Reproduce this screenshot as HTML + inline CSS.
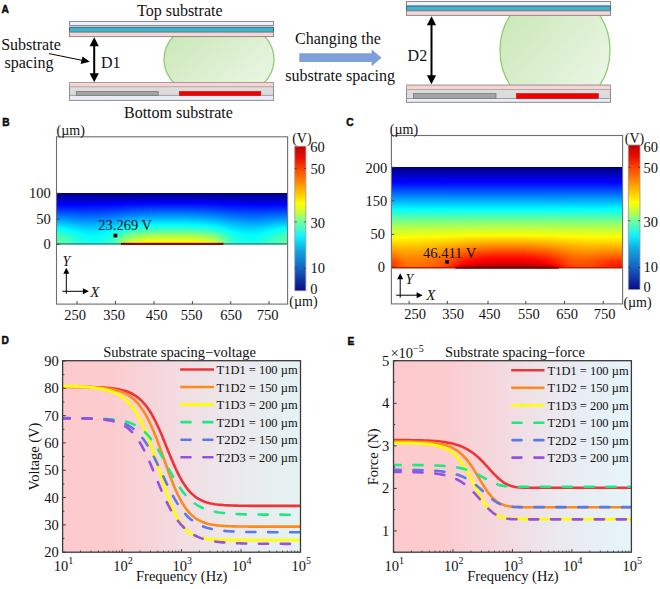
<!DOCTYPE html>
<html><head><meta charset="utf-8"><style>
html,body{margin:0;padding:0;background:#fff;width:660px;height:589px;overflow:hidden}
svg{display:block}
text{fill:#111}
</style></head><body>
<svg width="660" height="589" viewBox="0 0 660 589">
<defs><clipPath id="cpL"><rect x="161" y="36.8" width="116" height="45.5"/></clipPath>
<linearGradient id="dgL" x1="0" y1="0" x2="1" y2="1"><stop offset="0" stop-color="#c6e6b2"/><stop offset="1" stop-color="#f0f8ec"/></linearGradient>
<clipPath id="cpR"><rect x="497" y="16" width="116" height="68.8"/></clipPath>
<linearGradient id="dgR" x1="0" y1="0" x2="1" y2="1"><stop offset="0" stop-color="#c6e6b2"/><stop offset="1" stop-color="#f0f8ec"/></linearGradient>
<linearGradient id="g1" x2="0" y2="1"><stop offset=".010" stop-color="#000086"/><stop offset=".230" stop-color="#0000fc"/><stop offset=".290" stop-color="#001aff"/><stop offset=".550" stop-color="#00a4ff"/><stop offset=".710" stop-color="#00feff"/><stop offset=".850" stop-color="#3effc1"/><stop offset=".950" stop-color="#5cffa3"/><stop offset=".990" stop-color="#62ff9d"/></linearGradient>
<linearGradient id="g2" x2="0" y2="1"><stop offset=".010" stop-color="#000086"/><stop offset=".230" stop-color="#0000fc"/><stop offset=".290" stop-color="#001aff"/><stop offset=".550" stop-color="#00a3ff"/><stop offset=".710" stop-color="#00fcff"/><stop offset=".850" stop-color="#3cffc3"/><stop offset=".950" stop-color="#59ffa6"/><stop offset=".990" stop-color="#5fffa0"/></linearGradient>
<linearGradient id="g3" x2="0" y2="1"><stop offset=".010" stop-color="#000086"/><stop offset=".230" stop-color="#0000fc"/><stop offset=".290" stop-color="#001aff"/><stop offset=".570" stop-color="#00adff"/><stop offset=".710" stop-color="#00faff"/><stop offset=".730" stop-color="#04fffb"/><stop offset=".850" stop-color="#39ffc6"/><stop offset=".950" stop-color="#55ffaa"/><stop offset=".990" stop-color="#5bffa4"/></linearGradient>
<linearGradient id="g4" x2="0" y2="1"><stop offset=".010" stop-color="#000086"/><stop offset=".230" stop-color="#0000fc"/><stop offset=".290" stop-color="#001aff"/><stop offset=".590" stop-color="#00b7ff"/><stop offset=".710" stop-color="#00f7ff"/><stop offset=".730" stop-color="#02fffd"/><stop offset=".850" stop-color="#35ffca"/><stop offset=".950" stop-color="#52ffad"/><stop offset=".990" stop-color="#57ffa8"/></linearGradient>
<linearGradient id="g5" x2="0" y2="1"><stop offset=".010" stop-color="#000086"/><stop offset=".230" stop-color="#0000fc"/><stop offset=".290" stop-color="#001aff"/><stop offset=".590" stop-color="#00b6ff"/><stop offset=".710" stop-color="#00f6ff"/><stop offset=".730" stop-color="#00ffff"/><stop offset=".850" stop-color="#33ffcc"/><stop offset=".950" stop-color="#4fffb0"/><stop offset=".990" stop-color="#54ffab"/></linearGradient>
<linearGradient id="g6" x2="0" y2="1"><stop offset=".010" stop-color="#000086"/><stop offset=".230" stop-color="#0000fb"/><stop offset=".290" stop-color="#0019ff"/><stop offset=".610" stop-color="#00c0ff"/><stop offset=".710" stop-color="#00f4ff"/><stop offset=".730" stop-color="#00fdff"/><stop offset=".850" stop-color="#31ffce"/><stop offset=".950" stop-color="#4cffb3"/><stop offset=".990" stop-color="#51ffae"/></linearGradient>
<linearGradient id="g7" x2="0" y2="1"><stop offset=".010" stop-color="#000085"/><stop offset=".230" stop-color="#0000fb"/><stop offset=".290" stop-color="#0019ff"/><stop offset=".630" stop-color="#00c9ff"/><stop offset=".730" stop-color="#00fbff"/><stop offset=".770" stop-color="#0efff1"/><stop offset=".870" stop-color="#34ffcb"/><stop offset=".950" stop-color="#49ffb6"/><stop offset=".990" stop-color="#4effb1"/></linearGradient>
<linearGradient id="g8" x2="0" y2="1"><stop offset=".010" stop-color="#000085"/><stop offset=".230" stop-color="#0000fb"/><stop offset=".290" stop-color="#0019ff"/><stop offset=".650" stop-color="#00d3ff"/><stop offset=".730" stop-color="#00f9ff"/><stop offset=".750" stop-color="#03fffc"/><stop offset=".850" stop-color="#2bffd4"/><stop offset=".950" stop-color="#46ffb9"/><stop offset=".990" stop-color="#4bffb4"/></linearGradient>
<linearGradient id="g9" x2="0" y2="1"><stop offset=".010" stop-color="#000085"/><stop offset=".230" stop-color="#0000fb"/><stop offset=".270" stop-color="#000fff"/><stop offset=".630" stop-color="#00c6ff"/><stop offset=".730" stop-color="#00f7ff"/><stop offset=".750" stop-color="#01fffe"/><stop offset=".850" stop-color="#28ffd7"/><stop offset=".950" stop-color="#43ffbc"/><stop offset=".990" stop-color="#48ffb7"/></linearGradient>
<linearGradient id="g10" x2="0" y2="1"><stop offset=".010" stop-color="#000085"/><stop offset=".230" stop-color="#0000fb"/><stop offset=".270" stop-color="#000fff"/><stop offset=".650" stop-color="#00cfff"/><stop offset=".750" stop-color="#00fdff"/><stop offset=".870" stop-color="#2bffd4"/><stop offset=".950" stop-color="#3fffc0"/><stop offset=".990" stop-color="#44ffbb"/></linearGradient>
<linearGradient id="g11" x2="0" y2="1"><stop offset=".010" stop-color="#000085"/><stop offset=".230" stop-color="#0000fb"/><stop offset=".270" stop-color="#000fff"/><stop offset=".710" stop-color="#00eaff"/><stop offset=".750" stop-color="#00fbff"/><stop offset=".790" stop-color="#0dfff2"/><stop offset=".890" stop-color="#2effd1"/><stop offset=".970" stop-color="#3effc1"/><stop offset=".990" stop-color="#41ffbe"/></linearGradient>
<linearGradient id="g12" x2="0" y2="1"><stop offset=".010" stop-color="#000085"/><stop offset=".230" stop-color="#0000fb"/><stop offset=".270" stop-color="#000fff"/><stop offset=".710" stop-color="#00e8ff"/><stop offset=".770" stop-color="#02fffd"/><stop offset=".870" stop-color="#25ffda"/><stop offset=".950" stop-color="#38ffc7"/><stop offset=".990" stop-color="#3dffc2"/></linearGradient>
<linearGradient id="g13" x2="0" y2="1"><stop offset=".010" stop-color="#000085"/><stop offset=".230" stop-color="#0000fb"/><stop offset=".270" stop-color="#000fff"/><stop offset=".690" stop-color="#00ddff"/><stop offset=".770" stop-color="#00feff"/><stop offset=".870" stop-color="#22ffdd"/><stop offset=".950" stop-color="#35ffca"/><stop offset=".990" stop-color="#3affc5"/></linearGradient>
<linearGradient id="g14" x2="0" y2="1"><stop offset=".010" stop-color="#000085"/><stop offset=".230" stop-color="#0000fb"/><stop offset=".270" stop-color="#000fff"/><stop offset=".690" stop-color="#00dbff"/><stop offset=".770" stop-color="#00fcff"/><stop offset=".850" stop-color="#19ffe6"/><stop offset=".950" stop-color="#32ffcd"/><stop offset=".990" stop-color="#36ffc9"/></linearGradient>
<linearGradient id="g15" x2="0" y2="1"><stop offset=".010" stop-color="#000085"/><stop offset=".230" stop-color="#0000fb"/><stop offset=".270" stop-color="#000fff"/><stop offset=".690" stop-color="#00d9ff"/><stop offset=".790" stop-color="#02fffd"/><stop offset=".890" stop-color="#21ffde"/><stop offset=".970" stop-color="#31ffce"/><stop offset=".990" stop-color="#33ffcc"/></linearGradient>
<linearGradient id="g16" x2="0" y2="1"><stop offset=".010" stop-color="#000085"/><stop offset=".230" stop-color="#0000fb"/><stop offset=".270" stop-color="#000fff"/><stop offset=".690" stop-color="#00d8ff"/><stop offset=".790" stop-color="#00ffff"/><stop offset=".890" stop-color="#1effe1"/><stop offset=".970" stop-color="#2effd1"/><stop offset=".990" stop-color="#30ffcf"/></linearGradient>
<linearGradient id="g17" x2="0" y2="1"><stop offset=".010" stop-color="#000085"/><stop offset=".230" stop-color="#0000fb"/><stop offset=".270" stop-color="#000fff"/><stop offset=".690" stop-color="#00d6ff"/><stop offset=".790" stop-color="#00fdff"/><stop offset=".950" stop-color="#28ffd7"/><stop offset=".990" stop-color="#2dffd2"/></linearGradient>
<linearGradient id="g18" x2="0" y2="1"><stop offset=".010" stop-color="#000085"/><stop offset=".230" stop-color="#0000fb"/><stop offset=".270" stop-color="#000fff"/><stop offset=".690" stop-color="#00d4ff"/><stop offset=".790" stop-color="#00faff"/><stop offset=".830" stop-color="#09fff6"/><stop offset=".950" stop-color="#25ffda"/><stop offset=".990" stop-color="#2affd5"/></linearGradient>
<linearGradient id="g19" x2="0" y2="1"><stop offset=".010" stop-color="#000085"/><stop offset=".230" stop-color="#0000fb"/><stop offset=".270" stop-color="#000eff"/><stop offset=".690" stop-color="#00d3ff"/><stop offset=".810" stop-color="#01fffe"/><stop offset=".950" stop-color="#23ffdc"/><stop offset=".990" stop-color="#27ffd8"/></linearGradient>
<linearGradient id="g20" x2="0" y2="1"><stop offset=".010" stop-color="#000085"/><stop offset=".230" stop-color="#0000fb"/><stop offset=".270" stop-color="#000eff"/><stop offset=".690" stop-color="#00d0ff"/><stop offset=".810" stop-color="#00fdff"/><stop offset=".950" stop-color="#1fffe0"/><stop offset=".990" stop-color="#23ffdc"/></linearGradient>
<linearGradient id="g21" x2="0" y2="1"><stop offset=".010" stop-color="#000085"/><stop offset=".230" stop-color="#0000fb"/><stop offset=".270" stop-color="#000fff"/><stop offset=".690" stop-color="#00ceff"/><stop offset=".830" stop-color="#01fffe"/><stop offset=".950" stop-color="#1bffe4"/><stop offset=".990" stop-color="#1effe1"/></linearGradient>
<linearGradient id="g22" x2="0" y2="1"><stop offset=".010" stop-color="#000085"/><stop offset=".230" stop-color="#0000fb"/><stop offset=".270" stop-color="#000fff"/><stop offset=".690" stop-color="#00ccff"/><stop offset=".830" stop-color="#00fdff"/><stop offset=".970" stop-color="#19ffe6"/><stop offset=".990" stop-color="#1bffe4"/></linearGradient>
<linearGradient id="g23" x2="0" y2="1"><stop offset=".010" stop-color="#000085"/><stop offset=".230" stop-color="#0000fb"/><stop offset=".270" stop-color="#000fff"/><stop offset=".670" stop-color="#00c3ff"/><stop offset=".830" stop-color="#00faff"/><stop offset=".870" stop-color="#04fffb"/><stop offset=".970" stop-color="#15ffea"/><stop offset=".990" stop-color="#17ffe8"/></linearGradient>
<linearGradient id="g24" x2="0" y2="1"><stop offset=".010" stop-color="#000085"/><stop offset=".230" stop-color="#0000fc"/><stop offset=".390" stop-color="#0047ff"/><stop offset=".690" stop-color="#00caff"/><stop offset=".830" stop-color="#00f9ff"/><stop offset=".890" stop-color="#07fff8"/><stop offset=".990" stop-color="#14ffeb"/></linearGradient>
<linearGradient id="g25" x2="0" y2="1"><stop offset=".010" stop-color="#000085"/><stop offset=".230" stop-color="#0000fe"/><stop offset=".610" stop-color="#00abff"/><stop offset=".750" stop-color="#00e1ff"/><stop offset=".830" stop-color="#00fcff"/><stop offset=".970" stop-color="#15ffea"/><stop offset=".990" stop-color="#16ffe9"/></linearGradient>
<linearGradient id="g26" x2="0" y2="1"><stop offset=".010" stop-color="#000085"/><stop offset=".230" stop-color="#0000fe"/><stop offset=".610" stop-color="#00adff"/><stop offset=".770" stop-color="#00ecff"/><stop offset=".830" stop-color="#01fffe"/><stop offset=".950" stop-color="#17ffe8"/><stop offset=".990" stop-color="#1affe5"/></linearGradient>
<linearGradient id="g27" x2="0" y2="1"><stop offset=".010" stop-color="#000085"/><stop offset=".230" stop-color="#0000ff"/><stop offset=".590" stop-color="#00a6ff"/><stop offset=".710" stop-color="#00d8ff"/><stop offset=".810" stop-color="#00fdff"/><stop offset=".950" stop-color="#1bffe4"/><stop offset=".990" stop-color="#1dffe2"/></linearGradient>
<linearGradient id="g28" x2="0" y2="1"><stop offset=".010" stop-color="#000085"/><stop offset=".230" stop-color="#0000ff"/><stop offset=".590" stop-color="#00a8ff"/><stop offset=".710" stop-color="#00daff"/><stop offset=".810" stop-color="#01fffe"/><stop offset=".930" stop-color="#1cffe3"/><stop offset=".990" stop-color="#21ffde"/></linearGradient>
<linearGradient id="g29" x2="0" y2="1"><stop offset=".010" stop-color="#000085"/><stop offset=".230" stop-color="#0001ff"/><stop offset=".590" stop-color="#00a9ff"/><stop offset=".790" stop-color="#00fbff"/><stop offset=".830" stop-color="#0afff5"/><stop offset=".950" stop-color="#21ffde"/><stop offset=".990" stop-color="#23ffdc"/></linearGradient>
<linearGradient id="g30" x2="0" y2="1"><stop offset=".010" stop-color="#000085"/><stop offset=".210" stop-color="#0000f6"/><stop offset=".230" stop-color="#0001ff"/><stop offset=".590" stop-color="#00aaff"/><stop offset=".790" stop-color="#00fdff"/><stop offset=".910" stop-color="#1effe1"/><stop offset=".990" stop-color="#26ffd9"/></linearGradient>
<linearGradient id="g31" x2="0" y2="1"><stop offset=".010" stop-color="#000085"/><stop offset=".210" stop-color="#0000f6"/><stop offset=".230" stop-color="#0001ff"/><stop offset=".610" stop-color="#00b4ff"/><stop offset=".790" stop-color="#00ffff"/><stop offset=".870" stop-color="#18ffe7"/><stop offset=".970" stop-color="#29ffd6"/><stop offset=".990" stop-color="#2affd5"/></linearGradient>
<linearGradient id="g32" x2="0" y2="1"><stop offset=".010" stop-color="#000085"/><stop offset=".210" stop-color="#0000f7"/><stop offset=".230" stop-color="#0002ff"/><stop offset=".610" stop-color="#00b6ff"/><stop offset=".770" stop-color="#00faff"/><stop offset=".790" stop-color="#03fffc"/><stop offset=".870" stop-color="#1cffe3"/><stop offset=".970" stop-color="#2dffd2"/><stop offset=".990" stop-color="#2dffd2"/></linearGradient>
<linearGradient id="g33" x2="0" y2="1"><stop offset=".010" stop-color="#000085"/><stop offset=".210" stop-color="#0000f7"/><stop offset=".230" stop-color="#0002ff"/><stop offset=".610" stop-color="#00b7ff"/><stop offset=".770" stop-color="#00fcff"/><stop offset=".870" stop-color="#1fffe0"/><stop offset=".970" stop-color="#31ffce"/><stop offset=".990" stop-color="#32ffcd"/></linearGradient>
<linearGradient id="g34" x2="0" y2="1"><stop offset=".010" stop-color="#000085"/><stop offset=".210" stop-color="#0000f7"/><stop offset=".230" stop-color="#0002ff"/><stop offset=".610" stop-color="#00b8ff"/><stop offset=".770" stop-color="#00ffff"/><stop offset=".850" stop-color="#1effe1"/><stop offset=".950" stop-color="#34ffcb"/><stop offset=".990" stop-color="#37ffc8"/></linearGradient>
<linearGradient id="g35" x2="0" y2="1"><stop offset=".010" stop-color="#000085"/><stop offset=".210" stop-color="#0000f8"/><stop offset=".230" stop-color="#0003ff"/><stop offset=".630" stop-color="#00c3ff"/><stop offset=".770" stop-color="#02fffd"/><stop offset=".830" stop-color="#1cffe3"/><stop offset=".950" stop-color="#39ffc6"/><stop offset=".990" stop-color="#3cffc3"/></linearGradient>
<linearGradient id="g36" x2="0" y2="1"><stop offset=".010" stop-color="#000085"/><stop offset=".210" stop-color="#0000f8"/><stop offset=".230" stop-color="#0003ff"/><stop offset=".670" stop-color="#00d8ff"/><stop offset=".750" stop-color="#00fbff"/><stop offset=".790" stop-color="#0ffff0"/><stop offset=".850" stop-color="#26ffd9"/><stop offset=".950" stop-color="#3effc1"/><stop offset=".990" stop-color="#42ffbd"/></linearGradient>
<linearGradient id="g37" x2="0" y2="1"><stop offset=".010" stop-color="#000085"/><stop offset=".210" stop-color="#0000f8"/><stop offset=".230" stop-color="#0003ff"/><stop offset=".670" stop-color="#00daff"/><stop offset=".750" stop-color="#00fdff"/><stop offset=".830" stop-color="#24ffdb"/><stop offset=".950" stop-color="#45ffba"/><stop offset=".990" stop-color="#49ffb6"/></linearGradient>
<linearGradient id="g38" x2="0" y2="1"><stop offset=".010" stop-color="#000085"/><stop offset=".210" stop-color="#0000f9"/><stop offset=".230" stop-color="#0004ff"/><stop offset=".690" stop-color="#00e4ff"/><stop offset=".750" stop-color="#01fffe"/><stop offset=".830" stop-color="#28ffd7"/><stop offset=".950" stop-color="#4bffb4"/><stop offset=".990" stop-color="#51ffae"/></linearGradient>
<linearGradient id="g39" x2="0" y2="1"><stop offset=".010" stop-color="#000085"/><stop offset=".210" stop-color="#0000f9"/><stop offset=".230" stop-color="#0004ff"/><stop offset=".690" stop-color="#00e7ff"/><stop offset=".730" stop-color="#00f8ff"/><stop offset=".750" stop-color="#04fffb"/><stop offset=".830" stop-color="#2dffd2"/><stop offset=".950" stop-color="#53ffac"/><stop offset=".990" stop-color="#5affa5"/></linearGradient>
<linearGradient id="g40" x2="0" y2="1"><stop offset=".010" stop-color="#000085"/><stop offset=".210" stop-color="#0000f9"/><stop offset=".230" stop-color="#0004ff"/><stop offset=".710" stop-color="#00f2ff"/><stop offset=".730" stop-color="#00fbff"/><stop offset=".770" stop-color="#13ffec"/><stop offset=".830" stop-color="#31ffce"/><stop offset=".970" stop-color="#5fffa0"/><stop offset=".990" stop-color="#63ff9c"/></linearGradient>
<linearGradient id="g41" x2="0" y2="1"><stop offset=".010" stop-color="#000085"/><stop offset=".210" stop-color="#0000fa"/><stop offset=".230" stop-color="#0005ff"/><stop offset=".730" stop-color="#00feff"/><stop offset=".830" stop-color="#36ffc9"/><stop offset=".970" stop-color="#69ff96"/><stop offset=".990" stop-color="#6eff91"/></linearGradient>
<linearGradient id="g42" x2="0" y2="1"><stop offset=".010" stop-color="#000085"/><stop offset=".210" stop-color="#0000fa"/><stop offset=".230" stop-color="#0005ff"/><stop offset=".710" stop-color="#00f7ff"/><stop offset=".730" stop-color="#01fffe"/><stop offset=".830" stop-color="#3bffc4"/><stop offset=".970" stop-color="#73ff8c"/><stop offset=".990" stop-color="#79ff86"/></linearGradient>
<linearGradient id="g43" x2="0" y2="1"><stop offset=".010" stop-color="#000085"/><stop offset=".210" stop-color="#0000fa"/><stop offset=".250" stop-color="#0010ff"/><stop offset=".710" stop-color="#00f9ff"/><stop offset=".730" stop-color="#04fffb"/><stop offset=".830" stop-color="#40ffbf"/><stop offset=".990" stop-color="#84ff7b"/></linearGradient>
<linearGradient id="g44" x2="0" y2="1"><stop offset=".010" stop-color="#000085"/><stop offset=".210" stop-color="#0000fb"/><stop offset=".250" stop-color="#0010ff"/><stop offset=".710" stop-color="#00fcff"/><stop offset=".730" stop-color="#07fff8"/><stop offset=".830" stop-color="#45ffba"/><stop offset=".990" stop-color="#90ff6f"/></linearGradient>
<linearGradient id="g45" x2="0" y2="1"><stop offset=".010" stop-color="#000085"/><stop offset=".210" stop-color="#0000fb"/><stop offset=".250" stop-color="#0011ff"/><stop offset=".710" stop-color="#00ffff"/><stop offset=".790" stop-color="#32ffcd"/><stop offset=".870" stop-color="#5effa1"/><stop offset=".990" stop-color="#9bff64"/></linearGradient>
<linearGradient id="g46" x2="0" y2="1"><stop offset=".010" stop-color="#000085"/><stop offset=".210" stop-color="#0000fb"/><stop offset=".250" stop-color="#0011ff"/><stop offset=".710" stop-color="#02fffd"/><stop offset=".830" stop-color="#4fffb0"/><stop offset=".990" stop-color="#a6ff59"/></linearGradient>
<linearGradient id="g47" x2="0" y2="1"><stop offset=".010" stop-color="#000085"/><stop offset=".210" stop-color="#0000fc"/><stop offset=".270" stop-color="#001cff"/><stop offset=".690" stop-color="#00f9ff"/><stop offset=".710" stop-color="#05fffa"/><stop offset=".790" stop-color="#3affc5"/><stop offset=".870" stop-color="#6aff95"/><stop offset=".990" stop-color="#b0ff4f"/></linearGradient>
<linearGradient id="g48" x2="0" y2="1"><stop offset=".010" stop-color="#000085"/><stop offset=".210" stop-color="#0000fc"/><stop offset=".290" stop-color="#0027ff"/><stop offset=".690" stop-color="#00fbff"/><stop offset=".730" stop-color="#12ffed"/><stop offset=".830" stop-color="#59ffa6"/><stop offset=".970" stop-color="#adff52"/><stop offset=".990" stop-color="#b9ff46"/></linearGradient>
<linearGradient id="g49" x2="0" y2="1"><stop offset=".010" stop-color="#000085"/><stop offset=".210" stop-color="#0000fc"/><stop offset=".370" stop-color="#0052ff"/><stop offset=".690" stop-color="#00feff"/><stop offset=".730" stop-color="#15ffea"/><stop offset=".830" stop-color="#5dffa2"/><stop offset=".950" stop-color="#a7ff58"/><stop offset=".990" stop-color="#c2ff3d"/></linearGradient>
<linearGradient id="g50" x2="0" y2="1"><stop offset=".010" stop-color="#000086"/><stop offset=".210" stop-color="#0000fc"/><stop offset=".650" stop-color="#00e9ff"/><stop offset=".690" stop-color="#01fffe"/><stop offset=".730" stop-color="#17ffe8"/><stop offset=".830" stop-color="#61ff9e"/><stop offset=".950" stop-color="#aeff51"/><stop offset=".990" stop-color="#c9ff36"/></linearGradient>
<linearGradient id="g51" x2="0" y2="1"><stop offset=".010" stop-color="#000086"/><stop offset=".210" stop-color="#0000fd"/><stop offset=".650" stop-color="#00ebff"/><stop offset=".690" stop-color="#03fffc"/><stop offset=".730" stop-color="#1affe5"/><stop offset=".830" stop-color="#65ff9a"/><stop offset=".950" stop-color="#b4ff4b"/><stop offset=".990" stop-color="#d0ff2f"/></linearGradient>
<linearGradient id="g52" x2="0" y2="1"><stop offset=".010" stop-color="#000086"/><stop offset=".210" stop-color="#0000fd"/><stop offset=".650" stop-color="#00ecff"/><stop offset=".670" stop-color="#00f8ff"/><stop offset=".690" stop-color="#05fffa"/><stop offset=".730" stop-color="#1cffe3"/><stop offset=".830" stop-color="#69ff96"/><stop offset=".950" stop-color="#b9ff46"/><stop offset=".990" stop-color="#d6ff29"/></linearGradient>
<linearGradient id="g53" x2="0" y2="1"><stop offset=".010" stop-color="#000086"/><stop offset=".210" stop-color="#0000fd"/><stop offset=".650" stop-color="#00eeff"/><stop offset=".670" stop-color="#00faff"/><stop offset=".710" stop-color="#12ffed"/><stop offset=".750" stop-color="#2effd1"/><stop offset=".830" stop-color="#6dff92"/><stop offset=".950" stop-color="#beff41"/><stop offset=".990" stop-color="#dbff24"/></linearGradient>
<linearGradient id="g54" x2="0" y2="1"><stop offset=".010" stop-color="#000086"/><stop offset=".210" stop-color="#0000fe"/><stop offset=".650" stop-color="#00f0ff"/><stop offset=".670" stop-color="#00fcff"/><stop offset=".730" stop-color="#20ffdf"/><stop offset=".830" stop-color="#70ff8f"/><stop offset=".950" stop-color="#c2ff3d"/><stop offset=".990" stop-color="#e0ff1f"/></linearGradient>
<linearGradient id="g55" x2="0" y2="1"><stop offset=".010" stop-color="#000086"/><stop offset=".210" stop-color="#0000fe"/><stop offset=".650" stop-color="#00f1ff"/><stop offset=".670" stop-color="#00fdff"/><stop offset=".730" stop-color="#22ffdd"/><stop offset=".830" stop-color="#73ff8c"/><stop offset=".950" stop-color="#c6ff39"/><stop offset=".990" stop-color="#e4ff1b"/></linearGradient>
<linearGradient id="g56" x2="0" y2="1"><stop offset=".010" stop-color="#000086"/><stop offset=".210" stop-color="#0000fe"/><stop offset=".650" stop-color="#00f3ff"/><stop offset=".670" stop-color="#00ffff"/><stop offset=".730" stop-color="#24ffdb"/><stop offset=".830" stop-color="#76ff89"/><stop offset=".950" stop-color="#caff35"/><stop offset=".990" stop-color="#e8ff17"/></linearGradient>
<linearGradient id="g57" x2="0" y2="1"><stop offset=".010" stop-color="#000086"/><stop offset=".210" stop-color="#0000ff"/><stop offset=".670" stop-color="#01fffe"/><stop offset=".730" stop-color="#26ffd9"/><stop offset=".830" stop-color="#79ff86"/><stop offset=".950" stop-color="#cdff32"/><stop offset=".990" stop-color="#ebff14"/></linearGradient>
<linearGradient id="g58" x2="0" y2="1"><stop offset=".010" stop-color="#000086"/><stop offset=".210" stop-color="#0000ff"/><stop offset=".650" stop-color="#00f5ff"/><stop offset=".670" stop-color="#03fffc"/><stop offset=".730" stop-color="#28ffd7"/><stop offset=".830" stop-color="#7bff84"/><stop offset=".950" stop-color="#d0ff2f"/><stop offset=".990" stop-color="#eeff11"/></linearGradient>
<linearGradient id="g59" x2="0" y2="1"><stop offset=".010" stop-color="#000086"/><stop offset=".210" stop-color="#0000ff"/><stop offset=".650" stop-color="#00f7ff"/><stop offset=".670" stop-color="#05fffa"/><stop offset=".730" stop-color="#2affd5"/><stop offset=".830" stop-color="#7fff80"/><stop offset=".950" stop-color="#d4ff2b"/><stop offset=".990" stop-color="#f2ff0d"/></linearGradient>
<linearGradient id="g60" x2="0" y2="1"><stop offset=".010" stop-color="#000086"/><stop offset=".210" stop-color="#0001ff"/><stop offset=".650" stop-color="#00faff"/><stop offset=".670" stop-color="#07fff8"/><stop offset=".730" stop-color="#2dffd2"/><stop offset=".830" stop-color="#83ff7c"/><stop offset=".950" stop-color="#d8ff27"/><stop offset=".990" stop-color="#f6ff09"/></linearGradient>
<linearGradient id="g61" x2="0" y2="1"><stop offset=".010" stop-color="#000086"/><stop offset=".210" stop-color="#0001ff"/><stop offset=".650" stop-color="#00fcff"/><stop offset=".710" stop-color="#22ffdd"/><stop offset=".750" stop-color="#41ffbe"/><stop offset=".830" stop-color="#86ff79"/><stop offset=".990" stop-color="#faff05"/></linearGradient>
<linearGradient id="g62" x2="0" y2="1"><stop offset=".010" stop-color="#000086"/><stop offset=".210" stop-color="#0002ff"/><stop offset=".630" stop-color="#00f1ff"/><stop offset=".650" stop-color="#00fdff"/><stop offset=".730" stop-color="#32ffcd"/><stop offset=".830" stop-color="#89ff76"/><stop offset=".990" stop-color="#fdff02"/></linearGradient>
<linearGradient id="g63" x2="0" y2="1"><stop offset=".010" stop-color="#000086"/><stop offset=".210" stop-color="#0002ff"/><stop offset=".650" stop-color="#01fffe"/><stop offset=".730" stop-color="#34ffcb"/><stop offset=".830" stop-color="#8cff73"/><stop offset=".990" stop-color="#fffe00"/></linearGradient>
<linearGradient id="g64" x2="0" y2="1"><stop offset=".010" stop-color="#000086"/><stop offset=".190" stop-color="#0000f6"/><stop offset=".210" stop-color="#0003ff"/><stop offset=".650" stop-color="#02fffd"/><stop offset=".730" stop-color="#37ffc8"/><stop offset=".830" stop-color="#90ff6f"/><stop offset=".970" stop-color="#f5ff0a"/><stop offset=".990" stop-color="#fffb00"/></linearGradient>
<linearGradient id="g65" x2="0" y2="1"><stop offset=".010" stop-color="#000086"/><stop offset=".190" stop-color="#0000f6"/><stop offset=".210" stop-color="#0003ff"/><stop offset=".630" stop-color="#00f7ff"/><stop offset=".650" stop-color="#04fffb"/><stop offset=".730" stop-color="#39ffc6"/><stop offset=".830" stop-color="#92ff6d"/><stop offset=".970" stop-color="#f7ff08"/><stop offset=".990" stop-color="#fff900"/></linearGradient>
<linearGradient id="g66" x2="0" y2="1"><stop offset=".010" stop-color="#000086"/><stop offset=".190" stop-color="#0000f7"/><stop offset=".210" stop-color="#0004ff"/><stop offset=".630" stop-color="#00f9ff"/><stop offset=".650" stop-color="#06fff9"/><stop offset=".730" stop-color="#3bffc4"/><stop offset=".830" stop-color="#95ff6a"/><stop offset=".970" stop-color="#faff05"/><stop offset=".990" stop-color="#fff600"/></linearGradient>
<linearGradient id="g67" x2="0" y2="1"><stop offset=".010" stop-color="#000086"/><stop offset=".190" stop-color="#0000f7"/><stop offset=".210" stop-color="#0004ff"/><stop offset=".630" stop-color="#00faff"/><stop offset=".670" stop-color="#15ffea"/><stop offset=".730" stop-color="#3dffc2"/><stop offset=".830" stop-color="#98ff67"/><stop offset=".970" stop-color="#fcff03"/><stop offset=".990" stop-color="#fff400"/></linearGradient>
<linearGradient id="g68" x2="0" y2="1"><stop offset=".010" stop-color="#000086"/><stop offset=".190" stop-color="#0000f6"/><stop offset=".210" stop-color="#0003ff"/><stop offset=".630" stop-color="#00f7ff"/><stop offset=".650" stop-color="#05fffa"/><stop offset=".730" stop-color="#39ffc6"/><stop offset=".830" stop-color="#93ff6c"/><stop offset=".970" stop-color="#f8ff07"/><stop offset=".990" stop-color="#fff800"/></linearGradient>
<linearGradient id="g69" x2="0" y2="1"><stop offset=".010" stop-color="#000086"/><stop offset=".190" stop-color="#0000f6"/><stop offset=".210" stop-color="#0003ff"/><stop offset=".630" stop-color="#00f5ff"/><stop offset=".650" stop-color="#03fffc"/><stop offset=".730" stop-color="#37ffc8"/><stop offset=".830" stop-color="#90ff6f"/><stop offset=".970" stop-color="#f5ff0a"/><stop offset=".990" stop-color="#fffa00"/></linearGradient>
<linearGradient id="g70" x2="0" y2="1"><stop offset=".010" stop-color="#000086"/><stop offset=".190" stop-color="#0000f5"/><stop offset=".210" stop-color="#0002ff"/><stop offset=".650" stop-color="#01fffe"/><stop offset=".730" stop-color="#35ffca"/><stop offset=".830" stop-color="#8dff72"/><stop offset=".990" stop-color="#fffd00"/></linearGradient>
<linearGradient id="g71" x2="0" y2="1"><stop offset=".010" stop-color="#000086"/><stop offset=".210" stop-color="#0002ff"/><stop offset=".630" stop-color="#00f2ff"/><stop offset=".650" stop-color="#00feff"/><stop offset=".730" stop-color="#33ffcc"/><stop offset=".830" stop-color="#8bff74"/><stop offset=".990" stop-color="#feff01"/></linearGradient>
<linearGradient id="g72" x2="0" y2="1"><stop offset=".010" stop-color="#000086"/><stop offset=".210" stop-color="#0001ff"/><stop offset=".630" stop-color="#00f0ff"/><stop offset=".650" stop-color="#00fcff"/><stop offset=".730" stop-color="#31ffce"/><stop offset=".830" stop-color="#88ff77"/><stop offset=".990" stop-color="#fbff04"/></linearGradient>
<linearGradient id="g73" x2="0" y2="1"><stop offset=".010" stop-color="#000086"/><stop offset=".210" stop-color="#0001ff"/><stop offset=".650" stop-color="#00fbff"/><stop offset=".690" stop-color="#15ffea"/><stop offset=".730" stop-color="#2effd1"/><stop offset=".830" stop-color="#85ff7a"/><stop offset=".990" stop-color="#f8ff07"/></linearGradient>
<linearGradient id="g74" x2="0" y2="1"><stop offset=".010" stop-color="#000086"/><stop offset=".210" stop-color="#0000ff"/><stop offset=".650" stop-color="#00f8ff"/><stop offset=".670" stop-color="#06fff9"/><stop offset=".730" stop-color="#2cffd3"/><stop offset=".830" stop-color="#81ff7e"/><stop offset=".950" stop-color="#d6ff29"/><stop offset=".990" stop-color="#f4ff0b"/></linearGradient>
<linearGradient id="g75" x2="0" y2="1"><stop offset=".010" stop-color="#000086"/><stop offset=".210" stop-color="#0000ff"/><stop offset=".650" stop-color="#00f7ff"/><stop offset=".670" stop-color="#04fffb"/><stop offset=".730" stop-color="#29ffd6"/><stop offset=".830" stop-color="#7eff81"/><stop offset=".950" stop-color="#d3ff2c"/><stop offset=".990" stop-color="#f1ff0e"/></linearGradient>
<linearGradient id="g76" x2="0" y2="1"><stop offset=".010" stop-color="#000086"/><stop offset=".210" stop-color="#0000ff"/><stop offset=".650" stop-color="#00f5ff"/><stop offset=".670" stop-color="#03fffc"/><stop offset=".730" stop-color="#28ffd7"/><stop offset=".830" stop-color="#7bff84"/><stop offset=".950" stop-color="#d0ff2f"/><stop offset=".990" stop-color="#eeff11"/></linearGradient>
<linearGradient id="g77" x2="0" y2="1"><stop offset=".010" stop-color="#000086"/><stop offset=".210" stop-color="#0000ff"/><stop offset=".670" stop-color="#01fffe"/><stop offset=".730" stop-color="#26ffd9"/><stop offset=".830" stop-color="#79ff86"/><stop offset=".950" stop-color="#cdff32"/><stop offset=".990" stop-color="#ebff14"/></linearGradient>
<linearGradient id="g78" x2="0" y2="1"><stop offset=".010" stop-color="#000086"/><stop offset=".210" stop-color="#0000fe"/><stop offset=".650" stop-color="#00f3ff"/><stop offset=".670" stop-color="#00ffff"/><stop offset=".730" stop-color="#24ffdb"/><stop offset=".830" stop-color="#76ff89"/><stop offset=".950" stop-color="#caff35"/><stop offset=".990" stop-color="#e8ff17"/></linearGradient>
<linearGradient id="g79" x2="0" y2="1"><stop offset=".010" stop-color="#000086"/><stop offset=".210" stop-color="#0000fe"/><stop offset=".650" stop-color="#00f1ff"/><stop offset=".670" stop-color="#00fdff"/><stop offset=".730" stop-color="#22ffdd"/><stop offset=".830" stop-color="#73ff8c"/><stop offset=".950" stop-color="#c6ff39"/><stop offset=".990" stop-color="#e4ff1b"/></linearGradient>
<linearGradient id="g80" x2="0" y2="1"><stop offset=".010" stop-color="#000086"/><stop offset=".210" stop-color="#0000fe"/><stop offset=".650" stop-color="#00f0ff"/><stop offset=".670" stop-color="#00fcff"/><stop offset=".730" stop-color="#20ffdf"/><stop offset=".830" stop-color="#70ff8f"/><stop offset=".950" stop-color="#c2ff3d"/><stop offset=".990" stop-color="#e0ff1f"/></linearGradient>
<linearGradient id="g81" x2="0" y2="1"><stop offset=".010" stop-color="#000086"/><stop offset=".210" stop-color="#0000fd"/><stop offset=".650" stop-color="#00eeff"/><stop offset=".670" stop-color="#00faff"/><stop offset=".690" stop-color="#07fff8"/><stop offset=".730" stop-color="#1effe1"/><stop offset=".830" stop-color="#6dff92"/><stop offset=".950" stop-color="#beff41"/><stop offset=".990" stop-color="#dbff24"/></linearGradient>
<linearGradient id="g82" x2="0" y2="1"><stop offset=".010" stop-color="#000086"/><stop offset=".210" stop-color="#0000fd"/><stop offset=".650" stop-color="#00ecff"/><stop offset=".690" stop-color="#05fffa"/><stop offset=".730" stop-color="#1cffe3"/><stop offset=".830" stop-color="#69ff96"/><stop offset=".950" stop-color="#b9ff46"/><stop offset=".990" stop-color="#d6ff29"/></linearGradient>
<linearGradient id="g83" x2="0" y2="1"><stop offset=".010" stop-color="#000086"/><stop offset=".210" stop-color="#0000fd"/><stop offset=".650" stop-color="#00ebff"/><stop offset=".690" stop-color="#03fffc"/><stop offset=".730" stop-color="#1affe5"/><stop offset=".830" stop-color="#65ff9a"/><stop offset=".950" stop-color="#b3ff4c"/><stop offset=".990" stop-color="#d0ff2f"/></linearGradient>
<linearGradient id="g84" x2="0" y2="1"><stop offset=".010" stop-color="#000086"/><stop offset=".210" stop-color="#0000fc"/><stop offset=".650" stop-color="#00e9ff"/><stop offset=".690" stop-color="#01fffe"/><stop offset=".730" stop-color="#17ffe8"/><stop offset=".830" stop-color="#61ff9e"/><stop offset=".950" stop-color="#adff52"/><stop offset=".990" stop-color="#c9ff36"/></linearGradient>
<linearGradient id="g85" x2="0" y2="1"><stop offset=".010" stop-color="#000085"/><stop offset=".210" stop-color="#0000fc"/><stop offset=".370" stop-color="#0052ff"/><stop offset=".690" stop-color="#00fdff"/><stop offset=".730" stop-color="#15ffea"/><stop offset=".830" stop-color="#5dffa2"/><stop offset=".950" stop-color="#a7ff58"/><stop offset=".990" stop-color="#c1ff3e"/></linearGradient>
<linearGradient id="g86" x2="0" y2="1"><stop offset=".010" stop-color="#000085"/><stop offset=".210" stop-color="#0000fc"/><stop offset=".290" stop-color="#0027ff"/><stop offset=".690" stop-color="#00fbff"/><stop offset=".730" stop-color="#12ffed"/><stop offset=".830" stop-color="#58ffa7"/><stop offset=".970" stop-color="#acff53"/><stop offset=".990" stop-color="#b9ff46"/></linearGradient>
<linearGradient id="g87" x2="0" y2="1"><stop offset=".010" stop-color="#000085"/><stop offset=".210" stop-color="#0000fc"/><stop offset=".270" stop-color="#001cff"/><stop offset=".690" stop-color="#00f9ff"/><stop offset=".710" stop-color="#04fffb"/><stop offset=".790" stop-color="#39ffc6"/><stop offset=".870" stop-color="#69ff96"/><stop offset=".990" stop-color="#b0ff4f"/></linearGradient>
<linearGradient id="g88" x2="0" y2="1"><stop offset=".010" stop-color="#000085"/><stop offset=".210" stop-color="#0000fb"/><stop offset=".250" stop-color="#0011ff"/><stop offset=".710" stop-color="#02fffd"/><stop offset=".830" stop-color="#4fffb0"/><stop offset=".990" stop-color="#a5ff5a"/></linearGradient>
<linearGradient id="g89" x2="0" y2="1"><stop offset=".010" stop-color="#000085"/><stop offset=".210" stop-color="#0000fb"/><stop offset=".250" stop-color="#0011ff"/><stop offset=".710" stop-color="#00feff"/><stop offset=".770" stop-color="#24ffdb"/><stop offset=".830" stop-color="#4affb5"/><stop offset=".990" stop-color="#9aff65"/></linearGradient>
<linearGradient id="g90" x2="0" y2="1"><stop offset=".010" stop-color="#000085"/><stop offset=".210" stop-color="#0000fb"/><stop offset=".250" stop-color="#0010ff"/><stop offset=".710" stop-color="#00fcff"/><stop offset=".730" stop-color="#07fff8"/><stop offset=".830" stop-color="#45ffba"/><stop offset=".990" stop-color="#8fff70"/></linearGradient>
<linearGradient id="g91" x2="0" y2="1"><stop offset=".010" stop-color="#000085"/><stop offset=".210" stop-color="#0000fa"/><stop offset=".250" stop-color="#0010ff"/><stop offset=".710" stop-color="#00f9ff"/><stop offset=".730" stop-color="#04fffb"/><stop offset=".830" stop-color="#40ffbf"/><stop offset=".990" stop-color="#84ff7b"/></linearGradient>
<linearGradient id="g92" x2="0" y2="1"><stop offset=".010" stop-color="#000085"/><stop offset=".210" stop-color="#0000fa"/><stop offset=".230" stop-color="#0005ff"/><stop offset=".710" stop-color="#00f7ff"/><stop offset=".730" stop-color="#01fffe"/><stop offset=".830" stop-color="#3bffc4"/><stop offset=".970" stop-color="#72ff8d"/><stop offset=".990" stop-color="#78ff87"/></linearGradient>
<linearGradient id="g93" x2="0" y2="1"><stop offset=".010" stop-color="#000085"/><stop offset=".210" stop-color="#0000fa"/><stop offset=".230" stop-color="#0005ff"/><stop offset=".730" stop-color="#00feff"/><stop offset=".830" stop-color="#36ffc9"/><stop offset=".970" stop-color="#68ff97"/><stop offset=".990" stop-color="#6dff92"/></linearGradient>
<linearGradient id="g94" x2="0" y2="1"><stop offset=".010" stop-color="#000085"/><stop offset=".210" stop-color="#0000f9"/><stop offset=".230" stop-color="#0004ff"/><stop offset=".710" stop-color="#00f2ff"/><stop offset=".730" stop-color="#00fbff"/><stop offset=".770" stop-color="#12ffed"/><stop offset=".830" stop-color="#31ffce"/><stop offset=".970" stop-color="#5fffa0"/><stop offset=".990" stop-color="#63ff9c"/></linearGradient>
<linearGradient id="g95" x2="0" y2="1"><stop offset=".010" stop-color="#000085"/><stop offset=".210" stop-color="#0000f9"/><stop offset=".230" stop-color="#0004ff"/><stop offset=".690" stop-color="#00e7ff"/><stop offset=".730" stop-color="#00f8ff"/><stop offset=".750" stop-color="#04fffb"/><stop offset=".830" stop-color="#2dffd2"/><stop offset=".950" stop-color="#52ffad"/><stop offset=".990" stop-color="#59ffa6"/></linearGradient>
<linearGradient id="g96" x2="0" y2="1"><stop offset=".010" stop-color="#000085"/><stop offset=".210" stop-color="#0000f9"/><stop offset=".230" stop-color="#0004ff"/><stop offset=".690" stop-color="#00e4ff"/><stop offset=".750" stop-color="#01fffe"/><stop offset=".830" stop-color="#28ffd7"/><stop offset=".950" stop-color="#4bffb4"/><stop offset=".990" stop-color="#51ffae"/></linearGradient>
<linearGradient id="g97" x2="0" y2="1"><stop offset=".010" stop-color="#000085"/><stop offset=".210" stop-color="#0000f8"/><stop offset=".230" stop-color="#0003ff"/><stop offset=".670" stop-color="#00d9ff"/><stop offset=".750" stop-color="#00fdff"/><stop offset=".830" stop-color="#24ffdb"/><stop offset=".950" stop-color="#44ffbb"/><stop offset=".990" stop-color="#49ffb6"/></linearGradient>
<linearGradient id="g98" x2="0" y2="1"><stop offset=".010" stop-color="#000085"/><stop offset=".210" stop-color="#0000f8"/><stop offset=".230" stop-color="#0003ff"/><stop offset=".670" stop-color="#00d8ff"/><stop offset=".750" stop-color="#00faff"/><stop offset=".790" stop-color="#0ffff0"/><stop offset=".850" stop-color="#26ffd9"/><stop offset=".950" stop-color="#3effc1"/><stop offset=".990" stop-color="#42ffbd"/></linearGradient>
<linearGradient id="g99" x2="0" y2="1"><stop offset=".010" stop-color="#000085"/><stop offset=".210" stop-color="#0000f8"/><stop offset=".230" stop-color="#0003ff"/><stop offset=".630" stop-color="#00c3ff"/><stop offset=".770" stop-color="#02fffd"/><stop offset=".830" stop-color="#1cffe3"/><stop offset=".950" stop-color="#39ffc6"/><stop offset=".990" stop-color="#3cffc3"/></linearGradient>
<linearGradient id="g100" x2="0" y2="1"><stop offset=".010" stop-color="#000085"/><stop offset=".210" stop-color="#0000f7"/><stop offset=".230" stop-color="#0002ff"/><stop offset=".610" stop-color="#00b8ff"/><stop offset=".770" stop-color="#00ffff"/><stop offset=".850" stop-color="#1effe1"/><stop offset=".950" stop-color="#34ffcb"/><stop offset=".990" stop-color="#36ffc9"/></linearGradient>
<linearGradient id="g101" x2="0" y2="1"><stop offset=".010" stop-color="#000085"/><stop offset=".210" stop-color="#0000f7"/><stop offset=".230" stop-color="#0002ff"/><stop offset=".610" stop-color="#00b7ff"/><stop offset=".770" stop-color="#00fcff"/><stop offset=".870" stop-color="#1fffe0"/><stop offset=".970" stop-color="#31ffce"/><stop offset=".990" stop-color="#32ffcd"/></linearGradient>
<linearGradient id="g102" x2="0" y2="1"><stop offset=".010" stop-color="#000085"/><stop offset=".210" stop-color="#0000f7"/><stop offset=".230" stop-color="#0002ff"/><stop offset=".610" stop-color="#00b6ff"/><stop offset=".770" stop-color="#00f9ff"/><stop offset=".790" stop-color="#03fffc"/><stop offset=".870" stop-color="#1cffe3"/><stop offset=".970" stop-color="#2dffd2"/><stop offset=".990" stop-color="#2dffd2"/></linearGradient>
<linearGradient id="g103" x2="0" y2="1"><stop offset=".010" stop-color="#000085"/><stop offset=".210" stop-color="#0000f6"/><stop offset=".230" stop-color="#0001ff"/><stop offset=".610" stop-color="#00b4ff"/><stop offset=".790" stop-color="#00ffff"/><stop offset=".870" stop-color="#18ffe7"/><stop offset=".970" stop-color="#29ffd6"/><stop offset=".990" stop-color="#2affd5"/></linearGradient>
<linearGradient id="g104" x2="0" y2="1"><stop offset=".010" stop-color="#000085"/><stop offset=".210" stop-color="#0000f6"/><stop offset=".230" stop-color="#0001ff"/><stop offset=".590" stop-color="#00aaff"/><stop offset=".790" stop-color="#00fdff"/><stop offset=".910" stop-color="#1effe1"/><stop offset=".990" stop-color="#26ffd9"/></linearGradient>
<linearGradient id="g105" x2="0" y2="1"><stop offset=".010" stop-color="#000085"/><stop offset=".230" stop-color="#0001ff"/><stop offset=".590" stop-color="#00a9ff"/><stop offset=".790" stop-color="#00fbff"/><stop offset=".830" stop-color="#0afff5"/><stop offset=".950" stop-color="#21ffde"/><stop offset=".990" stop-color="#23ffdc"/></linearGradient>
<linearGradient id="g106" x2="0" y2="1"><stop offset=".010" stop-color="#000085"/><stop offset=".230" stop-color="#0000ff"/><stop offset=".590" stop-color="#00a8ff"/><stop offset=".710" stop-color="#00d9ff"/><stop offset=".810" stop-color="#01fffe"/><stop offset=".950" stop-color="#1effe1"/><stop offset=".990" stop-color="#20ffdf"/></linearGradient>
<linearGradient id="g107" x2="0" y2="1"><stop offset=".010" stop-color="#000085"/><stop offset=".230" stop-color="#0000fe"/><stop offset=".590" stop-color="#00a6ff"/><stop offset=".710" stop-color="#00d7ff"/><stop offset=".810" stop-color="#00fcff"/><stop offset=".890" stop-color="#0ffff0"/><stop offset=".970" stop-color="#1bffe4"/><stop offset=".990" stop-color="#1cffe3"/></linearGradient>
<linearGradient id="g108" x2="0" y2="1"><stop offset=".010" stop-color="#000085"/><stop offset=".230" stop-color="#0000fe"/><stop offset=".610" stop-color="#00adff"/><stop offset=".750" stop-color="#00e3ff"/><stop offset=".830" stop-color="#00feff"/><stop offset=".950" stop-color="#16ffe9"/><stop offset=".990" stop-color="#19ffe6"/></linearGradient>
<linearGradient id="g109" x2="0" y2="1"><stop offset=".010" stop-color="#000085"/><stop offset=".230" stop-color="#0000fd"/><stop offset=".630" stop-color="#00b3ff"/><stop offset=".810" stop-color="#00f6ff"/><stop offset=".850" stop-color="#01fffe"/><stop offset=".950" stop-color="#14ffeb"/><stop offset=".990" stop-color="#16ffe9"/></linearGradient>
<linearGradient id="g110" x2="0" y2="1"><stop offset=".010" stop-color="#000085"/><stop offset=".230" stop-color="#0000fc"/><stop offset=".370" stop-color="#003eff"/><stop offset=".690" stop-color="#00caff"/><stop offset=".830" stop-color="#00faff"/><stop offset=".870" stop-color="#03fffc"/><stop offset=".970" stop-color="#14ffeb"/><stop offset=".990" stop-color="#15ffea"/></linearGradient>
<linearGradient id="g111" x2="0" y2="1"><stop offset=".010" stop-color="#000085"/><stop offset=".230" stop-color="#0000fb"/><stop offset=".290" stop-color="#0018ff"/><stop offset=".670" stop-color="#00c4ff"/><stop offset=".830" stop-color="#00fbff"/><stop offset=".890" stop-color="#0afff5"/><stop offset=".990" stop-color="#19ffe6"/></linearGradient>
<linearGradient id="g112" x2="0" y2="1"><stop offset=".010" stop-color="#000085"/><stop offset=".230" stop-color="#0000fb"/><stop offset=".270" stop-color="#000fff"/><stop offset=".690" stop-color="#00cdff"/><stop offset=".830" stop-color="#00feff"/><stop offset=".970" stop-color="#1affe5"/><stop offset=".990" stop-color="#1cffe3"/></linearGradient>
<linearGradient id="g113" x2="0" y2="1"><stop offset=".010" stop-color="#000085"/><stop offset=".230" stop-color="#0000fb"/><stop offset=".270" stop-color="#000fff"/><stop offset=".690" stop-color="#00cfff"/><stop offset=".830" stop-color="#01fffe"/><stop offset=".950" stop-color="#1cffe3"/><stop offset=".990" stop-color="#1fffe0"/></linearGradient>
<linearGradient id="g114" x2="0" y2="1"><stop offset=".010" stop-color="#000085"/><stop offset=".230" stop-color="#0000fb"/><stop offset=".270" stop-color="#000fff"/><stop offset=".690" stop-color="#00d1ff"/><stop offset=".810" stop-color="#00feff"/><stop offset=".950" stop-color="#20ffdf"/><stop offset=".990" stop-color="#24ffdb"/></linearGradient>
<linearGradient id="g115" x2="0" y2="1"><stop offset=".010" stop-color="#000085"/><stop offset=".230" stop-color="#0000fb"/><stop offset=".270" stop-color="#000fff"/><stop offset=".690" stop-color="#00d3ff"/><stop offset=".810" stop-color="#02fffd"/><stop offset=".950" stop-color="#24ffdb"/><stop offset=".990" stop-color="#28ffd7"/></linearGradient>
<linearGradient id="g116" x2="0" y2="1"><stop offset=".010" stop-color="#000085"/><stop offset=".230" stop-color="#0000fb"/><stop offset=".270" stop-color="#000fff"/><stop offset=".690" stop-color="#00d5ff"/><stop offset=".790" stop-color="#00fbff"/><stop offset=".850" stop-color="#10ffef"/><stop offset=".950" stop-color="#27ffd8"/><stop offset=".990" stop-color="#2bffd4"/></linearGradient>
<linearGradient id="g117" x2="0" y2="1"><stop offset=".010" stop-color="#000085"/><stop offset=".230" stop-color="#0000fb"/><stop offset=".270" stop-color="#000fff"/><stop offset=".690" stop-color="#00d7ff"/><stop offset=".790" stop-color="#00feff"/><stop offset=".930" stop-color="#26ffd9"/><stop offset=".990" stop-color="#2effd1"/></linearGradient>
<linearGradient id="g118" x2="0" y2="1"><stop offset=".010" stop-color="#000085"/><stop offset=".230" stop-color="#0000fb"/><stop offset=".270" stop-color="#000fff"/><stop offset=".690" stop-color="#00d8ff"/><stop offset=".790" stop-color="#01fffe"/><stop offset=".890" stop-color="#1fffe0"/><stop offset=".970" stop-color="#2fffd0"/><stop offset=".990" stop-color="#31ffce"/></linearGradient>
<linearGradient id="g119" x2="0" y2="1"><stop offset=".010" stop-color="#000085"/><stop offset=".230" stop-color="#0000fb"/><stop offset=".270" stop-color="#000fff"/><stop offset=".690" stop-color="#00daff"/><stop offset=".770" stop-color="#00faff"/><stop offset=".810" stop-color="#0bfff4"/><stop offset=".950" stop-color="#30ffcf"/><stop offset=".990" stop-color="#34ffcb"/></linearGradient>
<linearGradient id="g120" x2="0" y2="1"><stop offset=".010" stop-color="#000085"/><stop offset=".230" stop-color="#0000fb"/><stop offset=".270" stop-color="#000fff"/><stop offset=".690" stop-color="#00dcff"/><stop offset=".770" stop-color="#00fdff"/><stop offset=".890" stop-color="#25ffda"/><stop offset=".970" stop-color="#35ffca"/><stop offset=".990" stop-color="#37ffc8"/></linearGradient>
<linearGradient id="g121" x2="0" y2="1"><stop offset=".010" stop-color="#000085"/><stop offset=".230" stop-color="#0000fb"/><stop offset=".270" stop-color="#000fff"/><stop offset=".690" stop-color="#00deff"/><stop offset=".770" stop-color="#00ffff"/><stop offset=".870" stop-color="#23ffdc"/><stop offset=".950" stop-color="#36ffc9"/><stop offset=".990" stop-color="#3bffc4"/></linearGradient>
<linearGradient id="g122" x2="0" y2="1"><stop offset=".010" stop-color="#000085"/><stop offset=".230" stop-color="#0000fb"/><stop offset=".270" stop-color="#000fff"/><stop offset=".710" stop-color="#00e8ff"/><stop offset=".770" stop-color="#03fffc"/><stop offset=".870" stop-color="#26ffd9"/><stop offset=".950" stop-color="#3affc5"/><stop offset=".990" stop-color="#3effc1"/></linearGradient>
<linearGradient id="g123" x2="0" y2="1"><stop offset=".010" stop-color="#000085"/><stop offset=".230" stop-color="#0000fb"/><stop offset=".270" stop-color="#000fff"/><stop offset=".710" stop-color="#00eaff"/><stop offset=".750" stop-color="#00fcff"/><stop offset=".830" stop-color="#1dffe2"/><stop offset=".950" stop-color="#3dffc2"/><stop offset=".990" stop-color="#42ffbd"/></linearGradient>
<linearGradient id="g124" x2="0" y2="1"><stop offset=".010" stop-color="#000085"/><stop offset=".230" stop-color="#0000fb"/><stop offset=".290" stop-color="#0019ff"/><stop offset=".710" stop-color="#00edff"/><stop offset=".750" stop-color="#00feff"/><stop offset=".850" stop-color="#26ffd9"/><stop offset=".950" stop-color="#40ffbf"/><stop offset=".990" stop-color="#45ffba"/></linearGradient>
<linearGradient id="g125" x2="0" y2="1"><stop offset=".010" stop-color="#000085"/><stop offset=".230" stop-color="#0000fb"/><stop offset=".290" stop-color="#0019ff"/><stop offset=".710" stop-color="#00efff"/><stop offset=".750" stop-color="#01fffe"/><stop offset=".850" stop-color="#29ffd6"/><stop offset=".950" stop-color="#44ffbb"/><stop offset=".990" stop-color="#49ffb6"/></linearGradient>
<linearGradient id="g126" x2="0" y2="1"><stop offset=".010" stop-color="#000085"/><stop offset=".230" stop-color="#0000fc"/><stop offset=".290" stop-color="#0019ff"/><stop offset=".650" stop-color="#00d3ff"/><stop offset=".730" stop-color="#00faff"/><stop offset=".750" stop-color="#04fffb"/><stop offset=".850" stop-color="#2cffd3"/><stop offset=".950" stop-color="#47ffb8"/><stop offset=".990" stop-color="#4cffb3"/></linearGradient>
<linearGradient id="g127" x2="0" y2="1"><stop offset=".010" stop-color="#000086"/><stop offset=".230" stop-color="#0000fc"/><stop offset=".290" stop-color="#0019ff"/><stop offset=".630" stop-color="#00caff"/><stop offset=".730" stop-color="#00fcff"/><stop offset=".810" stop-color="#20ffdf"/><stop offset=".930" stop-color="#46ffb9"/><stop offset=".990" stop-color="#4fffb0"/></linearGradient>
<linearGradient id="g128" x2="0" y2="1"><stop offset=".010" stop-color="#000086"/><stop offset=".230" stop-color="#0000fc"/><stop offset=".290" stop-color="#001aff"/><stop offset=".610" stop-color="#00c0ff"/><stop offset=".710" stop-color="#00f5ff"/><stop offset=".730" stop-color="#00feff"/><stop offset=".850" stop-color="#31ffce"/><stop offset=".950" stop-color="#4dffb2"/><stop offset=".990" stop-color="#52ffad"/></linearGradient>
<linearGradient id="g129" x2="0" y2="1"><stop offset=".010" stop-color="#000086"/><stop offset=".230" stop-color="#0000fc"/><stop offset=".290" stop-color="#001aff"/><stop offset=".590" stop-color="#00b7ff"/><stop offset=".710" stop-color="#00f6ff"/><stop offset=".730" stop-color="#01fffe"/><stop offset=".850" stop-color="#34ffcb"/><stop offset=".950" stop-color="#50ffaf"/><stop offset=".990" stop-color="#55ffaa"/></linearGradient>
<linearGradient id="g130" x2="0" y2="1"><stop offset=".010" stop-color="#000086"/><stop offset=".230" stop-color="#0000fc"/><stop offset=".290" stop-color="#001aff"/><stop offset=".570" stop-color="#00adff"/><stop offset=".710" stop-color="#00f9ff"/><stop offset=".730" stop-color="#03fffc"/><stop offset=".850" stop-color="#37ffc8"/><stop offset=".950" stop-color="#54ffab"/><stop offset=".990" stop-color="#59ffa6"/></linearGradient>
<linearGradient id="g131" x2="0" y2="1"><stop offset=".010" stop-color="#000086"/><stop offset=".230" stop-color="#0000fc"/><stop offset=".290" stop-color="#001aff"/><stop offset=".570" stop-color="#00aeff"/><stop offset=".710" stop-color="#00fcff"/><stop offset=".770" stop-color="#19ffe6"/><stop offset=".870" stop-color="#42ffbd"/><stop offset=".950" stop-color="#58ffa7"/><stop offset=".990" stop-color="#5dffa2"/></linearGradient>
<linearGradient id="g132" x2="0" y2="1"><stop offset=".010" stop-color="#000086"/><stop offset=".230" stop-color="#0000fc"/><stop offset=".290" stop-color="#001aff"/><stop offset=".550" stop-color="#00a4ff"/><stop offset=".710" stop-color="#00feff"/><stop offset=".850" stop-color="#3effc1"/><stop offset=".950" stop-color="#5cffa3"/><stop offset=".990" stop-color="#61ff9e"/></linearGradient>
<linearGradient id="g133" x2="0" y2="1"><stop offset=".010" stop-color="#000086"/><stop offset=".230" stop-color="#0000fc"/><stop offset=".290" stop-color="#001aff"/><stop offset=".550" stop-color="#00a4ff"/><stop offset=".710" stop-color="#00ffff"/><stop offset=".850" stop-color="#3fffc0"/><stop offset=".950" stop-color="#5dffa2"/><stop offset=".990" stop-color="#63ff9c"/></linearGradient>
<linearGradient id="cbB" x1="0" y1="0" x2="0" y2="1"><stop offset="0.0000" stop-color="#c00000"/><stop offset="0.0833" stop-color="#e81000"/><stop offset="0.1667" stop-color="#ff4c00"/><stop offset="0.2367" stop-color="#ff8000"/><stop offset="0.3167" stop-color="#ffbf00"/><stop offset="0.3967" stop-color="#ffff00"/><stop offset="0.4600" stop-color="#c0ff40"/><stop offset="0.5250" stop-color="#70ffa0"/><stop offset="0.6283" stop-color="#10f0ff"/><stop offset="0.7200" stop-color="#10a8e2"/><stop offset="0.8450" stop-color="#1462c4"/><stop offset="0.9317" stop-color="#1030a0"/><stop offset="1.0000" stop-color="#0a0a88"/></linearGradient>
<linearGradient id="g134" x2="0" y2="1"><stop offset=".005" stop-color="#000084"/><stop offset=".155" stop-color="#0001ff"/><stop offset=".415" stop-color="#00faff"/><stop offset=".425" stop-color="#05fffa"/><stop offset=".595" stop-color="#adff52"/><stop offset=".705" stop-color="#fffd00"/><stop offset=".875" stop-color="#ff7f00"/><stop offset=".935" stop-color="#ff5000"/><stop offset=".985" stop-color="#ff3700"/><stop offset=".995" stop-color="#ff3500"/></linearGradient>
<linearGradient id="g135" x2="0" y2="1"><stop offset=".005" stop-color="#000084"/><stop offset=".155" stop-color="#0001ff"/><stop offset=".415" stop-color="#00faff"/><stop offset=".425" stop-color="#05fffa"/><stop offset=".595" stop-color="#adff52"/><stop offset=".705" stop-color="#fffd00"/><stop offset=".885" stop-color="#ff7800"/><stop offset=".935" stop-color="#ff5200"/><stop offset=".985" stop-color="#ff3a00"/><stop offset=".995" stop-color="#ff3800"/></linearGradient>
<linearGradient id="g136" x2="0" y2="1"><stop offset=".005" stop-color="#000084"/><stop offset=".155" stop-color="#0001ff"/><stop offset=".415" stop-color="#00faff"/><stop offset=".425" stop-color="#05fffa"/><stop offset=".595" stop-color="#adff52"/><stop offset=".705" stop-color="#fffd00"/><stop offset=".895" stop-color="#ff7200"/><stop offset=".945" stop-color="#ff5000"/><stop offset=".995" stop-color="#ff3b00"/></linearGradient>
<linearGradient id="g137" x2="0" y2="1"><stop offset=".005" stop-color="#000084"/><stop offset=".155" stop-color="#0001ff"/><stop offset=".415" stop-color="#00faff"/><stop offset=".425" stop-color="#05fffa"/><stop offset=".585" stop-color="#a4ff5b"/><stop offset=".705" stop-color="#fffd00"/><stop offset=".935" stop-color="#ff5800"/><stop offset=".995" stop-color="#ff3f00"/></linearGradient>
<linearGradient id="g138" x2="0" y2="1"><stop offset=".005" stop-color="#000084"/><stop offset=".155" stop-color="#0001ff"/><stop offset=".415" stop-color="#00faff"/><stop offset=".425" stop-color="#05fffa"/><stop offset=".585" stop-color="#a4ff5b"/><stop offset=".705" stop-color="#fffd00"/><stop offset=".935" stop-color="#ff5c00"/><stop offset=".995" stop-color="#ff4400"/></linearGradient>
<linearGradient id="g139" x2="0" y2="1"><stop offset=".005" stop-color="#000084"/><stop offset=".155" stop-color="#0001ff"/><stop offset=".415" stop-color="#00faff"/><stop offset=".425" stop-color="#05fffa"/><stop offset=".585" stop-color="#a4ff5b"/><stop offset=".705" stop-color="#fffd00"/><stop offset=".935" stop-color="#ff5f00"/><stop offset=".995" stop-color="#ff4800"/></linearGradient>
<linearGradient id="g140" x2="0" y2="1"><stop offset=".005" stop-color="#000084"/><stop offset=".155" stop-color="#0001ff"/><stop offset=".415" stop-color="#00faff"/><stop offset=".425" stop-color="#05fffa"/><stop offset=".585" stop-color="#a4ff5b"/><stop offset=".705" stop-color="#fffd00"/><stop offset=".915" stop-color="#ff6f00"/><stop offset=".985" stop-color="#ff4f00"/><stop offset=".995" stop-color="#ff4d00"/></linearGradient>
<linearGradient id="g141" x2="0" y2="1"><stop offset=".005" stop-color="#000084"/><stop offset=".155" stop-color="#0001ff"/><stop offset=".415" stop-color="#00faff"/><stop offset=".425" stop-color="#05fffa"/><stop offset=".585" stop-color="#a4ff5b"/><stop offset=".705" stop-color="#fffd00"/><stop offset=".825" stop-color="#ffac00"/><stop offset=".935" stop-color="#ff6700"/><stop offset=".995" stop-color="#ff5200"/></linearGradient>
<linearGradient id="g142" x2="0" y2="1"><stop offset=".005" stop-color="#000084"/><stop offset=".155" stop-color="#0001ff"/><stop offset=".415" stop-color="#00faff"/><stop offset=".425" stop-color="#05fffa"/><stop offset=".585" stop-color="#a4ff5b"/><stop offset=".705" stop-color="#fffd00"/><stop offset=".815" stop-color="#ffb300"/><stop offset=".935" stop-color="#ff6b00"/><stop offset=".995" stop-color="#ff5600"/></linearGradient>
<linearGradient id="g143" x2="0" y2="1"><stop offset=".005" stop-color="#000084"/><stop offset=".155" stop-color="#0001ff"/><stop offset=".415" stop-color="#00faff"/><stop offset=".425" stop-color="#05fffa"/><stop offset=".585" stop-color="#a4ff5b"/><stop offset=".705" stop-color="#fffd00"/><stop offset=".815" stop-color="#ffb400"/><stop offset=".935" stop-color="#ff6e00"/><stop offset=".995" stop-color="#ff5b00"/></linearGradient>
<linearGradient id="g144" x2="0" y2="1"><stop offset=".005" stop-color="#000084"/><stop offset=".155" stop-color="#0001ff"/><stop offset=".415" stop-color="#00faff"/><stop offset=".425" stop-color="#05fffa"/><stop offset=".585" stop-color="#a4ff5b"/><stop offset=".705" stop-color="#fffd00"/><stop offset=".815" stop-color="#ffb400"/><stop offset=".935" stop-color="#ff7100"/><stop offset=".995" stop-color="#ff5e00"/></linearGradient>
<linearGradient id="g145" x2="0" y2="1"><stop offset=".005" stop-color="#000084"/><stop offset=".155" stop-color="#0001ff"/><stop offset=".415" stop-color="#00faff"/><stop offset=".425" stop-color="#05fffa"/><stop offset=".585" stop-color="#a4ff5b"/><stop offset=".705" stop-color="#fffd00"/><stop offset=".805" stop-color="#ffba00"/><stop offset=".935" stop-color="#ff7400"/><stop offset=".995" stop-color="#ff6200"/></linearGradient>
<linearGradient id="g146" x2="0" y2="1"><stop offset=".005" stop-color="#000084"/><stop offset=".155" stop-color="#0001ff"/><stop offset=".415" stop-color="#00faff"/><stop offset=".425" stop-color="#05fffa"/><stop offset=".585" stop-color="#a4ff5b"/><stop offset=".705" stop-color="#fffd00"/><stop offset=".805" stop-color="#ffbb00"/><stop offset=".935" stop-color="#ff7700"/><stop offset=".995" stop-color="#ff6600"/></linearGradient>
<linearGradient id="g147" x2="0" y2="1"><stop offset=".005" stop-color="#000084"/><stop offset=".155" stop-color="#0001ff"/><stop offset=".415" stop-color="#00faff"/><stop offset=".425" stop-color="#05fffa"/><stop offset=".585" stop-color="#a4ff5b"/><stop offset=".705" stop-color="#fffc00"/><stop offset=".805" stop-color="#ffbb00"/><stop offset=".935" stop-color="#ff7b00"/><stop offset=".995" stop-color="#ff6a00"/></linearGradient>
<linearGradient id="g148" x2="0" y2="1"><stop offset=".005" stop-color="#000084"/><stop offset=".155" stop-color="#0001ff"/><stop offset=".415" stop-color="#00f9ff"/><stop offset=".425" stop-color="#04fffb"/><stop offset=".585" stop-color="#a4ff5b"/><stop offset=".695" stop-color="#faff05"/><stop offset=".715" stop-color="#fff500"/><stop offset=".805" stop-color="#ffba00"/><stop offset=".925" stop-color="#ff8000"/><stop offset=".995" stop-color="#ff6d00"/></linearGradient>
<linearGradient id="g149" x2="0" y2="1"><stop offset=".005" stop-color="#000084"/><stop offset=".155" stop-color="#0001ff"/><stop offset=".415" stop-color="#00f9ff"/><stop offset=".425" stop-color="#04fffb"/><stop offset=".575" stop-color="#9bff64"/><stop offset=".695" stop-color="#fbff04"/><stop offset=".725" stop-color="#ffec00"/><stop offset=".805" stop-color="#ffb800"/><stop offset=".925" stop-color="#ff7e00"/><stop offset=".995" stop-color="#ff6b00"/></linearGradient>
<linearGradient id="g150" x2="0" y2="1"><stop offset=".005" stop-color="#000084"/><stop offset=".155" stop-color="#0001ff"/><stop offset=".415" stop-color="#00f9ff"/><stop offset=".425" stop-color="#04fffb"/><stop offset=".575" stop-color="#9bff64"/><stop offset=".695" stop-color="#fcff03"/><stop offset=".755" stop-color="#ffd600"/><stop offset=".825" stop-color="#ffab00"/><stop offset=".925" stop-color="#ff7b00"/><stop offset=".995" stop-color="#ff6800"/></linearGradient>
<linearGradient id="g151" x2="0" y2="1"><stop offset=".005" stop-color="#000084"/><stop offset=".155" stop-color="#0001ff"/><stop offset=".415" stop-color="#00f9ff"/><stop offset=".425" stop-color="#04fffb"/><stop offset=".565" stop-color="#92ff6d"/><stop offset=".635" stop-color="#cdff32"/><stop offset=".695" stop-color="#fdff02"/><stop offset=".805" stop-color="#ffb400"/><stop offset=".925" stop-color="#ff7800"/><stop offset=".995" stop-color="#ff6500"/></linearGradient>
<linearGradient id="g152" x2="0" y2="1"><stop offset=".005" stop-color="#000084"/><stop offset=".155" stop-color="#0001ff"/><stop offset=".415" stop-color="#00f9ff"/><stop offset=".425" stop-color="#04fffb"/><stop offset=".565" stop-color="#92ff6d"/><stop offset=".635" stop-color="#ceff31"/><stop offset=".695" stop-color="#fdff02"/><stop offset=".805" stop-color="#ffb200"/><stop offset=".925" stop-color="#ff7500"/><stop offset=".995" stop-color="#ff6200"/></linearGradient>
<linearGradient id="g153" x2="0" y2="1"><stop offset=".005" stop-color="#000084"/><stop offset=".155" stop-color="#0001ff"/><stop offset=".415" stop-color="#00f9ff"/><stop offset=".425" stop-color="#04fffb"/><stop offset=".565" stop-color="#92ff6d"/><stop offset=".645" stop-color="#d6ff29"/><stop offset=".695" stop-color="#feff01"/><stop offset=".805" stop-color="#ffb000"/><stop offset=".915" stop-color="#ff7600"/><stop offset=".995" stop-color="#ff5f00"/></linearGradient>
<linearGradient id="g154" x2="0" y2="1"><stop offset=".005" stop-color="#000084"/><stop offset=".155" stop-color="#0001ff"/><stop offset=".415" stop-color="#00f8ff"/><stop offset=".425" stop-color="#03fffc"/><stop offset=".565" stop-color="#92ff6d"/><stop offset=".645" stop-color="#d6ff29"/><stop offset=".695" stop-color="#feff01"/><stop offset=".805" stop-color="#ffae00"/><stop offset=".915" stop-color="#ff7400"/><stop offset=".995" stop-color="#ff5b00"/></linearGradient>
<linearGradient id="g155" x2="0" y2="1"><stop offset=".005" stop-color="#000084"/><stop offset=".155" stop-color="#0001ff"/><stop offset=".415" stop-color="#00f8ff"/><stop offset=".425" stop-color="#03fffc"/><stop offset=".565" stop-color="#92ff6d"/><stop offset=".655" stop-color="#deff21"/><stop offset=".695" stop-color="#ffff00"/><stop offset=".805" stop-color="#ffad00"/><stop offset=".915" stop-color="#ff7100"/><stop offset=".995" stop-color="#ff5800"/></linearGradient>
<linearGradient id="g156" x2="0" y2="1"><stop offset=".005" stop-color="#000084"/><stop offset=".155" stop-color="#0001ff"/><stop offset=".415" stop-color="#00f8ff"/><stop offset=".425" stop-color="#03fffc"/><stop offset=".555" stop-color="#89ff76"/><stop offset=".635" stop-color="#ceff31"/><stop offset=".695" stop-color="#ffff00"/><stop offset=".805" stop-color="#ffab00"/><stop offset=".915" stop-color="#ff6d00"/><stop offset=".975" stop-color="#ff5a00"/><stop offset=".995" stop-color="#ff5300"/></linearGradient>
<linearGradient id="g157" x2="0" y2="1"><stop offset=".005" stop-color="#000084"/><stop offset=".155" stop-color="#0001ff"/><stop offset=".415" stop-color="#00f8ff"/><stop offset=".425" stop-color="#03fffc"/><stop offset=".555" stop-color="#89ff76"/><stop offset=".635" stop-color="#cfff30"/><stop offset=".695" stop-color="#fffe00"/><stop offset=".805" stop-color="#ffa900"/><stop offset=".915" stop-color="#ff6b00"/><stop offset=".975" stop-color="#ff5700"/><stop offset=".995" stop-color="#ff5000"/></linearGradient>
<linearGradient id="g158" x2="0" y2="1"><stop offset=".005" stop-color="#000084"/><stop offset=".155" stop-color="#0001ff"/><stop offset=".415" stop-color="#00f8ff"/><stop offset=".425" stop-color="#03fffc"/><stop offset=".555" stop-color="#89ff76"/><stop offset=".635" stop-color="#cfff30"/><stop offset=".695" stop-color="#fffe00"/><stop offset=".805" stop-color="#ffa800"/><stop offset=".915" stop-color="#ff6900"/><stop offset=".975" stop-color="#ff5500"/><stop offset=".995" stop-color="#ff4d00"/></linearGradient>
<linearGradient id="g159" x2="0" y2="1"><stop offset=".005" stop-color="#000084"/><stop offset=".155" stop-color="#0001ff"/><stop offset=".415" stop-color="#00f8ff"/><stop offset=".425" stop-color="#03fffc"/><stop offset=".555" stop-color="#89ff76"/><stop offset=".645" stop-color="#d7ff28"/><stop offset=".695" stop-color="#fffe00"/><stop offset=".805" stop-color="#ffa700"/><stop offset=".915" stop-color="#ff6700"/><stop offset=".975" stop-color="#ff5200"/><stop offset=".995" stop-color="#ff4a00"/></linearGradient>
<linearGradient id="g160" x2="0" y2="1"><stop offset=".005" stop-color="#000084"/><stop offset=".155" stop-color="#0001ff"/><stop offset=".415" stop-color="#00f8ff"/><stop offset=".425" stop-color="#03fffc"/><stop offset=".555" stop-color="#89ff76"/><stop offset=".645" stop-color="#d7ff28"/><stop offset=".695" stop-color="#fffd00"/><stop offset=".805" stop-color="#ffa600"/><stop offset=".915" stop-color="#ff6500"/><stop offset=".975" stop-color="#ff5000"/><stop offset=".995" stop-color="#ff4700"/></linearGradient>
<linearGradient id="g161" x2="0" y2="1"><stop offset=".005" stop-color="#000084"/><stop offset=".155" stop-color="#0001ff"/><stop offset=".415" stop-color="#00f8ff"/><stop offset=".425" stop-color="#03fffc"/><stop offset=".555" stop-color="#89ff76"/><stop offset=".645" stop-color="#d7ff28"/><stop offset=".695" stop-color="#fffd00"/><stop offset=".805" stop-color="#ffa500"/><stop offset=".915" stop-color="#ff6200"/><stop offset=".965" stop-color="#ff5300"/><stop offset=".995" stop-color="#ff4300"/></linearGradient>
<linearGradient id="g162" x2="0" y2="1"><stop offset=".005" stop-color="#000084"/><stop offset=".155" stop-color="#0001ff"/><stop offset=".415" stop-color="#00f8ff"/><stop offset=".425" stop-color="#03fffc"/><stop offset=".555" stop-color="#89ff76"/><stop offset=".645" stop-color="#d7ff28"/><stop offset=".695" stop-color="#fffd00"/><stop offset=".805" stop-color="#ffa400"/><stop offset=".915" stop-color="#ff6000"/><stop offset=".965" stop-color="#ff5000"/><stop offset=".995" stop-color="#ff4000"/></linearGradient>
<linearGradient id="g163" x2="0" y2="1"><stop offset=".005" stop-color="#000084"/><stop offset=".155" stop-color="#0001ff"/><stop offset=".415" stop-color="#00f8ff"/><stop offset=".425" stop-color="#03fffc"/><stop offset=".555" stop-color="#89ff76"/><stop offset=".655" stop-color="#e0ff1f"/><stop offset=".695" stop-color="#fffd00"/><stop offset=".805" stop-color="#ffa300"/><stop offset=".915" stop-color="#ff5d00"/><stop offset=".965" stop-color="#ff4d00"/><stop offset=".995" stop-color="#ff3c00"/></linearGradient>
<linearGradient id="g164" x2="0" y2="1"><stop offset=".005" stop-color="#000084"/><stop offset=".155" stop-color="#0001ff"/><stop offset=".415" stop-color="#00f8ff"/><stop offset=".425" stop-color="#03fffc"/><stop offset=".555" stop-color="#89ff76"/><stop offset=".655" stop-color="#e0ff1f"/><stop offset=".695" stop-color="#fffc00"/><stop offset=".805" stop-color="#ffa100"/><stop offset=".915" stop-color="#ff5b00"/><stop offset=".965" stop-color="#ff4a00"/><stop offset=".995" stop-color="#ff3700"/></linearGradient>
<linearGradient id="g165" x2="0" y2="1"><stop offset=".005" stop-color="#000084"/><stop offset=".155" stop-color="#0001ff"/><stop offset=".415" stop-color="#00f8ff"/><stop offset=".425" stop-color="#03fffc"/><stop offset=".555" stop-color="#89ff76"/><stop offset=".655" stop-color="#e0ff1f"/><stop offset=".695" stop-color="#fffc00"/><stop offset=".805" stop-color="#ffa000"/><stop offset=".915" stop-color="#ff5800"/><stop offset=".965" stop-color="#ff4600"/><stop offset=".995" stop-color="#ff3200"/></linearGradient>
<linearGradient id="g166" x2="0" y2="1"><stop offset=".005" stop-color="#000084"/><stop offset=".155" stop-color="#0001ff"/><stop offset=".415" stop-color="#00f8ff"/><stop offset=".425" stop-color="#03fffc"/><stop offset=".555" stop-color="#89ff76"/><stop offset=".665" stop-color="#e9ff16"/><stop offset=".695" stop-color="#fffc00"/><stop offset=".805" stop-color="#ff9f00"/><stop offset=".915" stop-color="#ff5500"/><stop offset=".965" stop-color="#ff4300"/><stop offset=".995" stop-color="#ff2d00"/></linearGradient>
<linearGradient id="g167" x2="0" y2="1"><stop offset=".005" stop-color="#000084"/><stop offset=".155" stop-color="#0001ff"/><stop offset=".415" stop-color="#00f8ff"/><stop offset=".425" stop-color="#03fffc"/><stop offset=".555" stop-color="#89ff76"/><stop offset=".665" stop-color="#e9ff16"/><stop offset=".695" stop-color="#fffb00"/><stop offset=".805" stop-color="#ff9e00"/><stop offset=".915" stop-color="#ff5200"/><stop offset=".965" stop-color="#ff3f00"/><stop offset=".995" stop-color="#ff2800"/></linearGradient>
<linearGradient id="g168" x2="0" y2="1"><stop offset=".005" stop-color="#000084"/><stop offset=".155" stop-color="#0001ff"/><stop offset=".425" stop-color="#03fffc"/><stop offset=".555" stop-color="#89ff76"/><stop offset=".675" stop-color="#f1ff0e"/><stop offset=".695" stop-color="#fffb00"/><stop offset=".805" stop-color="#ff9c00"/><stop offset=".915" stop-color="#ff4f00"/><stop offset=".965" stop-color="#ff3b00"/><stop offset=".995" stop-color="#ff2200"/></linearGradient>
<linearGradient id="g169" x2="0" y2="1"><stop offset=".005" stop-color="#000084"/><stop offset=".155" stop-color="#0001ff"/><stop offset=".425" stop-color="#03fffc"/><stop offset=".555" stop-color="#89ff76"/><stop offset=".685" stop-color="#faff05"/><stop offset=".695" stop-color="#fffb00"/><stop offset=".805" stop-color="#ff9b00"/><stop offset=".915" stop-color="#ff4c00"/><stop offset=".965" stop-color="#ff3700"/><stop offset=".995" stop-color="#ff1c00"/></linearGradient>
<linearGradient id="g170" x2="0" y2="1"><stop offset=".005" stop-color="#000084"/><stop offset=".155" stop-color="#0001ff"/><stop offset=".425" stop-color="#02fffd"/><stop offset=".555" stop-color="#89ff76"/><stop offset=".685" stop-color="#faff05"/><stop offset=".705" stop-color="#fff100"/><stop offset=".815" stop-color="#ff9200"/><stop offset=".915" stop-color="#ff4900"/><stop offset=".965" stop-color="#ff3300"/><stop offset=".995" stop-color="#ff1500"/></linearGradient>
<linearGradient id="g171" x2="0" y2="1"><stop offset=".005" stop-color="#000084"/><stop offset=".155" stop-color="#0001ff"/><stop offset=".425" stop-color="#02fffd"/><stop offset=".555" stop-color="#89ff76"/><stop offset=".685" stop-color="#faff05"/><stop offset=".705" stop-color="#fff100"/><stop offset=".815" stop-color="#ff9100"/><stop offset=".915" stop-color="#ff4600"/><stop offset=".965" stop-color="#ff2e00"/><stop offset=".995" stop-color="#ff0e00"/></linearGradient>
<linearGradient id="g172" x2="0" y2="1"><stop offset=".005" stop-color="#000084"/><stop offset=".155" stop-color="#0001ff"/><stop offset=".425" stop-color="#02fffd"/><stop offset=".555" stop-color="#89ff76"/><stop offset=".685" stop-color="#fbff04"/><stop offset=".705" stop-color="#fff000"/><stop offset=".815" stop-color="#ff8f00"/><stop offset=".915" stop-color="#ff4300"/><stop offset=".965" stop-color="#ff2a00"/><stop offset=".995" stop-color="#ff0800"/></linearGradient>
<linearGradient id="g173" x2="0" y2="1"><stop offset=".005" stop-color="#000084"/><stop offset=".155" stop-color="#0001ff"/><stop offset=".425" stop-color="#02fffd"/><stop offset=".555" stop-color="#89ff76"/><stop offset=".685" stop-color="#fbff04"/><stop offset=".705" stop-color="#fff000"/><stop offset=".815" stop-color="#ff8e00"/><stop offset=".915" stop-color="#ff4000"/><stop offset=".965" stop-color="#ff2500"/><stop offset=".995" stop-color="#ff0100"/></linearGradient>
<linearGradient id="g174" x2="0" y2="1"><stop offset=".005" stop-color="#000084"/><stop offset=".155" stop-color="#0001ff"/><stop offset=".425" stop-color="#02fffd"/><stop offset=".555" stop-color="#89ff76"/><stop offset=".685" stop-color="#fbff04"/><stop offset=".715" stop-color="#ffe600"/><stop offset=".825" stop-color="#ff8400"/><stop offset=".925" stop-color="#ff3700"/><stop offset=".965" stop-color="#ff2100"/><stop offset=".985" stop-color="#ff0700"/><stop offset=".995" stop-color="#f90000"/></linearGradient>
<linearGradient id="g175" x2="0" y2="1"><stop offset=".005" stop-color="#000084"/><stop offset=".155" stop-color="#0001ff"/><stop offset=".425" stop-color="#02fffd"/><stop offset=".555" stop-color="#8aff75"/><stop offset=".685" stop-color="#fcff03"/><stop offset=".715" stop-color="#ffe600"/><stop offset=".825" stop-color="#ff8200"/><stop offset=".925" stop-color="#ff3400"/><stop offset=".965" stop-color="#ff1d00"/><stop offset=".985" stop-color="#ff0100"/><stop offset=".995" stop-color="#f30000"/></linearGradient>
<linearGradient id="g176" x2="0" y2="1"><stop offset=".005" stop-color="#000084"/><stop offset=".155" stop-color="#0001ff"/><stop offset=".425" stop-color="#02fffd"/><stop offset=".555" stop-color="#8aff75"/><stop offset=".685" stop-color="#fcff03"/><stop offset=".725" stop-color="#ffdc00"/><stop offset=".835" stop-color="#ff7800"/><stop offset=".925" stop-color="#ff3000"/><stop offset=".965" stop-color="#ff1900"/><stop offset=".985" stop-color="#fb0000"/><stop offset=".995" stop-color="#ec0000"/></linearGradient>
<linearGradient id="g177" x2="0" y2="1"><stop offset=".005" stop-color="#000084"/><stop offset=".155" stop-color="#0001ff"/><stop offset=".425" stop-color="#02fffd"/><stop offset=".555" stop-color="#8aff75"/><stop offset=".685" stop-color="#fcff03"/><stop offset=".745" stop-color="#ffc800"/><stop offset=".865" stop-color="#ff5d00"/><stop offset=".925" stop-color="#ff2d00"/><stop offset=".965" stop-color="#ff1400"/><stop offset=".975" stop-color="#ff0500"/><stop offset=".985" stop-color="#f50000"/><stop offset=".995" stop-color="#e60000"/></linearGradient>
<linearGradient id="g178" x2="0" y2="1"><stop offset=".005" stop-color="#000084"/><stop offset=".155" stop-color="#0001ff"/><stop offset=".425" stop-color="#02fffd"/><stop offset=".545" stop-color="#80ff7f"/><stop offset=".685" stop-color="#fcff03"/><stop offset=".815" stop-color="#ff8600"/><stop offset=".925" stop-color="#ff2a00"/><stop offset=".965" stop-color="#ff1100"/><stop offset=".975" stop-color="#ff0100"/><stop offset=".995" stop-color="#e10000"/></linearGradient>
<linearGradient id="g179" x2="0" y2="1"><stop offset=".005" stop-color="#000084"/><stop offset=".155" stop-color="#0001ff"/><stop offset=".425" stop-color="#02fffd"/><stop offset=".545" stop-color="#80ff7f"/><stop offset=".685" stop-color="#fdff02"/><stop offset=".855" stop-color="#ff6200"/><stop offset=".925" stop-color="#ff2700"/><stop offset=".965" stop-color="#ff0d00"/><stop offset=".975" stop-color="#fc0000"/><stop offset=".995" stop-color="#dc0000"/></linearGradient>
<linearGradient id="g180" x2="0" y2="1"><stop offset=".005" stop-color="#000084"/><stop offset=".155" stop-color="#0001ff"/><stop offset=".425" stop-color="#02fffd"/><stop offset=".545" stop-color="#80ff7f"/><stop offset=".685" stop-color="#fdff02"/><stop offset=".855" stop-color="#ff6000"/><stop offset=".925" stop-color="#ff2400"/><stop offset=".965" stop-color="#ff0900"/><stop offset=".975" stop-color="#f80000"/><stop offset=".995" stop-color="#d70000"/></linearGradient>
<linearGradient id="g181" x2="0" y2="1"><stop offset=".005" stop-color="#000084"/><stop offset=".155" stop-color="#0001ff"/><stop offset=".425" stop-color="#02fffd"/><stop offset=".545" stop-color="#80ff7f"/><stop offset=".685" stop-color="#fdff02"/><stop offset=".855" stop-color="#ff5e00"/><stop offset=".925" stop-color="#ff2200"/><stop offset=".965" stop-color="#ff0600"/><stop offset=".975" stop-color="#f40000"/><stop offset=".995" stop-color="#d20000"/></linearGradient>
<linearGradient id="g182" x2="0" y2="1"><stop offset=".005" stop-color="#000084"/><stop offset=".155" stop-color="#0001ff"/><stop offset=".425" stop-color="#02fffd"/><stop offset=".545" stop-color="#81ff7e"/><stop offset=".685" stop-color="#fdff02"/><stop offset=".855" stop-color="#ff5c00"/><stop offset=".925" stop-color="#ff1f00"/><stop offset=".965" stop-color="#ff0300"/><stop offset=".995" stop-color="#ce0000"/></linearGradient>
<linearGradient id="g183" x2="0" y2="1"><stop offset=".005" stop-color="#000084"/><stop offset=".155" stop-color="#0001ff"/><stop offset=".425" stop-color="#02fffd"/><stop offset=".545" stop-color="#81ff7e"/><stop offset=".685" stop-color="#feff01"/><stop offset=".855" stop-color="#ff5a00"/><stop offset=".925" stop-color="#ff1d00"/><stop offset=".965" stop-color="#ff0000"/><stop offset=".995" stop-color="#ca0000"/></linearGradient>
<linearGradient id="g184" x2="0" y2="1"><stop offset=".005" stop-color="#000084"/><stop offset=".155" stop-color="#0001ff"/><stop offset=".425" stop-color="#02fffd"/><stop offset=".545" stop-color="#81ff7e"/><stop offset=".685" stop-color="#feff01"/><stop offset=".865" stop-color="#ff5000"/><stop offset=".925" stop-color="#ff1a00"/><stop offset=".965" stop-color="#fd0000"/><stop offset=".995" stop-color="#c60000"/></linearGradient>
<linearGradient id="g185" x2="0" y2="1"><stop offset=".005" stop-color="#000084"/><stop offset=".155" stop-color="#0001ff"/><stop offset=".425" stop-color="#02fffd"/><stop offset=".545" stop-color="#81ff7e"/><stop offset=".685" stop-color="#feff01"/><stop offset=".865" stop-color="#ff4e00"/><stop offset=".925" stop-color="#ff1800"/><stop offset=".955" stop-color="#ff0400"/><stop offset=".965" stop-color="#fa0000"/><stop offset=".995" stop-color="#c30000"/></linearGradient>
<linearGradient id="g186" x2="0" y2="1"><stop offset=".005" stop-color="#000084"/><stop offset=".155" stop-color="#0001ff"/><stop offset=".425" stop-color="#02fffd"/><stop offset=".545" stop-color="#81ff7e"/><stop offset=".685" stop-color="#feff01"/><stop offset=".865" stop-color="#ff4c00"/><stop offset=".925" stop-color="#ff1600"/><stop offset=".955" stop-color="#ff0200"/><stop offset=".965" stop-color="#f80000"/><stop offset=".995" stop-color="#c00000"/></linearGradient>
<linearGradient id="g187" x2="0" y2="1"><stop offset=".005" stop-color="#000084"/><stop offset=".155" stop-color="#0001ff"/><stop offset=".425" stop-color="#02fffd"/><stop offset=".545" stop-color="#81ff7e"/><stop offset=".685" stop-color="#feff01"/><stop offset=".865" stop-color="#ff4b00"/><stop offset=".925" stop-color="#ff1400"/><stop offset=".955" stop-color="#ff0000"/><stop offset=".965" stop-color="#f60000"/><stop offset=".995" stop-color="#bd0000"/></linearGradient>
<linearGradient id="g188" x2="0" y2="1"><stop offset=".005" stop-color="#000084"/><stop offset=".155" stop-color="#0001ff"/><stop offset=".425" stop-color="#02fffd"/><stop offset=".545" stop-color="#81ff7e"/><stop offset=".685" stop-color="#ffff00"/><stop offset=".865" stop-color="#ff4900"/><stop offset=".925" stop-color="#ff1100"/><stop offset=".955" stop-color="#fc0000"/><stop offset=".965" stop-color="#f30000"/><stop offset=".995" stop-color="#ba0000"/></linearGradient>
<linearGradient id="g189" x2="0" y2="1"><stop offset=".005" stop-color="#000084"/><stop offset=".155" stop-color="#0001ff"/><stop offset=".425" stop-color="#01fffe"/><stop offset=".545" stop-color="#81ff7e"/><stop offset=".685" stop-color="#ffff00"/><stop offset=".865" stop-color="#ff4600"/><stop offset=".925" stop-color="#ff0e00"/><stop offset=".945" stop-color="#ff0100"/><stop offset=".965" stop-color="#ef0000"/><stop offset=".995" stop-color="#b50000"/></linearGradient>
<linearGradient id="g190" x2="0" y2="1"><stop offset=".005" stop-color="#000084"/><stop offset=".155" stop-color="#0001ff"/><stop offset=".425" stop-color="#01fffe"/><stop offset=".545" stop-color="#81ff7e"/><stop offset=".685" stop-color="#fffe00"/><stop offset=".865" stop-color="#ff4400"/><stop offset=".925" stop-color="#ff0b00"/><stop offset=".945" stop-color="#fd0000"/><stop offset=".965" stop-color="#ec0000"/><stop offset=".995" stop-color="#b20000"/></linearGradient>
<linearGradient id="g191" x2="0" y2="1"><stop offset=".005" stop-color="#000084"/><stop offset=".155" stop-color="#0001ff"/><stop offset=".425" stop-color="#01fffe"/><stop offset=".545" stop-color="#81ff7e"/><stop offset=".685" stop-color="#fffe00"/><stop offset=".875" stop-color="#ff3800"/><stop offset=".925" stop-color="#ff0900"/><stop offset=".945" stop-color="#fa0000"/><stop offset=".965" stop-color="#ea0000"/><stop offset=".995" stop-color="#af0000"/></linearGradient>
<linearGradient id="g192" x2="0" y2="1"><stop offset=".005" stop-color="#000084"/><stop offset=".155" stop-color="#0001ff"/><stop offset=".425" stop-color="#01fffe"/><stop offset=".545" stop-color="#81ff7e"/><stop offset=".685" stop-color="#fffe00"/><stop offset=".875" stop-color="#ff3500"/><stop offset=".925" stop-color="#ff0600"/><stop offset=".935" stop-color="#fe0000"/><stop offset=".965" stop-color="#e70000"/><stop offset=".995" stop-color="#ab0000"/></linearGradient>
<linearGradient id="g193" x2="0" y2="1"><stop offset=".005" stop-color="#000084"/><stop offset=".155" stop-color="#0001ff"/><stop offset=".425" stop-color="#01fffe"/><stop offset=".545" stop-color="#81ff7e"/><stop offset=".685" stop-color="#fffd00"/><stop offset=".875" stop-color="#ff3300"/><stop offset=".915" stop-color="#ff0a00"/><stop offset=".935" stop-color="#fc0000"/><stop offset=".965" stop-color="#e40000"/><stop offset=".995" stop-color="#a80000"/></linearGradient>
<linearGradient id="g194" x2="0" y2="1"><stop offset=".005" stop-color="#000084"/><stop offset=".155" stop-color="#0001ff"/><stop offset=".425" stop-color="#01fffe"/><stop offset=".545" stop-color="#81ff7e"/><stop offset=".685" stop-color="#fffd00"/><stop offset=".875" stop-color="#ff3000"/><stop offset=".915" stop-color="#ff0800"/><stop offset=".925" stop-color="#ff0100"/><stop offset=".965" stop-color="#e20000"/><stop offset=".995" stop-color="#a50000"/></linearGradient>
<linearGradient id="g195" x2="0" y2="1"><stop offset=".005" stop-color="#000084"/><stop offset=".155" stop-color="#0001ff"/><stop offset=".425" stop-color="#01fffe"/><stop offset=".545" stop-color="#81ff7e"/><stop offset=".685" stop-color="#fffc00"/><stop offset=".875" stop-color="#ff2e00"/><stop offset=".915" stop-color="#ff0500"/><stop offset=".925" stop-color="#fd0000"/><stop offset=".965" stop-color="#df0000"/><stop offset=".995" stop-color="#a30000"/></linearGradient>
<linearGradient id="g196" x2="0" y2="1"><stop offset=".005" stop-color="#000084"/><stop offset=".155" stop-color="#0001ff"/><stop offset=".425" stop-color="#01fffe"/><stop offset=".545" stop-color="#82ff7d"/><stop offset=".675" stop-color="#f9ff06"/><stop offset=".685" stop-color="#fffc00"/><stop offset=".865" stop-color="#ff3600"/><stop offset=".915" stop-color="#ff0300"/><stop offset=".955" stop-color="#e70000"/><stop offset=".965" stop-color="#dd0000"/><stop offset=".995" stop-color="#a00000"/></linearGradient>
<linearGradient id="g197" x2="0" y2="1"><stop offset=".005" stop-color="#000084"/><stop offset=".155" stop-color="#0001ff"/><stop offset=".425" stop-color="#01fffe"/><stop offset=".545" stop-color="#81ff7e"/><stop offset=".685" stop-color="#fffd00"/><stop offset=".875" stop-color="#ff3000"/><stop offset=".915" stop-color="#ff0700"/><stop offset=".925" stop-color="#ff0000"/><stop offset=".965" stop-color="#e10000"/><stop offset=".995" stop-color="#a50000"/></linearGradient>
<linearGradient id="g198" x2="0" y2="1"><stop offset=".005" stop-color="#000084"/><stop offset=".155" stop-color="#0001ff"/><stop offset=".425" stop-color="#01fffe"/><stop offset=".545" stop-color="#81ff7e"/><stop offset=".685" stop-color="#fffd00"/><stop offset=".875" stop-color="#ff3200"/><stop offset=".915" stop-color="#ff0900"/><stop offset=".935" stop-color="#fb0000"/><stop offset=".965" stop-color="#e30000"/><stop offset=".995" stop-color="#a70000"/></linearGradient>
<linearGradient id="g199" x2="0" y2="1"><stop offset=".005" stop-color="#000084"/><stop offset=".155" stop-color="#0001ff"/><stop offset=".425" stop-color="#01fffe"/><stop offset=".545" stop-color="#81ff7e"/><stop offset=".685" stop-color="#fffe00"/><stop offset=".875" stop-color="#ff3400"/><stop offset=".915" stop-color="#ff0c00"/><stop offset=".935" stop-color="#fd0000"/><stop offset=".965" stop-color="#e60000"/><stop offset=".995" stop-color="#aa0000"/></linearGradient>
<linearGradient id="g200" x2="0" y2="1"><stop offset=".005" stop-color="#000084"/><stop offset=".155" stop-color="#0001ff"/><stop offset=".425" stop-color="#01fffe"/><stop offset=".545" stop-color="#81ff7e"/><stop offset=".685" stop-color="#fffe00"/><stop offset=".875" stop-color="#ff3600"/><stop offset=".925" stop-color="#ff0700"/><stop offset=".935" stop-color="#ff0100"/><stop offset=".965" stop-color="#e80000"/><stop offset=".995" stop-color="#ad0000"/></linearGradient>
<linearGradient id="g201" x2="0" y2="1"><stop offset=".005" stop-color="#000084"/><stop offset=".155" stop-color="#0001ff"/><stop offset=".425" stop-color="#01fffe"/><stop offset=".545" stop-color="#81ff7e"/><stop offset=".685" stop-color="#fffe00"/><stop offset=".875" stop-color="#ff3800"/><stop offset=".925" stop-color="#ff0a00"/><stop offset=".945" stop-color="#fb0000"/><stop offset=".965" stop-color="#ea0000"/><stop offset=".995" stop-color="#b00000"/></linearGradient>
<linearGradient id="g202" x2="0" y2="1"><stop offset=".005" stop-color="#000084"/><stop offset=".155" stop-color="#0001ff"/><stop offset=".425" stop-color="#01fffe"/><stop offset=".545" stop-color="#81ff7e"/><stop offset=".685" stop-color="#ffff00"/><stop offset=".865" stop-color="#ff4500"/><stop offset=".925" stop-color="#ff0c00"/><stop offset=".945" stop-color="#fe0000"/><stop offset=".965" stop-color="#ed0000"/><stop offset=".995" stop-color="#b30000"/></linearGradient>
<linearGradient id="g203" x2="0" y2="1"><stop offset=".005" stop-color="#000084"/><stop offset=".155" stop-color="#0001ff"/><stop offset=".425" stop-color="#01fffe"/><stop offset=".545" stop-color="#81ff7e"/><stop offset=".685" stop-color="#ffff00"/><stop offset=".865" stop-color="#ff4700"/><stop offset=".925" stop-color="#ff0f00"/><stop offset=".945" stop-color="#ff0200"/><stop offset=".965" stop-color="#f00000"/><stop offset=".995" stop-color="#b70000"/></linearGradient>
<linearGradient id="g204" x2="0" y2="1"><stop offset=".005" stop-color="#000084"/><stop offset=".155" stop-color="#0001ff"/><stop offset=".425" stop-color="#02fffd"/><stop offset=".545" stop-color="#81ff7e"/><stop offset=".685" stop-color="#ffff00"/><stop offset=".865" stop-color="#ff4a00"/><stop offset=".925" stop-color="#ff1200"/><stop offset=".955" stop-color="#fd0000"/><stop offset=".965" stop-color="#f40000"/><stop offset=".995" stop-color="#bb0000"/></linearGradient>
<linearGradient id="g205" x2="0" y2="1"><stop offset=".005" stop-color="#000084"/><stop offset=".155" stop-color="#0001ff"/><stop offset=".425" stop-color="#02fffd"/><stop offset=".545" stop-color="#81ff7e"/><stop offset=".685" stop-color="#feff01"/><stop offset=".865" stop-color="#ff4c00"/><stop offset=".925" stop-color="#ff1500"/><stop offset=".955" stop-color="#ff0100"/><stop offset=".965" stop-color="#f70000"/><stop offset=".995" stop-color="#bf0000"/></linearGradient>
<linearGradient id="g206" x2="0" y2="1"><stop offset=".005" stop-color="#000084"/><stop offset=".155" stop-color="#0001ff"/><stop offset=".425" stop-color="#02fffd"/><stop offset=".545" stop-color="#81ff7e"/><stop offset=".685" stop-color="#feff01"/><stop offset=".865" stop-color="#ff4d00"/><stop offset=".925" stop-color="#ff1700"/><stop offset=".955" stop-color="#ff0300"/><stop offset=".965" stop-color="#f90000"/><stop offset=".995" stop-color="#c20000"/></linearGradient>
<linearGradient id="g207" x2="0" y2="1"><stop offset=".005" stop-color="#000084"/><stop offset=".155" stop-color="#0001ff"/><stop offset=".425" stop-color="#02fffd"/><stop offset=".545" stop-color="#81ff7e"/><stop offset=".685" stop-color="#feff01"/><stop offset=".865" stop-color="#ff4f00"/><stop offset=".925" stop-color="#ff1900"/><stop offset=".955" stop-color="#ff0500"/><stop offset=".965" stop-color="#fb0000"/><stop offset=".995" stop-color="#c50000"/></linearGradient>
<linearGradient id="g208" x2="0" y2="1"><stop offset=".005" stop-color="#000084"/><stop offset=".155" stop-color="#0001ff"/><stop offset=".425" stop-color="#02fffd"/><stop offset=".545" stop-color="#81ff7e"/><stop offset=".685" stop-color="#feff01"/><stop offset=".865" stop-color="#ff5100"/><stop offset=".925" stop-color="#ff1c00"/><stop offset=".965" stop-color="#fe0000"/><stop offset=".995" stop-color="#c80000"/></linearGradient>
<linearGradient id="g209" x2="0" y2="1"><stop offset=".005" stop-color="#000084"/><stop offset=".155" stop-color="#0001ff"/><stop offset=".425" stop-color="#02fffd"/><stop offset=".545" stop-color="#81ff7e"/><stop offset=".685" stop-color="#fdff02"/><stop offset=".865" stop-color="#ff5200"/><stop offset=".925" stop-color="#ff1e00"/><stop offset=".965" stop-color="#ff0200"/><stop offset=".995" stop-color="#cc0000"/></linearGradient>
<linearGradient id="g210" x2="0" y2="1"><stop offset=".005" stop-color="#000084"/><stop offset=".155" stop-color="#0001ff"/><stop offset=".425" stop-color="#02fffd"/><stop offset=".545" stop-color="#81ff7e"/><stop offset=".685" stop-color="#fdff02"/><stop offset=".855" stop-color="#ff5d00"/><stop offset=".925" stop-color="#ff2000"/><stop offset=".965" stop-color="#ff0500"/><stop offset=".985" stop-color="#e10000"/><stop offset=".995" stop-color="#d00000"/></linearGradient>
<linearGradient id="g211" x2="0" y2="1"><stop offset=".005" stop-color="#000084"/><stop offset=".155" stop-color="#0001ff"/><stop offset=".425" stop-color="#02fffd"/><stop offset=".545" stop-color="#80ff7f"/><stop offset=".685" stop-color="#fdff02"/><stop offset=".855" stop-color="#ff5f00"/><stop offset=".925" stop-color="#ff2300"/><stop offset=".965" stop-color="#ff0800"/><stop offset=".975" stop-color="#f60000"/><stop offset=".995" stop-color="#d50000"/></linearGradient>
<linearGradient id="g212" x2="0" y2="1"><stop offset=".005" stop-color="#000084"/><stop offset=".155" stop-color="#0001ff"/><stop offset=".425" stop-color="#02fffd"/><stop offset=".545" stop-color="#80ff7f"/><stop offset=".685" stop-color="#fdff02"/><stop offset=".855" stop-color="#ff6100"/><stop offset=".925" stop-color="#ff2600"/><stop offset=".965" stop-color="#ff0b00"/><stop offset=".975" stop-color="#fa0000"/><stop offset=".995" stop-color="#d90000"/></linearGradient>
<linearGradient id="g213" x2="0" y2="1"><stop offset=".005" stop-color="#000084"/><stop offset=".155" stop-color="#0001ff"/><stop offset=".425" stop-color="#02fffd"/><stop offset=".545" stop-color="#80ff7f"/><stop offset=".685" stop-color="#fcff03"/><stop offset=".855" stop-color="#ff6200"/><stop offset=".925" stop-color="#ff2800"/><stop offset=".965" stop-color="#ff0f00"/><stop offset=".975" stop-color="#fe0000"/><stop offset=".995" stop-color="#de0000"/></linearGradient>
<linearGradient id="g214" x2="0" y2="1"><stop offset=".005" stop-color="#000084"/><stop offset=".155" stop-color="#0001ff"/><stop offset=".425" stop-color="#02fffd"/><stop offset=".555" stop-color="#8aff75"/><stop offset=".685" stop-color="#fcff03"/><stop offset=".755" stop-color="#ffbe00"/><stop offset=".915" stop-color="#ff3200"/><stop offset=".965" stop-color="#ff1200"/><stop offset=".975" stop-color="#ff0300"/><stop offset=".995" stop-color="#e40000"/></linearGradient>
<linearGradient id="g215" x2="0" y2="1"><stop offset=".005" stop-color="#000084"/><stop offset=".155" stop-color="#0001ff"/><stop offset=".425" stop-color="#02fffd"/><stop offset=".555" stop-color="#8aff75"/><stop offset=".685" stop-color="#fcff03"/><stop offset=".725" stop-color="#ffdb00"/><stop offset=".835" stop-color="#ff7700"/><stop offset=".925" stop-color="#ff2e00"/><stop offset=".965" stop-color="#ff1600"/><stop offset=".975" stop-color="#ff0700"/><stop offset=".985" stop-color="#f80000"/><stop offset=".995" stop-color="#e90000"/></linearGradient>
<linearGradient id="g216" x2="0" y2="1"><stop offset=".005" stop-color="#000084"/><stop offset=".155" stop-color="#0001ff"/><stop offset=".425" stop-color="#02fffd"/><stop offset=".555" stop-color="#8aff75"/><stop offset=".685" stop-color="#fcff03"/><stop offset=".715" stop-color="#ffe500"/><stop offset=".825" stop-color="#ff8100"/><stop offset=".925" stop-color="#ff3100"/><stop offset=".965" stop-color="#ff1a00"/><stop offset=".985" stop-color="#fd0000"/><stop offset=".995" stop-color="#ef0000"/></linearGradient>
<linearGradient id="g217" x2="0" y2="1"><stop offset=".005" stop-color="#000084"/><stop offset=".155" stop-color="#0001ff"/><stop offset=".425" stop-color="#02fffd"/><stop offset=".555" stop-color="#89ff76"/><stop offset=".685" stop-color="#fbff04"/><stop offset=".715" stop-color="#ffe600"/><stop offset=".825" stop-color="#ff8300"/><stop offset=".925" stop-color="#ff3400"/><stop offset=".965" stop-color="#ff1e00"/><stop offset=".985" stop-color="#ff0300"/><stop offset=".995" stop-color="#f60000"/></linearGradient>
<linearGradient id="g218" x2="0" y2="1"><stop offset=".005" stop-color="#000084"/><stop offset=".155" stop-color="#0001ff"/><stop offset=".425" stop-color="#02fffd"/><stop offset=".555" stop-color="#89ff76"/><stop offset=".685" stop-color="#fbff04"/><stop offset=".705" stop-color="#fff000"/><stop offset=".815" stop-color="#ff8d00"/><stop offset=".925" stop-color="#ff3800"/><stop offset=".965" stop-color="#ff2200"/><stop offset=".985" stop-color="#ff0900"/><stop offset=".995" stop-color="#fc0000"/></linearGradient>
<linearGradient id="g219" x2="0" y2="1"><stop offset=".005" stop-color="#000084"/><stop offset=".155" stop-color="#0001ff"/><stop offset=".425" stop-color="#02fffd"/><stop offset=".555" stop-color="#89ff76"/><stop offset=".685" stop-color="#fbff04"/><stop offset=".705" stop-color="#fff000"/><stop offset=".815" stop-color="#ff8e00"/><stop offset=".915" stop-color="#ff4000"/><stop offset=".965" stop-color="#ff2600"/><stop offset=".995" stop-color="#ff0400"/></linearGradient>
<linearGradient id="g220" x2="0" y2="1"><stop offset=".005" stop-color="#000084"/><stop offset=".155" stop-color="#0001ff"/><stop offset=".425" stop-color="#02fffd"/><stop offset=".555" stop-color="#89ff76"/><stop offset=".685" stop-color="#fbff04"/><stop offset=".705" stop-color="#fff000"/><stop offset=".815" stop-color="#ff9000"/><stop offset=".915" stop-color="#ff4300"/><stop offset=".965" stop-color="#ff2a00"/><stop offset=".995" stop-color="#ff0a00"/></linearGradient>
<linearGradient id="g221" x2="0" y2="1"><stop offset=".005" stop-color="#000084"/><stop offset=".155" stop-color="#0001ff"/><stop offset=".425" stop-color="#02fffd"/><stop offset=".555" stop-color="#89ff76"/><stop offset=".685" stop-color="#faff05"/><stop offset=".705" stop-color="#fff100"/><stop offset=".815" stop-color="#ff9100"/><stop offset=".915" stop-color="#ff4600"/><stop offset=".965" stop-color="#ff2e00"/><stop offset=".995" stop-color="#ff1000"/></linearGradient>
<linearGradient id="g222" x2="0" y2="1"><stop offset=".005" stop-color="#000084"/><stop offset=".155" stop-color="#0001ff"/><stop offset=".425" stop-color="#03fffc"/><stop offset=".555" stop-color="#89ff76"/><stop offset=".685" stop-color="#faff05"/><stop offset=".695" stop-color="#fffb00"/><stop offset=".815" stop-color="#ff9200"/><stop offset=".915" stop-color="#ff4900"/><stop offset=".965" stop-color="#ff3200"/><stop offset=".995" stop-color="#ff1600"/></linearGradient>
<linearGradient id="g223" x2="0" y2="1"><stop offset=".005" stop-color="#000084"/><stop offset=".155" stop-color="#0001ff"/><stop offset=".425" stop-color="#03fffc"/><stop offset=".555" stop-color="#89ff76"/><stop offset=".675" stop-color="#f1ff0e"/><stop offset=".695" stop-color="#fffb00"/><stop offset=".805" stop-color="#ff9b00"/><stop offset=".915" stop-color="#ff4c00"/><stop offset=".965" stop-color="#ff3600"/><stop offset=".995" stop-color="#ff1c00"/></linearGradient>
<linearGradient id="g224" x2="0" y2="1"><stop offset=".005" stop-color="#000084"/><stop offset=".155" stop-color="#0001ff"/><stop offset=".415" stop-color="#00f8ff"/><stop offset=".425" stop-color="#03fffc"/><stop offset=".555" stop-color="#89ff76"/><stop offset=".675" stop-color="#f1ff0e"/><stop offset=".695" stop-color="#fffb00"/><stop offset=".805" stop-color="#ff9d00"/><stop offset=".915" stop-color="#ff4e00"/><stop offset=".965" stop-color="#ff3a00"/><stop offset=".995" stop-color="#ff2200"/></linearGradient>
<linearGradient id="g225" x2="0" y2="1"><stop offset=".005" stop-color="#000084"/><stop offset=".155" stop-color="#0001ff"/><stop offset=".415" stop-color="#00f8ff"/><stop offset=".425" stop-color="#03fffc"/><stop offset=".555" stop-color="#89ff76"/><stop offset=".665" stop-color="#e9ff16"/><stop offset=".695" stop-color="#fffc00"/><stop offset=".805" stop-color="#ff9e00"/><stop offset=".915" stop-color="#ff5100"/><stop offset=".965" stop-color="#ff3d00"/><stop offset=".995" stop-color="#ff2700"/></linearGradient>
<linearGradient id="g226" x2="0" y2="1"><stop offset=".005" stop-color="#000084"/><stop offset=".155" stop-color="#0001ff"/><stop offset=".415" stop-color="#00f8ff"/><stop offset=".425" stop-color="#03fffc"/><stop offset=".555" stop-color="#89ff76"/><stop offset=".665" stop-color="#e8ff17"/><stop offset=".695" stop-color="#fffc00"/><stop offset=".805" stop-color="#ff9f00"/><stop offset=".915" stop-color="#ff5300"/><stop offset=".965" stop-color="#ff4000"/><stop offset=".995" stop-color="#ff2b00"/></linearGradient>
<linearGradient id="g227" x2="0" y2="1"><stop offset=".005" stop-color="#000084"/><stop offset=".155" stop-color="#0001ff"/><stop offset=".415" stop-color="#00f8ff"/><stop offset=".425" stop-color="#03fffc"/><stop offset=".555" stop-color="#89ff76"/><stop offset=".655" stop-color="#e0ff1f"/><stop offset=".695" stop-color="#fffc00"/><stop offset=".805" stop-color="#ffa000"/><stop offset=".915" stop-color="#ff5600"/><stop offset=".965" stop-color="#ff4300"/><stop offset=".995" stop-color="#ff3000"/></linearGradient>
<linearGradient id="g228" x2="0" y2="1"><stop offset=".005" stop-color="#000084"/><stop offset=".155" stop-color="#0001ff"/><stop offset=".415" stop-color="#00f8ff"/><stop offset=".425" stop-color="#03fffc"/><stop offset=".555" stop-color="#89ff76"/><stop offset=".655" stop-color="#e0ff1f"/><stop offset=".695" stop-color="#fffc00"/><stop offset=".805" stop-color="#ffa100"/><stop offset=".915" stop-color="#ff5800"/><stop offset=".965" stop-color="#ff4600"/><stop offset=".995" stop-color="#ff3400"/></linearGradient>
<linearGradient id="g229" x2="0" y2="1"><stop offset=".005" stop-color="#000084"/><stop offset=".155" stop-color="#0001ff"/><stop offset=".415" stop-color="#00f8ff"/><stop offset=".425" stop-color="#03fffc"/><stop offset=".555" stop-color="#89ff76"/><stop offset=".645" stop-color="#d7ff28"/><stop offset=".695" stop-color="#fffd00"/><stop offset=".805" stop-color="#ffa200"/><stop offset=".915" stop-color="#ff5a00"/><stop offset=".965" stop-color="#ff4800"/><stop offset=".995" stop-color="#ff3700"/></linearGradient>
<linearGradient id="g230" x2="0" y2="1"><stop offset=".005" stop-color="#000084"/><stop offset=".155" stop-color="#0001ff"/><stop offset=".415" stop-color="#00f8ff"/><stop offset=".425" stop-color="#03fffc"/><stop offset=".555" stop-color="#89ff76"/><stop offset=".645" stop-color="#d7ff28"/><stop offset=".695" stop-color="#fffd00"/><stop offset=".805" stop-color="#ffa300"/><stop offset=".915" stop-color="#ff5c00"/><stop offset=".975" stop-color="#ff4400"/><stop offset=".995" stop-color="#ff3a00"/></linearGradient>
<linearGradient id="g231" x2="0" y2="1"><stop offset=".005" stop-color="#000084"/><stop offset=".155" stop-color="#0001ff"/><stop offset=".415" stop-color="#00f8ff"/><stop offset=".425" stop-color="#03fffc"/><stop offset=".555" stop-color="#89ff76"/><stop offset=".645" stop-color="#d7ff28"/><stop offset=".695" stop-color="#fffd00"/><stop offset=".805" stop-color="#ffa500"/><stop offset=".915" stop-color="#ff5e00"/><stop offset=".975" stop-color="#ff4700"/><stop offset=".995" stop-color="#ff3e00"/></linearGradient>
<linearGradient id="g232" x2="0" y2="1"><stop offset=".005" stop-color="#000084"/><stop offset=".155" stop-color="#0001ff"/><stop offset=".415" stop-color="#00f8ff"/><stop offset=".425" stop-color="#03fffc"/><stop offset=".555" stop-color="#89ff76"/><stop offset=".635" stop-color="#cfff30"/><stop offset=".695" stop-color="#fffe00"/><stop offset=".805" stop-color="#ffa600"/><stop offset=".915" stop-color="#ff6100"/><stop offset=".975" stop-color="#ff4a00"/><stop offset=".995" stop-color="#ff4200"/></linearGradient>
<linearGradient id="g233" x2="0" y2="1"><stop offset=".005" stop-color="#000084"/><stop offset=".155" stop-color="#0001ff"/><stop offset=".415" stop-color="#00f8ff"/><stop offset=".425" stop-color="#03fffc"/><stop offset=".555" stop-color="#89ff76"/><stop offset=".635" stop-color="#ceff31"/><stop offset=".695" stop-color="#ffff00"/><stop offset=".805" stop-color="#ffa800"/><stop offset=".925" stop-color="#ff5f00"/><stop offset=".995" stop-color="#ff4500"/></linearGradient>
<linearGradient id="g234" x2="0" y2="1"><stop offset=".005" stop-color="#000084"/><stop offset=".155" stop-color="#0001ff"/><stop offset=".415" stop-color="#00f8ff"/><stop offset=".425" stop-color="#03fffc"/><stop offset=".565" stop-color="#92ff6d"/><stop offset=".645" stop-color="#d6ff29"/><stop offset=".695" stop-color="#ffff00"/><stop offset=".805" stop-color="#ffab00"/><stop offset=".925" stop-color="#ff6100"/><stop offset=".995" stop-color="#ff4800"/></linearGradient>
<linearGradient id="g235" x2="0" y2="1"><stop offset=".005" stop-color="#000084"/><stop offset=".155" stop-color="#0001ff"/><stop offset=".415" stop-color="#00f9ff"/><stop offset=".425" stop-color="#04fffb"/><stop offset=".565" stop-color="#92ff6d"/><stop offset=".635" stop-color="#ceff31"/><stop offset=".695" stop-color="#feff01"/><stop offset=".815" stop-color="#ffa600"/><stop offset=".925" stop-color="#ff6000"/><stop offset=".995" stop-color="#ff4700"/></linearGradient>
<linearGradient id="g236" x2="0" y2="1"><stop offset=".005" stop-color="#000084"/><stop offset=".155" stop-color="#0001ff"/><stop offset=".415" stop-color="#00f9ff"/><stop offset=".425" stop-color="#04fffb"/><stop offset=".565" stop-color="#92ff6d"/><stop offset=".635" stop-color="#cdff32"/><stop offset=".695" stop-color="#fdff02"/><stop offset=".835" stop-color="#ff9a00"/><stop offset=".925" stop-color="#ff5e00"/><stop offset=".995" stop-color="#ff4300"/></linearGradient>
<linearGradient id="g237" x2="0" y2="1"><stop offset=".005" stop-color="#000084"/><stop offset=".155" stop-color="#0001ff"/><stop offset=".415" stop-color="#00f9ff"/><stop offset=".425" stop-color="#04fffb"/><stop offset=".575" stop-color="#9bff64"/><stop offset=".695" stop-color="#fdff02"/><stop offset=".895" stop-color="#ff7000"/><stop offset=".945" stop-color="#ff5300"/><stop offset=".995" stop-color="#ff4000"/></linearGradient>
<linearGradient id="g238" x2="0" y2="1"><stop offset=".005" stop-color="#000084"/><stop offset=".155" stop-color="#0001ff"/><stop offset=".415" stop-color="#00f9ff"/><stop offset=".425" stop-color="#04fffb"/><stop offset=".575" stop-color="#9bff64"/><stop offset=".695" stop-color="#fcff03"/><stop offset=".925" stop-color="#ff5a00"/><stop offset=".995" stop-color="#ff3d00"/></linearGradient>
<linearGradient id="g239" x2="0" y2="1"><stop offset=".005" stop-color="#000084"/><stop offset=".155" stop-color="#0001ff"/><stop offset=".415" stop-color="#00f9ff"/><stop offset=".425" stop-color="#04fffb"/><stop offset=".575" stop-color="#9bff64"/><stop offset=".695" stop-color="#fcff03"/><stop offset=".775" stop-color="#ffc500"/><stop offset=".935" stop-color="#ff5200"/><stop offset=".995" stop-color="#ff3a00"/></linearGradient>
<linearGradient id="g240" x2="0" y2="1"><stop offset=".005" stop-color="#000084"/><stop offset=".155" stop-color="#0001ff"/><stop offset=".415" stop-color="#00f9ff"/><stop offset=".425" stop-color="#04fffb"/><stop offset=".575" stop-color="#9bff64"/><stop offset=".695" stop-color="#fcff03"/><stop offset=".745" stop-color="#ffdc00"/><stop offset=".935" stop-color="#ff5000"/><stop offset=".995" stop-color="#ff3600"/></linearGradient>
<linearGradient id="g241" x2="0" y2="1"><stop offset=".005" stop-color="#000084"/><stop offset=".155" stop-color="#0001ff"/><stop offset=".415" stop-color="#00f9ff"/><stop offset=".425" stop-color="#04fffb"/><stop offset=".575" stop-color="#9bff64"/><stop offset=".695" stop-color="#fcff03"/><stop offset=".735" stop-color="#ffe400"/><stop offset=".935" stop-color="#ff4d00"/><stop offset=".995" stop-color="#ff3300"/></linearGradient>
<linearGradient id="g242" x2="0" y2="1"><stop offset=".005" stop-color="#000084"/><stop offset=".155" stop-color="#0001ff"/><stop offset=".415" stop-color="#00f9ff"/><stop offset=".425" stop-color="#04fffb"/><stop offset=".585" stop-color="#a4ff5b"/><stop offset=".695" stop-color="#fcff03"/><stop offset=".725" stop-color="#ffec00"/><stop offset=".905" stop-color="#ff5f00"/><stop offset=".945" stop-color="#ff4400"/><stop offset=".995" stop-color="#ff2f00"/></linearGradient>
<linearGradient id="g243" x2="0" y2="1"><stop offset=".005" stop-color="#000084"/><stop offset=".155" stop-color="#0001ff"/><stop offset=".415" stop-color="#00f9ff"/><stop offset=".425" stop-color="#04fffb"/><stop offset=".585" stop-color="#a4ff5b"/><stop offset=".695" stop-color="#fbff04"/><stop offset=".725" stop-color="#ffec00"/><stop offset=".885" stop-color="#ff6e00"/><stop offset=".935" stop-color="#ff4700"/><stop offset=".985" stop-color="#ff2d00"/><stop offset=".995" stop-color="#ff2b00"/></linearGradient>
<linearGradient id="g244" x2="0" y2="1"><stop offset=".005" stop-color="#000084"/><stop offset=".155" stop-color="#0001ff"/><stop offset=".415" stop-color="#00faff"/><stop offset=".425" stop-color="#05fffa"/><stop offset=".585" stop-color="#a4ff5b"/><stop offset=".695" stop-color="#fbff04"/><stop offset=".715" stop-color="#fff300"/><stop offset=".875" stop-color="#ff7500"/><stop offset=".935" stop-color="#ff4400"/><stop offset=".985" stop-color="#ff2900"/><stop offset=".995" stop-color="#ff2700"/></linearGradient>
<linearGradient id="g245" x2="0" y2="1"><stop offset=".005" stop-color="#000084"/><stop offset=".155" stop-color="#0001ff"/><stop offset=".415" stop-color="#00faff"/><stop offset=".425" stop-color="#05fffa"/><stop offset=".585" stop-color="#a4ff5b"/><stop offset=".695" stop-color="#fbff04"/><stop offset=".715" stop-color="#fff400"/><stop offset=".865" stop-color="#ff7d00"/><stop offset=".935" stop-color="#ff4100"/><stop offset=".985" stop-color="#ff2600"/><stop offset=".995" stop-color="#ff2400"/></linearGradient>
<linearGradient id="g246" x2="0" y2="1"><stop offset=".005" stop-color="#000084"/><stop offset=".155" stop-color="#0001ff"/><stop offset=".415" stop-color="#00faff"/><stop offset=".425" stop-color="#05fffa"/><stop offset=".585" stop-color="#a4ff5b"/><stop offset=".695" stop-color="#fbff04"/><stop offset=".715" stop-color="#fff400"/><stop offset=".855" stop-color="#ff8500"/><stop offset=".935" stop-color="#ff3f00"/><stop offset=".985" stop-color="#ff2300"/><stop offset=".995" stop-color="#ff2100"/></linearGradient>
<linearGradient id="g247" x2="0" y2="1"><stop offset=".005" stop-color="#000084"/><stop offset=".155" stop-color="#0001ff"/><stop offset=".415" stop-color="#00faff"/><stop offset=".425" stop-color="#05fffa"/><stop offset=".585" stop-color="#a4ff5b"/><stop offset=".695" stop-color="#fbff04"/><stop offset=".715" stop-color="#fff400"/><stop offset=".855" stop-color="#ff8400"/><stop offset=".935" stop-color="#ff3c00"/><stop offset=".985" stop-color="#ff1f00"/><stop offset=".995" stop-color="#ff1d00"/></linearGradient>
<linearGradient id="g248" x2="0" y2="1"><stop offset=".005" stop-color="#000084"/><stop offset=".155" stop-color="#0001ff"/><stop offset=".415" stop-color="#00faff"/><stop offset=".425" stop-color="#05fffa"/><stop offset=".585" stop-color="#a4ff5b"/><stop offset=".695" stop-color="#faff05"/><stop offset=".715" stop-color="#fff400"/><stop offset=".845" stop-color="#ff8d00"/><stop offset=".935" stop-color="#ff3900"/><stop offset=".985" stop-color="#ff1c00"/><stop offset=".995" stop-color="#ff1a00"/></linearGradient>
<linearGradient id="g249" x2="0" y2="1"><stop offset=".005" stop-color="#000084"/><stop offset=".155" stop-color="#0001ff"/><stop offset=".415" stop-color="#00faff"/><stop offset=".425" stop-color="#05fffa"/><stop offset=".585" stop-color="#a4ff5b"/><stop offset=".695" stop-color="#faff05"/><stop offset=".715" stop-color="#fff500"/><stop offset=".845" stop-color="#ff8d00"/><stop offset=".935" stop-color="#ff3800"/><stop offset=".985" stop-color="#ff1a00"/><stop offset=".995" stop-color="#ff1800"/></linearGradient>
<linearGradient id="cbC" x1="0" y1="0" x2="0" y2="1"><stop offset="0.0000" stop-color="#c00000"/><stop offset="0.0833" stop-color="#e81000"/><stop offset="0.1667" stop-color="#ff4c00"/><stop offset="0.2367" stop-color="#ff8000"/><stop offset="0.3167" stop-color="#ffbf00"/><stop offset="0.3967" stop-color="#ffff00"/><stop offset="0.4600" stop-color="#c0ff40"/><stop offset="0.5250" stop-color="#70ffa0"/><stop offset="0.6283" stop-color="#10f0ff"/><stop offset="0.7200" stop-color="#10a8e2"/><stop offset="0.8450" stop-color="#1462c4"/><stop offset="0.9317" stop-color="#1030a0"/><stop offset="1.0000" stop-color="#0a0a88"/></linearGradient>
<linearGradient id="bgD" x1="0" y1="0" x2="1" y2="0"><stop offset="0" stop-color="#fdcbcd"/><stop offset="0.2" stop-color="#fccbce"/><stop offset="0.45" stop-color="#f3dadf"/><stop offset="0.7" stop-color="#ebe8ec"/><stop offset="1" stop-color="#e4f3f3"/></linearGradient>
<clipPath id="pcD"><rect x="62.6" y="360.7" width="237.9" height="191.5"/></clipPath>
<linearGradient id="bgE" x1="0" y1="0" x2="1" y2="0"><stop offset="0" stop-color="#fdcbcd"/><stop offset="0.2" stop-color="#fccbce"/><stop offset="0.45" stop-color="#f4d9df"/><stop offset="0.7" stop-color="#ebe9f0"/><stop offset="1" stop-color="#e5f5fb"/></linearGradient>
<clipPath id="pcE"><rect x="393.5" y="360.7" width="237.9" height="191.5"/></clipPath></defs>
<text x="1.6" y="12.8" font-family='"Liberation Sans", sans-serif' font-size="10.2" text-anchor="start" font-weight="bold" font-style="normal" stroke="#000" stroke-width="0.45">A</text>
<text x="2.3" y="125.9" font-family='"Liberation Sans", sans-serif' font-size="10.2" text-anchor="start" font-weight="bold" font-style="normal" stroke="#000" stroke-width="0.45">B</text>
<text x="346.2" y="125.9" font-family='"Liberation Sans", sans-serif' font-size="10.2" text-anchor="start" font-weight="bold" font-style="normal" stroke="#000" stroke-width="0.45">C</text>
<text x="1.5" y="344.3" font-family='"Liberation Sans", sans-serif' font-size="10.2" text-anchor="start" font-weight="bold" font-style="normal" stroke="#000" stroke-width="0.45">D</text>
<text x="347.5" y="344.8" font-family='"Liberation Sans", sans-serif' font-size="10.2" text-anchor="start" font-weight="bold" font-style="normal" stroke="#000" stroke-width="0.45">E</text>
<ellipse cx="219" cy="59.3" rx="55" ry="41" fill="url(#dgL)" stroke="#8fcc72" stroke-width="1.3" clip-path="url(#cpL)"/>
<rect x="69.5" y="21.5" width="204" height="4" fill="#eef0fc" stroke="#8c8c8c" stroke-width="1"/>
<rect x="69.5" y="26" width="204" height="1.3" fill="#ece6e2"/>
<rect x="69.5" y="27.3" width="204" height="4.9" fill="#42b2cf" stroke="#2f6f80" stroke-width="1"/>
<rect x="69.5" y="32.2" width="204" height="4.4" fill="#f8d6d6" stroke="#8c8c8c" stroke-width="1"/>
<rect x="69.5" y="82.6" width="204" height="17.7" fill="#dcdcdc" stroke="#8c8c8c" stroke-width="1"/>
<rect x="69.5" y="82.6" width="204" height="4.2" fill="#f8d4d4" stroke="#a89a9a" stroke-width="0.8"/>
<rect x="69.5" y="95.3" width="204" height="5" fill="#eaeefa" stroke="#8c8c8c" stroke-width="0.8"/>
<rect x="76.3" y="91.4" width="81.9" height="4.1" fill="#a3a3a3" stroke="#7a7a7a" stroke-width="0.8"/>
<rect x="179.4" y="91.4" width="81.4" height="4.1" fill="#f00000" stroke="#c00000" stroke-width="0.5"/>
<line x1="94.2" y1="45.3" x2="94.2" y2="74.3" stroke="#000" stroke-width="2"/>
<polygon points="94.2,37.3 89.6,46.3 98.8,46.3" fill="#000"/>
<polygon points="94.2,82.3 89.6,73.3 98.8,73.3" fill="#000"/>
<text x="101" y="67.6" font-family='"Liberation Serif", serif' font-size="16" text-anchor="start" font-weight="normal" font-style="normal" >D1</text>
<text x="1.2" y="49.6" font-family='"Liberation Serif", serif' font-size="16" text-anchor="start" font-weight="normal" font-style="normal" >Substrate</text>
<text x="4.5" y="68.4" font-family='"Liberation Serif", serif' font-size="16" text-anchor="start" font-weight="normal" font-style="normal" >spacing</text>
<line x1="49" y1="53.6" x2="82" y2="60.3" stroke="#000" stroke-width="1"/>
<polygon points="89.8,61.7 80.6,63.9 82.6,56.5" fill="#000"/>
<text x="137" y="16" font-family='"Liberation Serif", serif' font-size="16" text-anchor="start" font-weight="normal" font-style="normal" >Top substrate</text>
<text x="124" y="117.6" font-family='"Liberation Serif", serif' font-size="16" text-anchor="start" font-weight="normal" font-style="normal" >Bottom substrate</text>
<text x="295" y="43.6" font-family='"Liberation Serif", serif' font-size="16" text-anchor="start" font-weight="normal" font-style="normal" >Changing the</text>
<text x="285.2" y="81.4" font-family='"Liberation Serif", serif' font-size="16" text-anchor="start" font-weight="normal" font-style="normal" >substrate spacing</text>
<polygon points="299.3,53.2 371.6,53.2 371.6,49.2 381.5,57.7 371.6,66.3 371.6,62.1 299.3,62.1" fill="#7f9fdb"/>
<ellipse cx="555" cy="50.3" rx="55" ry="60" fill="url(#dgR)" stroke="#8fcc72" stroke-width="1.3" clip-path="url(#cpR)"/>
<rect x="406.5" y="1.5" width="204" height="4.4" fill="#eef0fc" stroke="#8c8c8c" stroke-width="1"/>
<rect x="406.5" y="6.2" width="204" height="4.7" fill="#42b2cf" stroke="#2f6f80" stroke-width="1"/>
<rect x="406.5" y="10.9" width="204" height="4.5" fill="#f8d6d6" stroke="#8c8c8c" stroke-width="1"/>
<rect x="406.5" y="85.2" width="204" height="17" fill="#dcdcdc" stroke="#8c8c8c" stroke-width="1"/>
<rect x="406.5" y="85.2" width="204" height="4.2" fill="#f8d4d4" stroke="#a89a9a" stroke-width="0.8"/>
<rect x="406.5" y="98.4" width="204" height="3.8" fill="#eaeefa" stroke="#8c8c8c" stroke-width="0.8"/>
<rect x="413.4" y="93.5" width="82.6" height="4.9" fill="#a3a3a3" stroke="#7a7a7a" stroke-width="0.8"/>
<rect x="516.4" y="93.5" width="82" height="4.9" fill="#f00000" stroke="#c00000" stroke-width="0.5"/>
<line x1="431.5" y1="24.3" x2="431.5" y2="76.3" stroke="#000" stroke-width="2"/>
<polygon points="431.5,16.3 426.9,25.3 436.1,25.3" fill="#000"/>
<polygon points="431.5,84.3 426.9,75.3 436.1,75.3" fill="#000"/>
<text x="407.6" y="60.8" font-family='"Liberation Serif", serif' font-size="16" text-anchor="start" font-weight="normal" font-style="normal" >D2</text>
<rect x="57" y="193" width="3.02" height="50" fill="url(#g1)"/>
<rect x="60" y="193" width="2.02" height="50" fill="url(#g2)"/>
<rect x="62" y="193" width="2.02" height="50" fill="url(#g3)"/>
<rect x="64" y="193" width="1.02" height="50" fill="url(#g4)"/>
<rect x="65" y="193" width="1.02" height="50" fill="url(#g5)"/>
<rect x="66" y="193" width="1.02" height="50" fill="url(#g6)"/>
<rect x="67" y="193" width="1.02" height="50" fill="url(#g7)"/>
<rect x="68" y="193" width="1.02" height="50" fill="url(#g8)"/>
<rect x="69" y="193" width="1.02" height="50" fill="url(#g9)"/>
<rect x="70" y="193" width="1.02" height="50" fill="url(#g10)"/>
<rect x="71" y="193" width="1.02" height="50" fill="url(#g11)"/>
<rect x="72" y="193" width="1.02" height="50" fill="url(#g12)"/>
<rect x="73" y="193" width="1.02" height="50" fill="url(#g13)"/>
<rect x="74" y="193" width="1.02" height="50" fill="url(#g14)"/>
<rect x="75" y="193" width="1.02" height="50" fill="url(#g15)"/>
<rect x="76" y="193" width="1.02" height="50" fill="url(#g16)"/>
<rect x="77" y="193" width="1.02" height="50" fill="url(#g17)"/>
<rect x="78" y="193" width="1.02" height="50" fill="url(#g18)"/>
<rect x="79" y="193" width="1.02" height="50" fill="url(#g19)"/>
<rect x="80" y="193" width="2.02" height="50" fill="url(#g20)"/>
<rect x="82" y="193" width="2.02" height="50" fill="url(#g21)"/>
<rect x="84" y="193" width="2.02" height="50" fill="url(#g22)"/>
<rect x="86" y="193" width="3.02" height="50" fill="url(#g23)"/>
<rect x="89" y="193" width="9.02" height="50" fill="url(#g24)"/>
<rect x="98" y="193" width="3.02" height="50" fill="url(#g25)"/>
<rect x="101" y="193" width="2.02" height="50" fill="url(#g26)"/>
<rect x="103" y="193" width="2.02" height="50" fill="url(#g27)"/>
<rect x="105" y="193" width="1.02" height="50" fill="url(#g28)"/>
<rect x="106" y="193" width="1.02" height="50" fill="url(#g29)"/>
<rect x="107" y="193" width="1.02" height="50" fill="url(#g30)"/>
<rect x="108" y="193" width="1.02" height="50" fill="url(#g31)"/>
<rect x="109" y="193" width="1.02" height="50" fill="url(#g32)"/>
<rect x="110" y="193" width="1.02" height="50" fill="url(#g33)"/>
<rect x="111" y="193" width="1.02" height="50" fill="url(#g34)"/>
<rect x="112" y="193" width="1.02" height="50" fill="url(#g35)"/>
<rect x="113" y="193" width="1.02" height="50" fill="url(#g36)"/>
<rect x="114" y="193" width="1.02" height="50" fill="url(#g37)"/>
<rect x="115" y="193" width="1.02" height="50" fill="url(#g38)"/>
<rect x="116" y="193" width="1.02" height="50" fill="url(#g39)"/>
<rect x="117" y="193" width="1.02" height="50" fill="url(#g40)"/>
<rect x="118" y="193" width="1.02" height="50" fill="url(#g41)"/>
<rect x="119" y="193" width="1.02" height="50" fill="url(#g42)"/>
<rect x="120" y="193" width="1.02" height="50" fill="url(#g43)"/>
<rect x="121" y="193" width="1.02" height="50" fill="url(#g44)"/>
<rect x="122" y="193" width="1.02" height="50" fill="url(#g45)"/>
<rect x="123" y="193" width="1.02" height="50" fill="url(#g46)"/>
<rect x="124" y="193" width="1.02" height="50" fill="url(#g47)"/>
<rect x="125" y="193" width="1.02" height="50" fill="url(#g48)"/>
<rect x="126" y="193" width="1.02" height="50" fill="url(#g49)"/>
<rect x="127" y="193" width="1.02" height="50" fill="url(#g50)"/>
<rect x="128" y="193" width="1.02" height="50" fill="url(#g51)"/>
<rect x="129" y="193" width="1.02" height="50" fill="url(#g52)"/>
<rect x="130" y="193" width="1.02" height="50" fill="url(#g53)"/>
<rect x="131" y="193" width="1.02" height="50" fill="url(#g54)"/>
<rect x="132" y="193" width="1.02" height="50" fill="url(#g55)"/>
<rect x="133" y="193" width="1.02" height="50" fill="url(#g56)"/>
<rect x="134" y="193" width="1.02" height="50" fill="url(#g57)"/>
<rect x="135" y="193" width="1.02" height="50" fill="url(#g58)"/>
<rect x="136" y="193" width="2.02" height="50" fill="url(#g59)"/>
<rect x="138" y="193" width="2.02" height="50" fill="url(#g60)"/>
<rect x="140" y="193" width="2.02" height="50" fill="url(#g61)"/>
<rect x="142" y="193" width="2.02" height="50" fill="url(#g62)"/>
<rect x="144" y="193" width="3.02" height="50" fill="url(#g63)"/>
<rect x="147" y="193" width="3.02" height="50" fill="url(#g64)"/>
<rect x="150" y="193" width="4.02" height="50" fill="url(#g65)"/>
<rect x="154" y="193" width="6.02" height="50" fill="url(#g66)"/>
<rect x="160" y="193" width="29.02" height="50" fill="url(#g67)"/>
<rect x="189" y="193" width="4.02" height="50" fill="url(#g68)"/>
<rect x="193" y="193" width="3.02" height="50" fill="url(#g69)"/>
<rect x="196" y="193" width="3.02" height="50" fill="url(#g70)"/>
<rect x="199" y="193" width="2.02" height="50" fill="url(#g71)"/>
<rect x="201" y="193" width="2.02" height="50" fill="url(#g72)"/>
<rect x="203" y="193" width="2.02" height="50" fill="url(#g73)"/>
<rect x="205" y="193" width="2.02" height="50" fill="url(#g74)"/>
<rect x="207" y="193" width="1.02" height="50" fill="url(#g75)"/>
<rect x="208" y="193" width="1.02" height="50" fill="url(#g76)"/>
<rect x="209" y="193" width="1.02" height="50" fill="url(#g77)"/>
<rect x="210" y="193" width="1.02" height="50" fill="url(#g78)"/>
<rect x="211" y="193" width="1.02" height="50" fill="url(#g79)"/>
<rect x="212" y="193" width="1.02" height="50" fill="url(#g80)"/>
<rect x="213" y="193" width="1.02" height="50" fill="url(#g81)"/>
<rect x="214" y="193" width="1.02" height="50" fill="url(#g82)"/>
<rect x="215" y="193" width="1.02" height="50" fill="url(#g83)"/>
<rect x="216" y="193" width="1.02" height="50" fill="url(#g84)"/>
<rect x="217" y="193" width="1.02" height="50" fill="url(#g85)"/>
<rect x="218" y="193" width="1.02" height="50" fill="url(#g86)"/>
<rect x="219" y="193" width="1.02" height="50" fill="url(#g87)"/>
<rect x="220" y="193" width="1.02" height="50" fill="url(#g88)"/>
<rect x="221" y="193" width="1.02" height="50" fill="url(#g89)"/>
<rect x="222" y="193" width="1.02" height="50" fill="url(#g90)"/>
<rect x="223" y="193" width="1.02" height="50" fill="url(#g91)"/>
<rect x="224" y="193" width="1.02" height="50" fill="url(#g92)"/>
<rect x="225" y="193" width="1.02" height="50" fill="url(#g93)"/>
<rect x="226" y="193" width="1.02" height="50" fill="url(#g94)"/>
<rect x="227" y="193" width="1.02" height="50" fill="url(#g95)"/>
<rect x="228" y="193" width="1.02" height="50" fill="url(#g96)"/>
<rect x="229" y="193" width="1.02" height="50" fill="url(#g97)"/>
<rect x="230" y="193" width="1.02" height="50" fill="url(#g98)"/>
<rect x="231" y="193" width="1.02" height="50" fill="url(#g99)"/>
<rect x="232" y="193" width="1.02" height="50" fill="url(#g100)"/>
<rect x="233" y="193" width="1.02" height="50" fill="url(#g101)"/>
<rect x="234" y="193" width="1.02" height="50" fill="url(#g102)"/>
<rect x="235" y="193" width="1.02" height="50" fill="url(#g103)"/>
<rect x="236" y="193" width="1.02" height="50" fill="url(#g104)"/>
<rect x="237" y="193" width="1.02" height="50" fill="url(#g105)"/>
<rect x="238" y="193" width="2.02" height="50" fill="url(#g106)"/>
<rect x="240" y="193" width="2.02" height="50" fill="url(#g107)"/>
<rect x="242" y="193" width="2.02" height="50" fill="url(#g108)"/>
<rect x="244" y="193" width="3.02" height="50" fill="url(#g109)"/>
<rect x="247" y="193" width="8.02" height="50" fill="url(#g110)"/>
<rect x="255" y="193" width="2.02" height="50" fill="url(#g111)"/>
<rect x="257" y="193" width="2.02" height="50" fill="url(#g112)"/>
<rect x="259" y="193" width="2.02" height="50" fill="url(#g113)"/>
<rect x="261" y="193" width="2.02" height="50" fill="url(#g114)"/>
<rect x="263" y="193" width="1.02" height="50" fill="url(#g115)"/>
<rect x="264" y="193" width="1.02" height="50" fill="url(#g116)"/>
<rect x="265" y="193" width="1.02" height="50" fill="url(#g117)"/>
<rect x="266" y="193" width="1.02" height="50" fill="url(#g118)"/>
<rect x="267" y="193" width="1.02" height="50" fill="url(#g119)"/>
<rect x="268" y="193" width="1.02" height="50" fill="url(#g120)"/>
<rect x="269" y="193" width="1.02" height="50" fill="url(#g121)"/>
<rect x="270" y="193" width="1.02" height="50" fill="url(#g122)"/>
<rect x="271" y="193" width="1.02" height="50" fill="url(#g123)"/>
<rect x="272" y="193" width="1.02" height="50" fill="url(#g124)"/>
<rect x="273" y="193" width="1.02" height="50" fill="url(#g125)"/>
<rect x="274" y="193" width="1.02" height="50" fill="url(#g126)"/>
<rect x="275" y="193" width="1.02" height="50" fill="url(#g127)"/>
<rect x="276" y="193" width="1.02" height="50" fill="url(#g128)"/>
<rect x="277" y="193" width="1.02" height="50" fill="url(#g129)"/>
<rect x="278" y="193" width="2.02" height="50" fill="url(#g130)"/>
<rect x="280" y="193" width="2.02" height="50" fill="url(#g131)"/>
<rect x="282" y="193" width="3.02" height="50" fill="url(#g132)"/>
<rect x="285" y="193" width="2.02" height="50" fill="url(#g133)"/>
<rect x="57" y="243" width="230" height="1.8" fill="#2e9e9e"/>
<rect x="121" y="242.8" width="102.4" height="2.1" fill="#8a0000"/>
<rect x="56.5" y="136.8" width="231.1" height="167.3" fill="none" stroke="#6e6e6e" stroke-width="1.1"/>
<line x1="56.5" y1="193.3" x2="59.5" y2="193.3" stroke="#444" stroke-width="1"/>
<line x1="56.5" y1="219" x2="59.5" y2="219" stroke="#444" stroke-width="1"/>
<line x1="56.5" y1="244.3" x2="59.5" y2="244.3" stroke="#444" stroke-width="1"/>
<line x1="77" y1="304.1" x2="77" y2="301.1" stroke="#444" stroke-width="1"/>
<line x1="115.5" y1="304.1" x2="115.5" y2="301.1" stroke="#444" stroke-width="1"/>
<line x1="154" y1="304.1" x2="154" y2="301.1" stroke="#444" stroke-width="1"/>
<line x1="192.4" y1="304.1" x2="192.4" y2="301.1" stroke="#444" stroke-width="1"/>
<line x1="230.7" y1="304.1" x2="230.7" y2="301.1" stroke="#444" stroke-width="1"/>
<line x1="269" y1="304.1" x2="269" y2="301.1" stroke="#444" stroke-width="1"/>
<text x="50.8" y="198.2" font-family='"Liberation Serif", serif' font-size="14.5" text-anchor="end" font-weight="normal" font-style="normal" >100</text>
<text x="50.8" y="223.5" font-family='"Liberation Serif", serif' font-size="14.5" text-anchor="end" font-weight="normal" font-style="normal" >50</text>
<text x="50.8" y="249.3" font-family='"Liberation Serif", serif' font-size="14.5" text-anchor="end" font-weight="normal" font-style="normal" >0</text>
<text x="75.2" y="319.9" font-family='"Liberation Serif", serif' font-size="14.5" text-anchor="middle" font-weight="normal" font-style="normal" >250</text>
<text x="114.2" y="319.9" font-family='"Liberation Serif", serif' font-size="14.5" text-anchor="middle" font-weight="normal" font-style="normal" >350</text>
<text x="156.6" y="319.9" font-family='"Liberation Serif", serif' font-size="14.5" text-anchor="middle" font-weight="normal" font-style="normal" >450</text>
<text x="191.5" y="319.9" font-family='"Liberation Serif", serif' font-size="14.5" text-anchor="middle" font-weight="normal" font-style="normal" >550</text>
<text x="231" y="319.9" font-family='"Liberation Serif", serif' font-size="14.5" text-anchor="middle" font-weight="normal" font-style="normal" >650</text>
<text x="267.6" y="319.9" font-family='"Liberation Serif", serif' font-size="14.5" text-anchor="middle" font-weight="normal" font-style="normal" >750</text>
<text x="56.6" y="134.9" font-family='"Liberation Serif", serif' font-size="14" text-anchor="start" font-weight="normal" font-style="normal" >(µm)</text>
<text x="289.3" y="305.8" font-family='"Liberation Serif", serif' font-size="14" text-anchor="start" font-weight="normal" font-style="normal" >(µm)</text>
<text x="292.2" y="143.2" font-family='"Liberation Serif", serif' font-size="14" text-anchor="start" font-weight="normal" font-style="normal" >(V)</text>
<rect x="113.5" y="233.7" width="3.8" height="3.7" fill="#000"/>
<text x="98.3" y="229.7" font-family='"Liberation Serif", serif' font-size="14.5" text-anchor="start" font-weight="normal" font-style="normal" >23.269 V</text>
<line x1="66.3" y1="293.8" x2="66.3" y2="272.7" stroke="#000" stroke-width="1"/>
<polygon points="66.3,267.7 63.3,273.7 69.3,273.7" fill="#000"/>
<line x1="62.3" y1="291.3" x2="83.9" y2="291.3" stroke="#000" stroke-width="1"/>
<polygon points="88.9,291.3 82.9,288.3 82.9,294.3" fill="#000"/>
<text x="62.5" y="265.6" font-family='"Liberation Serif", serif' font-size="14" text-anchor="start" font-weight="normal" font-style="italic" >Y</text>
<text x="90.2" y="296.6" font-family='"Liberation Serif", serif' font-size="15" text-anchor="start" font-weight="normal" font-style="italic" >X</text>
<rect x="294.8" y="146.2" width="11.1" height="144.6" fill="url(#cbB)" stroke="#9a9a9a" stroke-width="0.8"/>
<line x1="294.8" y1="168.6" x2="296.8" y2="168.6" stroke="#333" stroke-width="0.8"/>
<line x1="303.9" y1="168.6" x2="305.9" y2="168.6" stroke="#333" stroke-width="0.8"/>
<text x="310.5" y="174.1" font-family='"Liberation Serif", serif' font-size="14.5" text-anchor="start" font-weight="normal" font-style="normal" >50</text>
<line x1="294.8" y1="221.9" x2="296.8" y2="221.9" stroke="#333" stroke-width="0.8"/>
<line x1="303.9" y1="221.9" x2="305.9" y2="221.9" stroke="#333" stroke-width="0.8"/>
<text x="310.5" y="227.6" font-family='"Liberation Serif", serif' font-size="14.5" text-anchor="start" font-weight="normal" font-style="normal" >30</text>
<line x1="294.8" y1="268.3" x2="296.8" y2="268.3" stroke="#333" stroke-width="0.8"/>
<line x1="303.9" y1="268.3" x2="305.9" y2="268.3" stroke="#333" stroke-width="0.8"/>
<text x="310.5" y="273.2" font-family='"Liberation Serif", serif' font-size="14.5" text-anchor="start" font-weight="normal" font-style="normal" >10</text>
<text x="310.3" y="152.1" font-family='"Liberation Serif", serif' font-size="14.5" text-anchor="start" font-weight="normal" font-style="normal" >60</text>
<text x="310.3" y="293.9" font-family='"Liberation Serif", serif' font-size="14.5" text-anchor="start" font-weight="normal" font-style="normal" >0</text>
<rect x="392" y="167" width="1.02" height="100" fill="url(#g134)"/>
<rect x="393" y="167" width="1.02" height="100" fill="url(#g135)"/>
<rect x="394" y="167" width="1.02" height="100" fill="url(#g136)"/>
<rect x="395" y="167" width="1.02" height="100" fill="url(#g137)"/>
<rect x="396" y="167" width="1.02" height="100" fill="url(#g138)"/>
<rect x="397" y="167" width="1.02" height="100" fill="url(#g139)"/>
<rect x="398" y="167" width="1.02" height="100" fill="url(#g140)"/>
<rect x="399" y="167" width="1.02" height="100" fill="url(#g141)"/>
<rect x="400" y="167" width="1.02" height="100" fill="url(#g142)"/>
<rect x="401" y="167" width="1.02" height="100" fill="url(#g143)"/>
<rect x="402" y="167" width="1.02" height="100" fill="url(#g144)"/>
<rect x="403" y="167" width="1.02" height="100" fill="url(#g145)"/>
<rect x="404" y="167" width="2.02" height="100" fill="url(#g146)"/>
<rect x="406" y="167" width="2.02" height="100" fill="url(#g147)"/>
<rect x="408" y="167" width="10.02" height="100" fill="url(#g148)"/>
<rect x="418" y="167" width="4.02" height="100" fill="url(#g149)"/>
<rect x="422" y="167" width="4.02" height="100" fill="url(#g150)"/>
<rect x="426" y="167" width="3.02" height="100" fill="url(#g151)"/>
<rect x="429" y="167" width="3.02" height="100" fill="url(#g152)"/>
<rect x="432" y="167" width="2.02" height="100" fill="url(#g153)"/>
<rect x="434" y="167" width="2.02" height="100" fill="url(#g154)"/>
<rect x="436" y="167" width="2.02" height="100" fill="url(#g155)"/>
<rect x="438" y="167" width="2.02" height="100" fill="url(#g156)"/>
<rect x="440" y="167" width="1.02" height="100" fill="url(#g157)"/>
<rect x="441" y="167" width="1.02" height="100" fill="url(#g158)"/>
<rect x="442" y="167" width="1.02" height="100" fill="url(#g159)"/>
<rect x="443" y="167" width="1.02" height="100" fill="url(#g160)"/>
<rect x="444" y="167" width="1.02" height="100" fill="url(#g161)"/>
<rect x="445" y="167" width="1.02" height="100" fill="url(#g162)"/>
<rect x="446" y="167" width="1.02" height="100" fill="url(#g163)"/>
<rect x="447" y="167" width="1.02" height="100" fill="url(#g164)"/>
<rect x="448" y="167" width="1.02" height="100" fill="url(#g165)"/>
<rect x="449" y="167" width="1.02" height="100" fill="url(#g166)"/>
<rect x="450" y="167" width="1.02" height="100" fill="url(#g167)"/>
<rect x="451" y="167" width="1.02" height="100" fill="url(#g168)"/>
<rect x="452" y="167" width="1.02" height="100" fill="url(#g169)"/>
<rect x="453" y="167" width="1.02" height="100" fill="url(#g170)"/>
<rect x="454" y="167" width="1.02" height="100" fill="url(#g171)"/>
<rect x="455" y="167" width="1.02" height="100" fill="url(#g172)"/>
<rect x="456" y="167" width="1.02" height="100" fill="url(#g173)"/>
<rect x="457" y="167" width="1.02" height="100" fill="url(#g174)"/>
<rect x="458" y="167" width="1.02" height="100" fill="url(#g175)"/>
<rect x="459" y="167" width="1.02" height="100" fill="url(#g176)"/>
<rect x="460" y="167" width="1.02" height="100" fill="url(#g177)"/>
<rect x="461" y="167" width="1.02" height="100" fill="url(#g178)"/>
<rect x="462" y="167" width="1.02" height="100" fill="url(#g179)"/>
<rect x="463" y="167" width="1.02" height="100" fill="url(#g180)"/>
<rect x="464" y="167" width="1.02" height="100" fill="url(#g181)"/>
<rect x="465" y="167" width="1.02" height="100" fill="url(#g182)"/>
<rect x="466" y="167" width="1.02" height="100" fill="url(#g183)"/>
<rect x="467" y="167" width="1.02" height="100" fill="url(#g184)"/>
<rect x="468" y="167" width="1.02" height="100" fill="url(#g185)"/>
<rect x="469" y="167" width="1.02" height="100" fill="url(#g186)"/>
<rect x="470" y="167" width="1.02" height="100" fill="url(#g187)"/>
<rect x="471" y="167" width="2.02" height="100" fill="url(#g188)"/>
<rect x="473" y="167" width="2.02" height="100" fill="url(#g189)"/>
<rect x="475" y="167" width="2.02" height="100" fill="url(#g190)"/>
<rect x="477" y="167" width="2.02" height="100" fill="url(#g191)"/>
<rect x="479" y="167" width="3.02" height="100" fill="url(#g192)"/>
<rect x="482" y="167" width="3.02" height="100" fill="url(#g193)"/>
<rect x="485" y="167" width="4.02" height="100" fill="url(#g194)"/>
<rect x="489" y="167" width="6.02" height="100" fill="url(#g195)"/>
<rect x="495" y="167" width="30.02" height="100" fill="url(#g196)"/>
<rect x="525" y="167" width="4.02" height="100" fill="url(#g197)"/>
<rect x="529" y="167" width="3.02" height="100" fill="url(#g198)"/>
<rect x="532" y="167" width="3.02" height="100" fill="url(#g199)"/>
<rect x="535" y="167" width="2.02" height="100" fill="url(#g200)"/>
<rect x="537" y="167" width="2.02" height="100" fill="url(#g201)"/>
<rect x="539" y="167" width="2.02" height="100" fill="url(#g202)"/>
<rect x="541" y="167" width="2.02" height="100" fill="url(#g203)"/>
<rect x="543" y="167" width="2.02" height="100" fill="url(#g204)"/>
<rect x="545" y="167" width="1.02" height="100" fill="url(#g205)"/>
<rect x="546" y="167" width="1.02" height="100" fill="url(#g206)"/>
<rect x="547" y="167" width="1.02" height="100" fill="url(#g207)"/>
<rect x="548" y="167" width="1.02" height="100" fill="url(#g208)"/>
<rect x="549" y="167" width="1.02" height="100" fill="url(#g209)"/>
<rect x="550" y="167" width="1.02" height="100" fill="url(#g210)"/>
<rect x="551" y="167" width="1.02" height="100" fill="url(#g211)"/>
<rect x="552" y="167" width="1.02" height="100" fill="url(#g212)"/>
<rect x="553" y="167" width="1.02" height="100" fill="url(#g213)"/>
<rect x="554" y="167" width="1.02" height="100" fill="url(#g214)"/>
<rect x="555" y="167" width="1.02" height="100" fill="url(#g215)"/>
<rect x="556" y="167" width="1.02" height="100" fill="url(#g216)"/>
<rect x="557" y="167" width="1.02" height="100" fill="url(#g217)"/>
<rect x="558" y="167" width="1.02" height="100" fill="url(#g218)"/>
<rect x="559" y="167" width="1.02" height="100" fill="url(#g219)"/>
<rect x="560" y="167" width="1.02" height="100" fill="url(#g220)"/>
<rect x="561" y="167" width="1.02" height="100" fill="url(#g221)"/>
<rect x="562" y="167" width="1.02" height="100" fill="url(#g222)"/>
<rect x="563" y="167" width="1.02" height="100" fill="url(#g223)"/>
<rect x="564" y="167" width="1.02" height="100" fill="url(#g224)"/>
<rect x="565" y="167" width="1.02" height="100" fill="url(#g225)"/>
<rect x="566" y="167" width="1.02" height="100" fill="url(#g226)"/>
<rect x="567" y="167" width="1.02" height="100" fill="url(#g227)"/>
<rect x="568" y="167" width="1.02" height="100" fill="url(#g228)"/>
<rect x="569" y="167" width="1.02" height="100" fill="url(#g229)"/>
<rect x="570" y="167" width="1.02" height="100" fill="url(#g230)"/>
<rect x="571" y="167" width="2.02" height="100" fill="url(#g231)"/>
<rect x="573" y="167" width="2.02" height="100" fill="url(#g232)"/>
<rect x="575" y="167" width="3.02" height="100" fill="url(#g233)"/>
<rect x="578" y="167" width="5.02" height="100" fill="url(#g234)"/>
<rect x="583" y="167" width="4.02" height="100" fill="url(#g235)"/>
<rect x="587" y="167" width="3.02" height="100" fill="url(#g236)"/>
<rect x="590" y="167" width="2.02" height="100" fill="url(#g237)"/>
<rect x="592" y="167" width="2.02" height="100" fill="url(#g238)"/>
<rect x="594" y="167" width="2.02" height="100" fill="url(#g239)"/>
<rect x="596" y="167" width="2.02" height="100" fill="url(#g240)"/>
<rect x="598" y="167" width="2.02" height="100" fill="url(#g241)"/>
<rect x="600" y="167" width="2.02" height="100" fill="url(#g242)"/>
<rect x="602" y="167" width="2.02" height="100" fill="url(#g243)"/>
<rect x="604" y="167" width="2.02" height="100" fill="url(#g244)"/>
<rect x="606" y="167" width="2.02" height="100" fill="url(#g245)"/>
<rect x="608" y="167" width="2.02" height="100" fill="url(#g246)"/>
<rect x="610" y="167" width="3.02" height="100" fill="url(#g247)"/>
<rect x="613" y="167" width="4.02" height="100" fill="url(#g248)"/>
<rect x="617" y="167" width="5.02" height="100" fill="url(#g249)"/>
<rect x="392" y="267" width="230" height="1.5" fill="#b02000"/>
<rect x="455.3" y="266.8" width="103.5" height="1.9" fill="#700000"/>
<rect x="391.4" y="135.5" width="231.2" height="168.4" fill="none" stroke="#6e6e6e" stroke-width="1.1"/>
<line x1="391.4" y1="167.2" x2="394.4" y2="167.2" stroke="#444" stroke-width="1"/>
<line x1="391.4" y1="200.8" x2="394.4" y2="200.8" stroke="#444" stroke-width="1"/>
<line x1="391.4" y1="234.4" x2="394.4" y2="234.4" stroke="#444" stroke-width="1"/>
<line x1="391.4" y1="267.1" x2="394.4" y2="267.1" stroke="#444" stroke-width="1"/>
<line x1="409.1" y1="303.9" x2="409.1" y2="300.9" stroke="#444" stroke-width="1"/>
<line x1="447.3" y1="303.9" x2="447.3" y2="300.9" stroke="#444" stroke-width="1"/>
<line x1="488" y1="303.9" x2="488" y2="300.9" stroke="#444" stroke-width="1"/>
<line x1="525.8" y1="303.9" x2="525.8" y2="300.9" stroke="#444" stroke-width="1"/>
<line x1="564.5" y1="303.9" x2="564.5" y2="300.9" stroke="#444" stroke-width="1"/>
<line x1="603.2" y1="303.9" x2="603.2" y2="300.9" stroke="#444" stroke-width="1"/>
<text x="387.3" y="172.6" font-family='"Liberation Serif", serif' font-size="14.5" text-anchor="end" font-weight="normal" font-style="normal" >200</text>
<text x="387.3" y="206.3" font-family='"Liberation Serif", serif' font-size="14.5" text-anchor="end" font-weight="normal" font-style="normal" >150</text>
<text x="385" y="239.1" font-family='"Liberation Serif", serif' font-size="14.5" text-anchor="end" font-weight="normal" font-style="normal" >50</text>
<text x="385" y="272" font-family='"Liberation Serif", serif' font-size="14.5" text-anchor="end" font-weight="normal" font-style="normal" >0</text>
<text x="415" y="318.5" font-family='"Liberation Serif", serif' font-size="14.5" text-anchor="middle" font-weight="normal" font-style="normal" >250</text>
<text x="453.2" y="318.5" font-family='"Liberation Serif", serif' font-size="14.5" text-anchor="middle" font-weight="normal" font-style="normal" >350</text>
<text x="489.7" y="318.5" font-family='"Liberation Serif", serif' font-size="14.5" text-anchor="middle" font-weight="normal" font-style="normal" >450</text>
<text x="528.8" y="318.5" font-family='"Liberation Serif", serif' font-size="14.5" text-anchor="middle" font-weight="normal" font-style="normal" >550</text>
<text x="567.2" y="318.5" font-family='"Liberation Serif", serif' font-size="14.5" text-anchor="middle" font-weight="normal" font-style="normal" >650</text>
<text x="604.6" y="318.5" font-family='"Liberation Serif", serif' font-size="14.5" text-anchor="middle" font-weight="normal" font-style="normal" >750</text>
<text x="389.8" y="133.7" font-family='"Liberation Serif", serif' font-size="14" text-anchor="start" font-weight="normal" font-style="normal" >(µm)</text>
<text x="623.4" y="306.6" font-family='"Liberation Serif", serif' font-size="14" text-anchor="start" font-weight="normal" font-style="normal" >(µm)</text>
<text x="624.8" y="143" font-family='"Liberation Serif", serif' font-size="14" text-anchor="start" font-weight="normal" font-style="normal" >(V)</text>
<rect x="445.3" y="260.1" width="3.6" height="3.5" fill="#000"/>
<text x="423" y="258" font-family='"Liberation Serif", serif' font-size="14.5" text-anchor="start" font-weight="normal" font-style="normal" >46.411 V</text>
<line x1="400.2" y1="297.7" x2="400.2" y2="278.3" stroke="#000" stroke-width="1"/>
<polygon points="400.2,273.3 397.2,279.3 403.2,279.3" fill="#000"/>
<line x1="396.2" y1="295.2" x2="417.6" y2="295.2" stroke="#000" stroke-width="1"/>
<polygon points="422.6,295.2 416.6,292.2 416.6,298.2" fill="#000"/>
<text x="405.6" y="284.2" font-family='"Liberation Serif", serif' font-size="14" text-anchor="start" font-weight="normal" font-style="italic" >Y</text>
<text x="426.3" y="299.7" font-family='"Liberation Serif", serif' font-size="15" text-anchor="start" font-weight="normal" font-style="italic" >X</text>
<rect x="628.3" y="145" width="11.7" height="144.5" fill="url(#cbC)" stroke="#9a9a9a" stroke-width="0.8"/>
<line x1="628.3" y1="167.3" x2="630.3" y2="167.3" stroke="#333" stroke-width="0.8"/>
<line x1="638" y1="167.3" x2="640" y2="167.3" stroke="#333" stroke-width="0.8"/>
<text x="643.5" y="173.4" font-family='"Liberation Serif", serif' font-size="14.5" text-anchor="start" font-weight="normal" font-style="normal" >50</text>
<line x1="628.3" y1="220.7" x2="630.3" y2="220.7" stroke="#333" stroke-width="0.8"/>
<line x1="638" y1="220.7" x2="640" y2="220.7" stroke="#333" stroke-width="0.8"/>
<text x="643.5" y="226.7" font-family='"Liberation Serif", serif' font-size="14.5" text-anchor="start" font-weight="normal" font-style="normal" >30</text>
<line x1="628.3" y1="267.6" x2="630.3" y2="267.6" stroke="#333" stroke-width="0.8"/>
<line x1="638" y1="267.6" x2="640" y2="267.6" stroke="#333" stroke-width="0.8"/>
<text x="643.5" y="272.3" font-family='"Liberation Serif", serif' font-size="14.5" text-anchor="start" font-weight="normal" font-style="normal" >10</text>
<text x="643.5" y="151.7" font-family='"Liberation Serif", serif' font-size="14.5" text-anchor="start" font-weight="normal" font-style="normal" >60</text>
<text x="643.5" y="292.2" font-family='"Liberation Serif", serif' font-size="14.5" text-anchor="start" font-weight="normal" font-style="normal" >0</text>
<rect x="62.6" y="360.7" width="237.9" height="191.5" fill="url(#bgD)"/>
<g clip-path="url(#pcD)">
<path d="M60.60,386.90 L62.63,386.90 L64.66,386.91 L66.69,386.91 L68.71,386.92 L70.74,386.93 L72.77,386.94 L74.80,386.95 L76.83,386.96 L78.86,386.97 L80.89,386.99 L82.91,387.01 L84.94,387.04 L86.97,387.07 L89.00,387.10 L91.03,387.14 L93.06,387.19 L95.09,387.25 L97.11,387.31 L99.14,387.39 L101.17,387.48 L103.20,387.59 L105.23,387.71 L107.26,387.86 L109.29,388.03 L111.31,388.23 L113.34,388.47 L115.37,388.75 L117.40,389.07 L119.43,389.45 L121.46,389.90 L123.49,390.42 L125.51,391.02 L127.54,391.73 L129.57,392.55 L131.60,393.50 L133.63,394.60 L135.66,395.87 L137.69,397.32 L139.71,398.99 L141.74,400.90 L143.77,403.06 L145.80,405.49 L147.83,408.23 L149.86,411.27 L151.89,414.62 L153.91,418.30 L155.94,422.28 L157.97,426.54 L160.00,431.07 L162.03,435.80 L164.06,440.70 L166.09,445.69 L168.11,450.71 L170.14,455.70 L172.17,460.57 L174.20,465.26 L176.23,469.73 L178.26,473.93 L180.29,477.82 L182.31,481.39 L184.34,484.62 L186.37,487.52 L188.40,490.10 L190.43,492.38 L192.46,494.37 L194.49,496.10 L196.51,497.59 L198.54,498.88 L200.57,499.98 L202.60,500.92 L204.63,501.71 L206.66,502.39 L208.69,502.96 L210.71,503.44 L212.74,503.84 L214.77,504.18 L216.80,504.46 L218.83,504.70 L220.86,504.90 L222.89,505.07 L224.91,505.21 L226.94,505.32 L228.97,505.42 L231.00,505.50 L233.03,505.57 L235.06,505.62 L237.09,505.67 L239.11,505.71 L241.14,505.74 L243.17,505.77 L245.20,505.79 L247.23,505.81 L249.26,505.83 L251.29,505.84 L253.31,505.85 L255.34,505.86 L257.37,505.87 L259.40,505.87 L261.43,505.88 L263.46,505.88 L265.49,505.88 L267.51,505.89 L269.54,505.89 L271.57,505.89 L273.60,505.89 L275.63,505.90 L277.66,505.90 L279.69,505.90 L281.71,505.90 L283.74,505.90 L285.77,505.90 L287.80,505.90 L289.83,505.90 L291.86,505.90 L293.89,505.90 L295.91,505.90 L297.94,505.90 L299.97,505.90 L302.00,505.90" fill="none" stroke="#ef3439" stroke-width="2.6" stroke-linejoin="round"/>
<path d="M60.60,386.71 L62.63,386.72 L64.66,386.73 L66.69,386.74 L68.71,386.75 L70.74,386.77 L72.77,386.78 L74.80,386.81 L76.83,386.83 L78.86,386.86 L80.89,386.89 L82.91,386.93 L84.94,386.98 L86.97,387.03 L89.00,387.10 L91.03,387.17 L93.06,387.26 L95.09,387.36 L97.11,387.47 L99.14,387.61 L101.17,387.77 L103.20,387.96 L105.23,388.17 L107.26,388.43 L109.29,388.72 L111.31,389.06 L113.34,389.46 L115.37,389.93 L117.40,390.46 L119.43,391.09 L121.46,391.81 L123.49,392.65 L125.51,393.61 L127.54,394.73 L129.57,396.00 L131.60,397.47 L133.63,399.15 L135.66,401.06 L137.69,403.22 L139.71,405.67 L141.74,408.42 L143.77,411.49 L145.80,414.90 L147.83,418.65 L149.86,422.76 L151.89,427.20 L153.91,431.98 L155.94,437.05 L157.97,442.37 L160.00,447.90 L162.03,453.57 L164.06,459.31 L166.09,465.04 L168.11,470.70 L170.14,476.20 L172.17,481.48 L174.20,486.48 L176.23,491.17 L178.26,495.51 L180.29,499.47 L182.31,503.06 L184.34,506.28 L186.37,509.15 L188.40,511.67 L190.43,513.88 L192.46,515.80 L194.49,517.45 L196.51,518.88 L198.54,520.10 L200.57,521.14 L202.60,522.02 L204.63,522.77 L206.66,523.40 L208.69,523.94 L210.71,524.38 L212.74,524.76 L214.77,525.07 L216.80,525.34 L218.83,525.56 L220.86,525.74 L222.89,525.90 L224.91,526.02 L226.94,526.13 L228.97,526.22 L231.00,526.29 L233.03,526.35 L235.06,526.40 L237.09,526.45 L239.11,526.48 L241.14,526.51 L243.17,526.54 L245.20,526.56 L247.23,526.57 L249.26,526.59 L251.29,526.60 L253.31,526.61 L255.34,526.62 L257.37,526.62 L259.40,526.63 L261.43,526.63 L263.46,526.64 L265.49,526.64 L267.51,526.64 L269.54,526.65 L271.57,526.65 L273.60,526.65 L275.63,526.65 L277.66,526.65 L279.69,526.65 L281.71,526.65 L283.74,526.65 L285.77,526.65 L287.80,526.65 L289.83,526.65 L291.86,526.66 L293.89,526.66 L295.91,526.66 L297.94,526.66 L299.97,526.66 L302.00,526.66" fill="none" stroke="#ff8a1c" stroke-width="2.6" stroke-linejoin="round"/>
<path d="M60.60,386.18 L62.63,386.20 L64.66,386.23 L66.69,386.26 L68.71,386.30 L70.74,386.34 L72.77,386.39 L74.80,386.45 L76.83,386.51 L78.86,386.59 L80.89,386.67 L82.91,386.77 L84.94,386.89 L86.97,387.02 L89.00,387.17 L91.03,387.34 L93.06,387.54 L95.09,387.77 L97.11,388.03 L99.14,388.33 L101.17,388.68 L103.20,389.07 L105.23,389.53 L107.26,390.05 L109.29,390.64 L111.31,391.33 L113.34,392.11 L115.37,393.00 L117.40,394.01 L119.43,395.16 L121.46,396.48 L123.49,397.97 L125.51,399.65 L127.54,401.55 L129.57,403.69 L131.60,406.09 L133.63,408.78 L135.66,411.77 L137.69,415.08 L139.71,418.73 L141.74,422.73 L143.77,427.08 L145.80,431.79 L147.83,436.85 L149.86,442.22 L151.89,447.88 L153.91,453.79 L155.94,459.89 L157.97,466.11 L160.00,472.39 L162.03,478.63 L164.06,484.77 L166.09,490.72 L168.11,496.42 L170.14,501.79 L172.17,506.78 L174.20,511.37 L176.23,515.53 L178.26,519.26 L180.29,522.55 L182.31,525.42 L184.34,527.91 L186.37,530.03 L188.40,531.84 L190.43,533.35 L192.46,534.61 L194.49,535.65 L196.51,536.51 L198.54,537.21 L200.57,537.78 L202.60,538.24 L204.63,538.61 L206.66,538.91 L208.69,539.15 L210.71,539.34 L212.74,539.49 L214.77,539.61 L216.80,539.70 L218.83,539.78 L220.86,539.84 L222.89,539.88 L224.91,539.92 L226.94,539.95 L228.97,539.97 L231.00,539.99 L233.03,540.00 L235.06,540.01 L237.09,540.02 L239.11,540.03 L241.14,540.03 L243.17,540.04 L245.20,540.04 L247.23,540.04 L249.26,540.05 L251.29,540.05 L253.31,540.05 L255.34,540.05 L257.37,540.05 L259.40,540.05 L261.43,540.05 L263.46,540.05 L265.49,540.05 L267.51,540.05 L269.54,540.05 L271.57,540.05 L273.60,540.05 L275.63,540.05 L277.66,540.05 L279.69,540.05 L281.71,540.05 L283.74,540.05 L285.77,540.05 L287.80,540.05 L289.83,540.05 L291.86,540.05 L293.89,540.05 L295.91,540.05 L297.94,540.05 L299.97,540.05 L302.00,540.05" fill="none" stroke="#ffff00" stroke-width="2.8" stroke-linejoin="round"/>
<path d="M60.60,418.35 L62.63,418.35 L64.66,418.35 L66.69,418.36 L68.71,418.36 L70.74,418.37 L72.77,418.38 L74.80,418.38 L76.83,418.39 L78.86,418.40 L80.89,418.42 L82.91,418.43 L84.94,418.45 L86.97,418.47 L89.00,418.50 L91.03,418.53 L93.06,418.56 L95.09,418.60 L97.11,418.65 L99.14,418.71 L101.17,418.78 L103.20,418.86 L105.23,418.95 L107.26,419.07 L109.29,419.20 L111.31,419.35 L113.34,419.54 L115.37,419.75 L117.40,420.00 L119.43,420.30 L121.46,420.65 L123.49,421.05 L125.51,421.53 L127.54,422.09 L129.57,422.73 L131.60,423.49 L133.63,424.36 L135.66,425.36 L137.69,426.52 L139.71,427.85 L141.74,429.36 L143.77,431.07 L145.80,433.00 L147.83,435.16 L149.86,437.55 L151.89,440.18 L153.91,443.05 L155.94,446.14 L157.97,449.44 L160.00,452.91 L162.03,456.53 L164.06,460.25 L166.09,464.02 L168.11,467.81 L170.14,471.56 L172.17,475.22 L174.20,478.77 L176.23,482.15 L178.26,485.35 L180.29,488.35 L182.31,491.14 L184.34,493.70 L186.37,496.04 L188.40,498.17 L190.43,500.09 L192.46,501.82 L194.49,503.36 L196.51,504.74 L198.54,505.96 L200.57,507.04 L202.60,508.00 L204.63,508.84 L206.66,509.58 L208.69,510.23 L210.71,510.80 L212.74,511.29 L214.77,511.73 L216.80,512.11 L218.83,512.45 L220.86,512.74 L222.89,512.99 L224.91,513.21 L226.94,513.40 L228.97,513.57 L231.00,513.72 L233.03,513.85 L235.06,513.96 L237.09,514.05 L239.11,514.14 L241.14,514.21 L243.17,514.28 L245.20,514.33 L247.23,514.38 L249.26,514.42 L251.29,514.46 L253.31,514.49 L255.34,514.52 L257.37,514.54 L259.40,514.56 L261.43,514.58 L263.46,514.60 L265.49,514.61 L267.51,514.62 L269.54,514.63 L271.57,514.64 L273.60,514.65 L275.63,514.66 L277.66,514.66 L279.69,514.67 L281.71,514.67 L283.74,514.68 L285.77,514.68 L287.80,514.68 L289.83,514.69 L291.86,514.69 L293.89,514.69 L295.91,514.69 L297.94,514.69 L299.97,514.69 L302.00,514.70" fill="none" stroke="#20e884" stroke-width="2.6" stroke-dasharray="9.2 12.7" stroke-linecap="round" stroke-linejoin="round"/>
<path d="M60.60,418.04 L62.63,418.05 L64.66,418.06 L66.69,418.07 L68.71,418.08 L70.74,418.09 L72.77,418.11 L74.80,418.12 L76.83,418.15 L78.86,418.17 L80.89,418.20 L82.91,418.23 L84.94,418.27 L86.97,418.32 L89.00,418.37 L91.03,418.44 L93.06,418.51 L95.09,418.60 L97.11,418.70 L99.14,418.82 L101.17,418.96 L103.20,419.12 L105.23,419.31 L107.26,419.53 L109.29,419.79 L111.31,420.10 L113.34,420.45 L115.37,420.86 L117.40,421.34 L119.43,421.89 L121.46,422.54 L123.49,423.28 L125.51,424.14 L127.54,425.13 L129.57,426.26 L131.60,427.56 L133.63,429.04 L135.66,430.72 L137.69,432.62 L139.71,434.75 L141.74,437.12 L143.77,439.76 L145.80,442.66 L147.83,445.82 L149.86,449.23 L151.89,452.89 L153.91,456.76 L155.94,460.82 L157.97,465.03 L160.00,469.34 L162.03,473.69 L164.06,478.05 L166.09,482.36 L168.11,486.56 L170.14,490.63 L172.17,494.52 L174.20,498.19 L176.23,501.64 L178.26,504.85 L180.29,507.80 L182.31,510.51 L184.34,512.97 L186.37,515.20 L188.40,517.20 L190.43,519.00 L192.46,520.60 L194.49,522.02 L196.51,523.28 L198.54,524.40 L200.57,525.38 L202.60,526.25 L204.63,527.01 L206.66,527.67 L208.69,528.26 L210.71,528.77 L212.74,529.21 L214.77,529.60 L216.80,529.94 L218.83,530.24 L220.86,530.50 L222.89,530.72 L224.91,530.92 L226.94,531.09 L228.97,531.24 L231.00,531.37 L233.03,531.48 L235.06,531.58 L237.09,531.66 L239.11,531.74 L241.14,531.80 L243.17,531.86 L245.20,531.91 L247.23,531.95 L249.26,531.99 L251.29,532.02 L253.31,532.05 L255.34,532.07 L257.37,532.09 L259.40,532.11 L261.43,532.13 L263.46,532.14 L265.49,532.15 L267.51,532.16 L269.54,532.17 L271.57,532.18 L273.60,532.19 L275.63,532.19 L277.66,532.20 L279.69,532.20 L281.71,532.21 L283.74,532.21 L285.77,532.21 L287.80,532.21 L289.83,532.22 L291.86,532.22 L293.89,532.22 L295.91,532.22 L297.94,532.22 L299.97,532.22 L302.00,532.23" fill="none" stroke="#5a78e6" stroke-width="2.6" stroke-dasharray="9.2 12.7" stroke-linecap="round" stroke-linejoin="round"/>
<path d="M60.60,418.34 L62.63,418.35 L64.66,418.36 L66.69,418.37 L68.71,418.38 L70.74,418.39 L72.77,418.40 L74.80,418.42 L76.83,418.44 L78.86,418.47 L80.89,418.49 L82.91,418.53 L84.94,418.57 L86.97,418.62 L89.00,418.68 L91.03,418.75 L93.06,418.84 L95.09,418.94 L97.11,419.06 L99.14,419.20 L101.17,419.37 L103.20,419.57 L105.23,419.81 L107.26,420.10 L109.29,420.44 L111.31,420.84 L113.34,421.32 L115.37,421.88 L117.40,422.54 L119.43,423.32 L121.46,424.24 L123.49,425.31 L125.51,426.56 L127.54,428.01 L129.57,429.69 L131.60,431.62 L133.63,433.82 L135.66,436.32 L137.69,439.13 L139.71,442.27 L141.74,445.73 L143.77,449.52 L145.80,453.60 L147.83,457.96 L149.86,462.56 L151.89,467.33 L153.91,472.23 L155.94,477.19 L157.97,482.14 L160.00,487.02 L162.03,491.78 L164.06,496.36 L166.09,500.72 L168.11,504.84 L170.14,508.68 L172.17,512.25 L174.20,515.54 L176.23,518.55 L178.26,521.28 L180.29,523.76 L182.31,526.00 L184.34,528.01 L186.37,529.80 L188.40,531.41 L190.43,532.85 L192.46,534.12 L194.49,535.25 L196.51,536.26 L198.54,537.15 L200.57,537.94 L202.60,538.64 L204.63,539.25 L206.66,539.80 L208.69,540.28 L210.71,540.70 L212.74,541.08 L214.77,541.41 L216.80,541.70 L218.83,541.96 L220.86,542.18 L222.89,542.38 L224.91,542.56 L226.94,542.71 L228.97,542.85 L231.00,542.97 L233.03,543.08 L235.06,543.17 L237.09,543.25 L239.11,543.32 L241.14,543.39 L243.17,543.44 L245.20,543.49 L247.23,543.54 L249.26,543.58 L251.29,543.61 L253.31,543.64 L255.34,543.67 L257.37,543.69 L259.40,543.71 L261.43,543.73 L263.46,543.74 L265.49,543.76 L267.51,543.77 L269.54,543.78 L271.57,543.79 L273.60,543.80 L275.63,543.80 L277.66,543.81 L279.69,543.82 L281.71,543.82 L283.74,543.83 L285.77,543.83 L287.80,543.83 L289.83,543.84 L291.86,543.84 L293.89,543.84 L295.91,543.84 L297.94,543.85 L299.97,543.85 L302.00,543.85" fill="none" stroke="#9650e6" stroke-width="2.6" stroke-dasharray="9.2 12.7" stroke-linecap="round" stroke-linejoin="round"/>
</g>
<rect x="62.6" y="360.7" width="237.9" height="191.5" fill="none" stroke="#3a3a3a" stroke-width="1.3"/>
<line x1="62.6" y1="552.2" x2="65.8" y2="552.2" stroke="#3a3a3a" stroke-width="1"/>
<line x1="62.6" y1="538.543" x2="64.4" y2="538.543" stroke="#3a3a3a" stroke-width="1"/>
<line x1="62.6" y1="524.886" x2="65.8" y2="524.886" stroke="#3a3a3a" stroke-width="1"/>
<line x1="62.6" y1="511.229" x2="64.4" y2="511.229" stroke="#3a3a3a" stroke-width="1"/>
<line x1="62.6" y1="497.572" x2="65.8" y2="497.572" stroke="#3a3a3a" stroke-width="1"/>
<line x1="62.6" y1="483.915" x2="64.4" y2="483.915" stroke="#3a3a3a" stroke-width="1"/>
<line x1="62.6" y1="470.258" x2="65.8" y2="470.258" stroke="#3a3a3a" stroke-width="1"/>
<line x1="62.6" y1="456.601" x2="64.4" y2="456.601" stroke="#3a3a3a" stroke-width="1"/>
<line x1="62.6" y1="442.944" x2="65.8" y2="442.944" stroke="#3a3a3a" stroke-width="1"/>
<line x1="62.6" y1="429.287" x2="64.4" y2="429.287" stroke="#3a3a3a" stroke-width="1"/>
<line x1="62.6" y1="415.63" x2="65.8" y2="415.63" stroke="#3a3a3a" stroke-width="1"/>
<line x1="62.6" y1="401.973" x2="64.4" y2="401.973" stroke="#3a3a3a" stroke-width="1"/>
<line x1="62.6" y1="388.316" x2="65.8" y2="388.316" stroke="#3a3a3a" stroke-width="1"/>
<line x1="62.6" y1="374.659" x2="64.4" y2="374.659" stroke="#3a3a3a" stroke-width="1"/>
<line x1="62.6" y1="361.002" x2="65.8" y2="361.002" stroke="#3a3a3a" stroke-width="1"/>
<text x="58.8" y="557.2" font-family='"Liberation Serif", serif' font-size="14.5" text-anchor="end" font-weight="normal" font-style="normal" >20</text>
<text x="58.8" y="529.886" font-family='"Liberation Serif", serif' font-size="14.5" text-anchor="end" font-weight="normal" font-style="normal" >30</text>
<text x="58.8" y="502.572" font-family='"Liberation Serif", serif' font-size="14.5" text-anchor="end" font-weight="normal" font-style="normal" >40</text>
<text x="58.8" y="475.258" font-family='"Liberation Serif", serif' font-size="14.5" text-anchor="end" font-weight="normal" font-style="normal" >50</text>
<text x="58.8" y="447.944" font-family='"Liberation Serif", serif' font-size="14.5" text-anchor="end" font-weight="normal" font-style="normal" >60</text>
<text x="58.8" y="420.63" font-family='"Liberation Serif", serif' font-size="14.5" text-anchor="end" font-weight="normal" font-style="normal" >70</text>
<text x="58.8" y="393.316" font-family='"Liberation Serif", serif' font-size="14.5" text-anchor="end" font-weight="normal" font-style="normal" >80</text>
<text x="58.8" y="366.002" font-family='"Liberation Serif", serif' font-size="14.5" text-anchor="end" font-weight="normal" font-style="normal" >90</text>
<line x1="80.50" y1="552.2" x2="80.50" y2="550.6" stroke="#3a3a3a" stroke-width="0.9"/>
<line x1="90.98" y1="552.2" x2="90.98" y2="550.6" stroke="#3a3a3a" stroke-width="0.9"/>
<line x1="98.41" y1="552.2" x2="98.41" y2="550.6" stroke="#3a3a3a" stroke-width="0.9"/>
<line x1="104.17" y1="552.2" x2="104.17" y2="550.6" stroke="#3a3a3a" stroke-width="0.9"/>
<line x1="108.88" y1="552.2" x2="108.88" y2="550.6" stroke="#3a3a3a" stroke-width="0.9"/>
<line x1="112.86" y1="552.2" x2="112.86" y2="550.6" stroke="#3a3a3a" stroke-width="0.9"/>
<line x1="116.31" y1="552.2" x2="116.31" y2="550.6" stroke="#3a3a3a" stroke-width="0.9"/>
<line x1="119.35" y1="552.2" x2="119.35" y2="550.6" stroke="#3a3a3a" stroke-width="0.9"/>
<line x1="122.08" y1="552.2" x2="122.08" y2="549" stroke="#3a3a3a" stroke-width="0.9"/>
<line x1="139.98" y1="552.2" x2="139.98" y2="550.6" stroke="#3a3a3a" stroke-width="0.9"/>
<line x1="150.45" y1="552.2" x2="150.45" y2="550.6" stroke="#3a3a3a" stroke-width="0.9"/>
<line x1="157.88" y1="552.2" x2="157.88" y2="550.6" stroke="#3a3a3a" stroke-width="0.9"/>
<line x1="163.65" y1="552.2" x2="163.65" y2="550.6" stroke="#3a3a3a" stroke-width="0.9"/>
<line x1="168.36" y1="552.2" x2="168.36" y2="550.6" stroke="#3a3a3a" stroke-width="0.9"/>
<line x1="172.34" y1="552.2" x2="172.34" y2="550.6" stroke="#3a3a3a" stroke-width="0.9"/>
<line x1="175.79" y1="552.2" x2="175.79" y2="550.6" stroke="#3a3a3a" stroke-width="0.9"/>
<line x1="178.83" y1="552.2" x2="178.83" y2="550.6" stroke="#3a3a3a" stroke-width="0.9"/>
<line x1="181.55" y1="552.2" x2="181.55" y2="549" stroke="#3a3a3a" stroke-width="0.9"/>
<line x1="199.45" y1="552.2" x2="199.45" y2="550.6" stroke="#3a3a3a" stroke-width="0.9"/>
<line x1="209.93" y1="552.2" x2="209.93" y2="550.6" stroke="#3a3a3a" stroke-width="0.9"/>
<line x1="217.36" y1="552.2" x2="217.36" y2="550.6" stroke="#3a3a3a" stroke-width="0.9"/>
<line x1="223.12" y1="552.2" x2="223.12" y2="550.6" stroke="#3a3a3a" stroke-width="0.9"/>
<line x1="227.83" y1="552.2" x2="227.83" y2="550.6" stroke="#3a3a3a" stroke-width="0.9"/>
<line x1="231.81" y1="552.2" x2="231.81" y2="550.6" stroke="#3a3a3a" stroke-width="0.9"/>
<line x1="235.26" y1="552.2" x2="235.26" y2="550.6" stroke="#3a3a3a" stroke-width="0.9"/>
<line x1="238.30" y1="552.2" x2="238.30" y2="550.6" stroke="#3a3a3a" stroke-width="0.9"/>
<line x1="241.03" y1="552.2" x2="241.03" y2="549" stroke="#3a3a3a" stroke-width="0.9"/>
<line x1="258.93" y1="552.2" x2="258.93" y2="550.6" stroke="#3a3a3a" stroke-width="0.9"/>
<line x1="269.40" y1="552.2" x2="269.40" y2="550.6" stroke="#3a3a3a" stroke-width="0.9"/>
<line x1="276.83" y1="552.2" x2="276.83" y2="550.6" stroke="#3a3a3a" stroke-width="0.9"/>
<line x1="282.60" y1="552.2" x2="282.60" y2="550.6" stroke="#3a3a3a" stroke-width="0.9"/>
<line x1="287.31" y1="552.2" x2="287.31" y2="550.6" stroke="#3a3a3a" stroke-width="0.9"/>
<line x1="291.29" y1="552.2" x2="291.29" y2="550.6" stroke="#3a3a3a" stroke-width="0.9"/>
<line x1="294.74" y1="552.2" x2="294.74" y2="550.6" stroke="#3a3a3a" stroke-width="0.9"/>
<line x1="297.78" y1="552.2" x2="297.78" y2="550.6" stroke="#3a3a3a" stroke-width="0.9"/>
<text x="63.4" y="570.6" font-family='"Liberation Serif", serif' font-size="14.5" text-anchor="middle" font-weight="normal" font-style="normal" >10<tspan dy="-6.5" font-size="10">1</tspan></text>
<text x="122.875" y="570.6" font-family='"Liberation Serif", serif' font-size="14.5" text-anchor="middle" font-weight="normal" font-style="normal" >10<tspan dy="-6.5" font-size="10">2</tspan></text>
<text x="182.35" y="570.6" font-family='"Liberation Serif", serif' font-size="14.5" text-anchor="middle" font-weight="normal" font-style="normal" >10<tspan dy="-6.5" font-size="10">3</tspan></text>
<text x="241.825" y="570.6" font-family='"Liberation Serif", serif' font-size="14.5" text-anchor="middle" font-weight="normal" font-style="normal" >10<tspan dy="-6.5" font-size="10">4</tspan></text>
<text x="301.3" y="570.6" font-family='"Liberation Serif", serif' font-size="14.5" text-anchor="middle" font-weight="normal" font-style="normal" >10<tspan dy="-6.5" font-size="10">5</tspan></text>
<text x="136" y="581.2" font-family='"Liberation Serif", serif' font-size="14.5" text-anchor="start" font-weight="normal" font-style="normal" >Frequency (Hz)</text>
<text x="103.2" y="356.9" font-family='"Liberation Serif", serif' font-size="14.5" text-anchor="start" font-weight="normal" font-style="normal" >Substrate spacing−voltage</text>
<text transform="translate(39.2,456.5) rotate(-90)" font-family='"Liberation Serif", serif' font-size="14.5" text-anchor="middle">Voltage (V)</text>
<rect x="393.5" y="360.7" width="237.9" height="191.5" fill="url(#bgE)"/>
<g clip-path="url(#pcE)">
<path d="M391.50,440.01 L393.53,440.02 L395.56,440.03 L397.59,440.04 L399.61,440.05 L401.64,440.06 L403.67,440.08 L405.70,440.10 L407.73,440.12 L409.76,440.15 L411.79,440.18 L413.81,440.21 L415.84,440.25 L417.87,440.30 L419.90,440.35 L421.93,440.41 L423.96,440.48 L425.99,440.56 L428.01,440.65 L430.04,440.75 L432.07,440.87 L434.10,441.00 L436.13,441.16 L438.16,441.34 L440.19,441.54 L442.21,441.78 L444.24,442.05 L446.27,442.35 L448.30,442.70 L450.33,443.10 L452.36,443.55 L454.39,444.07 L456.41,444.65 L458.44,445.31 L460.47,446.05 L462.50,446.89 L464.53,447.82 L466.56,448.87 L468.59,450.03 L470.61,451.32 L472.64,452.74 L474.67,454.29 L476.70,455.97 L478.73,457.79 L480.76,459.72 L482.79,461.77 L484.81,463.90 L486.84,466.11 L488.87,468.35 L490.90,470.59 L492.93,472.80 L494.96,474.94 L496.99,476.97 L499.01,478.84 L501.04,480.54 L503.07,482.04 L505.10,483.34 L507.13,484.42 L509.16,485.30 L511.19,486.00 L513.21,486.54 L515.24,486.94 L517.27,487.23 L519.30,487.43 L521.33,487.57 L523.36,487.66 L525.39,487.73 L527.41,487.76 L529.44,487.79 L531.47,487.80 L533.50,487.81 L535.53,487.81 L537.56,487.82 L539.59,487.82 L541.61,487.82 L543.64,487.82 L545.67,487.82 L547.70,487.82 L549.73,487.82 L551.76,487.82 L553.79,487.82 L555.81,487.82 L557.84,487.82 L559.87,487.82 L561.90,487.82 L563.93,487.82 L565.96,487.82 L567.99,487.82 L570.01,487.82 L572.04,487.82 L574.07,487.82 L576.10,487.82 L578.13,487.82 L580.16,487.82 L582.19,487.82 L584.21,487.82 L586.24,487.82 L588.27,487.82 L590.30,487.82 L592.33,487.82 L594.36,487.82 L596.39,487.82 L598.41,487.82 L600.44,487.82 L602.47,487.82 L604.50,487.82 L606.53,487.82 L608.56,487.82 L610.59,487.82 L612.61,487.82 L614.64,487.82 L616.67,487.82 L618.70,487.82 L620.73,487.82 L622.76,487.82 L624.79,487.82 L626.81,487.82 L628.84,487.82 L630.87,487.82 L632.90,487.82" fill="none" stroke="#ef3439" stroke-width="2.6" stroke-linejoin="round"/>
<path d="M391.50,441.47 L393.53,441.48 L395.56,441.49 L397.59,441.50 L399.61,441.51 L401.64,441.52 L403.67,441.54 L405.70,441.56 L407.73,441.58 L409.76,441.61 L411.79,441.65 L413.81,441.69 L415.84,441.73 L417.87,441.79 L419.90,441.86 L421.93,441.94 L423.96,442.03 L425.99,442.14 L428.01,442.27 L430.04,442.43 L432.07,442.62 L434.10,442.84 L436.13,443.10 L438.16,443.40 L440.19,443.76 L442.21,444.19 L444.24,444.69 L446.27,445.28 L448.30,445.97 L450.33,446.77 L452.36,447.71 L454.39,448.79 L456.41,450.05 L458.44,451.48 L460.47,453.13 L462.50,454.99 L464.53,457.08 L466.56,459.41 L468.59,461.98 L470.61,464.77 L472.64,467.78 L474.67,470.96 L476.70,474.28 L478.73,477.67 L480.76,481.07 L482.79,484.41 L484.81,487.63 L486.84,490.66 L488.87,493.44 L490.90,495.93 L492.93,498.12 L494.96,500.00 L496.99,501.58 L499.01,502.88 L501.04,503.93 L503.07,504.76 L505.10,505.41 L507.13,505.91 L509.16,506.28 L511.19,506.56 L513.21,506.77 L515.24,506.93 L517.27,507.04 L519.30,507.12 L521.33,507.18 L523.36,507.22 L525.39,507.25 L527.41,507.27 L529.44,507.29 L531.47,507.30 L533.50,507.30 L535.53,507.31 L537.56,507.31 L539.59,507.32 L541.61,507.32 L543.64,507.32 L545.67,507.32 L547.70,507.32 L549.73,507.32 L551.76,507.32 L553.79,507.32 L555.81,507.32 L557.84,507.32 L559.87,507.32 L561.90,507.32 L563.93,507.32 L565.96,507.32 L567.99,507.32 L570.01,507.32 L572.04,507.32 L574.07,507.32 L576.10,507.32 L578.13,507.32 L580.16,507.32 L582.19,507.32 L584.21,507.32 L586.24,507.32 L588.27,507.32 L590.30,507.32 L592.33,507.32 L594.36,507.32 L596.39,507.32 L598.41,507.32 L600.44,507.32 L602.47,507.32 L604.50,507.32 L606.53,507.32 L608.56,507.32 L610.59,507.32 L612.61,507.32 L614.64,507.32 L616.67,507.32 L618.70,507.32 L620.73,507.32 L622.76,507.32 L624.79,507.32 L626.81,507.32 L628.84,507.32 L630.87,507.32 L632.90,507.32" fill="none" stroke="#ff8a1c" stroke-width="2.6" stroke-linejoin="round"/>
<path d="M391.50,442.80 L393.53,442.81 L395.56,442.82 L397.59,442.84 L399.61,442.85 L401.64,442.88 L403.67,442.90 L405.70,442.93 L407.73,442.97 L409.76,443.01 L411.79,443.06 L413.81,443.12 L415.84,443.19 L417.87,443.28 L419.90,443.38 L421.93,443.51 L423.96,443.65 L425.99,443.83 L428.01,444.04 L430.04,444.28 L432.07,444.58 L434.10,444.93 L436.13,445.34 L438.16,445.83 L440.19,446.41 L442.21,447.10 L444.24,447.90 L446.27,448.85 L448.30,449.95 L450.33,451.23 L452.36,452.72 L454.39,454.43 L456.41,456.39 L458.44,458.61 L460.47,461.11 L462.50,463.90 L464.53,466.97 L466.56,470.30 L468.59,473.87 L470.61,477.63 L472.64,481.52 L474.67,485.48 L476.70,489.43 L478.73,493.27 L480.76,496.94 L482.79,500.36 L484.81,503.48 L486.84,506.26 L488.87,508.69 L490.90,510.77 L492.93,512.51 L494.96,513.95 L496.99,515.11 L499.01,516.04 L501.04,516.77 L503.07,517.34 L505.10,517.77 L507.13,518.11 L509.16,518.36 L511.19,518.55 L513.21,518.69 L515.24,518.79 L517.27,518.87 L519.30,518.93 L521.33,518.97 L523.36,519.00 L525.39,519.02 L527.41,519.04 L529.44,519.05 L531.47,519.06 L533.50,519.06 L535.53,519.07 L537.56,519.07 L539.59,519.07 L541.61,519.07 L543.64,519.08 L545.67,519.08 L547.70,519.08 L549.73,519.08 L551.76,519.08 L553.79,519.08 L555.81,519.08 L557.84,519.08 L559.87,519.08 L561.90,519.08 L563.93,519.08 L565.96,519.08 L567.99,519.08 L570.01,519.08 L572.04,519.08 L574.07,519.08 L576.10,519.08 L578.13,519.08 L580.16,519.08 L582.19,519.08 L584.21,519.08 L586.24,519.08 L588.27,519.08 L590.30,519.08 L592.33,519.08 L594.36,519.08 L596.39,519.08 L598.41,519.08 L600.44,519.08 L602.47,519.08 L604.50,519.08 L606.53,519.08 L608.56,519.08 L610.59,519.08 L612.61,519.08 L614.64,519.08 L616.67,519.08 L618.70,519.08 L620.73,519.08 L622.76,519.08 L624.79,519.08 L626.81,519.08 L628.84,519.08 L630.87,519.08 L632.90,519.08" fill="none" stroke="#ffff00" stroke-width="2.8" stroke-linejoin="round"/>
<path d="M391.50,465.00 L393.53,465.01 L395.56,465.01 L397.59,465.01 L399.61,465.02 L401.64,465.02 L403.67,465.03 L405.70,465.04 L407.73,465.05 L409.76,465.05 L411.79,465.07 L413.81,465.08 L415.84,465.09 L417.87,465.11 L419.90,465.13 L421.93,465.16 L423.96,465.19 L425.99,465.22 L428.01,465.26 L430.04,465.31 L432.07,465.36 L434.10,465.42 L436.13,465.50 L438.16,465.58 L440.19,465.68 L442.21,465.80 L444.24,465.94 L446.27,466.09 L448.30,466.27 L450.33,466.49 L452.36,466.73 L454.39,467.01 L456.41,467.33 L458.44,467.70 L460.47,468.13 L462.50,468.61 L464.53,469.15 L466.56,469.77 L468.59,470.45 L470.61,471.21 L472.64,472.05 L474.67,472.96 L476.70,473.95 L478.73,475.00 L480.76,476.10 L482.79,477.23 L484.81,478.38 L486.84,479.52 L488.87,480.63 L490.90,481.68 L492.93,482.64 L494.96,483.51 L496.99,484.26 L499.01,484.88 L501.04,485.39 L503.07,485.79 L505.10,486.09 L507.13,486.31 L509.16,486.46 L511.19,486.56 L513.21,486.63 L515.24,486.67 L517.27,486.70 L519.30,486.71 L521.33,486.72 L523.36,486.73 L525.39,486.73 L527.41,486.73 L529.44,486.73 L531.47,486.73 L533.50,486.73 L535.53,486.73 L537.56,486.73 L539.59,486.73 L541.61,486.73 L543.64,486.73 L545.67,486.73 L547.70,486.73 L549.73,486.73 L551.76,486.73 L553.79,486.73 L555.81,486.73 L557.84,486.73 L559.87,486.73 L561.90,486.73 L563.93,486.73 L565.96,486.73 L567.99,486.73 L570.01,486.73 L572.04,486.73 L574.07,486.73 L576.10,486.73 L578.13,486.73 L580.16,486.73 L582.19,486.73 L584.21,486.73 L586.24,486.73 L588.27,486.73 L590.30,486.73 L592.33,486.73 L594.36,486.73 L596.39,486.73 L598.41,486.73 L600.44,486.73 L602.47,486.73 L604.50,486.73 L606.53,486.73 L608.56,486.73 L610.59,486.73 L612.61,486.73 L614.64,486.73 L616.67,486.73 L618.70,486.73 L620.73,486.73 L622.76,486.73 L624.79,486.73 L626.81,486.73 L628.84,486.73 L630.87,486.73 L632.90,486.73" fill="none" stroke="#20e884" stroke-width="2.6" stroke-dasharray="9.2 12.7" stroke-linecap="round" stroke-linejoin="round"/>
<path d="M391.50,469.85 L393.53,469.86 L395.56,469.86 L397.59,469.87 L399.61,469.88 L401.64,469.90 L403.67,469.91 L405.70,469.93 L407.73,469.95 L409.76,469.97 L411.79,469.99 L413.81,470.02 L415.84,470.06 L417.87,470.10 L419.90,470.14 L421.93,470.20 L423.96,470.26 L425.99,470.33 L428.01,470.42 L430.04,470.51 L432.07,470.62 L434.10,470.75 L436.13,470.90 L438.16,471.07 L440.19,471.27 L442.21,471.50 L444.24,471.76 L446.27,472.07 L448.30,472.41 L450.33,472.81 L452.36,473.27 L454.39,473.78 L456.41,474.37 L458.44,475.04 L460.47,475.80 L462.50,476.65 L464.53,477.60 L466.56,478.66 L468.59,479.83 L470.61,481.12 L472.64,482.53 L474.67,484.04 L476.70,485.67 L478.73,487.38 L480.76,489.17 L482.79,491.01 L484.81,492.87 L486.84,494.72 L488.87,496.51 L490.90,498.22 L492.93,499.81 L494.96,501.25 L496.99,502.52 L499.01,503.61 L501.04,504.51 L503.07,505.23 L505.10,505.80 L507.13,506.23 L509.16,506.54 L511.19,506.76 L513.21,506.91 L515.24,507.01 L517.27,507.07 L519.30,507.11 L521.33,507.14 L523.36,507.15 L525.39,507.16 L527.41,507.16 L529.44,507.17 L531.47,507.17 L533.50,507.17 L535.53,507.17 L537.56,507.17 L539.59,507.17 L541.61,507.17 L543.64,507.17 L545.67,507.17 L547.70,507.17 L549.73,507.17 L551.76,507.17 L553.79,507.17 L555.81,507.17 L557.84,507.17 L559.87,507.17 L561.90,507.17 L563.93,507.17 L565.96,507.17 L567.99,507.17 L570.01,507.17 L572.04,507.17 L574.07,507.17 L576.10,507.17 L578.13,507.17 L580.16,507.17 L582.19,507.17 L584.21,507.17 L586.24,507.17 L588.27,507.17 L590.30,507.17 L592.33,507.17 L594.36,507.17 L596.39,507.17 L598.41,507.17 L600.44,507.17 L602.47,507.17 L604.50,507.17 L606.53,507.17 L608.56,507.17 L610.59,507.17 L612.61,507.17 L614.64,507.17 L616.67,507.17 L618.70,507.17 L620.73,507.17 L622.76,507.17 L624.79,507.17 L626.81,507.17 L628.84,507.17 L630.87,507.17 L632.90,507.17" fill="none" stroke="#5a78e6" stroke-width="2.6" stroke-dasharray="9.2 12.7" stroke-linecap="round" stroke-linejoin="round"/>
<path d="M391.50,471.87 L393.53,471.88 L395.56,471.89 L397.59,471.91 L399.61,471.93 L401.64,471.95 L403.67,471.97 L405.70,472.00 L407.73,472.03 L409.76,472.07 L411.79,472.11 L413.81,472.16 L415.84,472.22 L417.87,472.29 L419.90,472.37 L421.93,472.46 L423.96,472.57 L425.99,472.69 L428.01,472.83 L430.04,472.99 L432.07,473.17 L434.10,473.39 L436.13,473.63 L438.16,473.92 L440.19,474.24 L442.21,474.62 L444.24,475.04 L446.27,475.53 L448.30,476.09 L450.33,476.73 L452.36,477.45 L454.39,478.27 L456.41,479.20 L458.44,480.24 L460.47,481.41 L462.50,482.70 L464.53,484.14 L466.56,485.72 L468.59,487.45 L470.61,489.32 L472.64,491.32 L474.67,493.44 L476.70,495.66 L478.73,497.96 L480.76,500.29 L482.79,502.62 L484.81,504.91 L486.84,507.10 L488.87,509.17 L490.90,511.06 L492.93,512.75 L494.96,514.21 L496.99,515.45 L499.01,516.47 L501.04,517.27 L503.07,517.89 L505.10,518.35 L507.13,518.69 L509.16,518.92 L511.19,519.08 L513.21,519.18 L515.24,519.25 L517.27,519.29 L519.30,519.31 L521.33,519.33 L523.36,519.33 L525.39,519.34 L527.41,519.34 L529.44,519.34 L531.47,519.34 L533.50,519.34 L535.53,519.34 L537.56,519.35 L539.59,519.35 L541.61,519.35 L543.64,519.35 L545.67,519.35 L547.70,519.35 L549.73,519.35 L551.76,519.35 L553.79,519.35 L555.81,519.35 L557.84,519.35 L559.87,519.35 L561.90,519.35 L563.93,519.35 L565.96,519.35 L567.99,519.35 L570.01,519.35 L572.04,519.35 L574.07,519.35 L576.10,519.35 L578.13,519.35 L580.16,519.35 L582.19,519.35 L584.21,519.35 L586.24,519.35 L588.27,519.35 L590.30,519.35 L592.33,519.35 L594.36,519.35 L596.39,519.35 L598.41,519.35 L600.44,519.35 L602.47,519.35 L604.50,519.35 L606.53,519.35 L608.56,519.35 L610.59,519.35 L612.61,519.35 L614.64,519.35 L616.67,519.35 L618.70,519.35 L620.73,519.35 L622.76,519.35 L624.79,519.35 L626.81,519.35 L628.84,519.35 L630.87,519.35 L632.90,519.35" fill="none" stroke="#9650e6" stroke-width="2.6" stroke-dasharray="9.2 12.7" stroke-linecap="round" stroke-linejoin="round"/>
</g>
<rect x="393.5" y="360.7" width="237.9" height="191.5" fill="none" stroke="#3a3a3a" stroke-width="1.3"/>
<line x1="393.5" y1="552.2" x2="395.3" y2="552.2" stroke="#3a3a3a" stroke-width="1"/>
<line x1="393.5" y1="530.935" x2="396.7" y2="530.935" stroke="#3a3a3a" stroke-width="1"/>
<line x1="393.5" y1="509.67" x2="395.3" y2="509.67" stroke="#3a3a3a" stroke-width="1"/>
<line x1="393.5" y1="488.405" x2="396.7" y2="488.405" stroke="#3a3a3a" stroke-width="1"/>
<line x1="393.5" y1="467.14" x2="395.3" y2="467.14" stroke="#3a3a3a" stroke-width="1"/>
<line x1="393.5" y1="445.875" x2="396.7" y2="445.875" stroke="#3a3a3a" stroke-width="1"/>
<line x1="393.5" y1="424.61" x2="395.3" y2="424.61" stroke="#3a3a3a" stroke-width="1"/>
<line x1="393.5" y1="403.345" x2="396.7" y2="403.345" stroke="#3a3a3a" stroke-width="1"/>
<line x1="393.5" y1="382.08" x2="395.3" y2="382.08" stroke="#3a3a3a" stroke-width="1"/>
<line x1="393.5" y1="360.815" x2="396.7" y2="360.815" stroke="#3a3a3a" stroke-width="1"/>
<text x="389.2" y="535.835" font-family='"Liberation Serif", serif' font-size="14.5" text-anchor="end" font-weight="normal" font-style="normal" >1</text>
<text x="389.2" y="493.305" font-family='"Liberation Serif", serif' font-size="14.5" text-anchor="end" font-weight="normal" font-style="normal" >2</text>
<text x="389.2" y="450.775" font-family='"Liberation Serif", serif' font-size="14.5" text-anchor="end" font-weight="normal" font-style="normal" >3</text>
<text x="389.2" y="408.245" font-family='"Liberation Serif", serif' font-size="14.5" text-anchor="end" font-weight="normal" font-style="normal" >4</text>
<text x="389.2" y="365.715" font-family='"Liberation Serif", serif' font-size="14.5" text-anchor="end" font-weight="normal" font-style="normal" >5</text>
<line x1="411.40" y1="552.2" x2="411.40" y2="550.6" stroke="#3a3a3a" stroke-width="0.9"/>
<line x1="421.88" y1="552.2" x2="421.88" y2="550.6" stroke="#3a3a3a" stroke-width="0.9"/>
<line x1="429.31" y1="552.2" x2="429.31" y2="550.6" stroke="#3a3a3a" stroke-width="0.9"/>
<line x1="435.07" y1="552.2" x2="435.07" y2="550.6" stroke="#3a3a3a" stroke-width="0.9"/>
<line x1="439.78" y1="552.2" x2="439.78" y2="550.6" stroke="#3a3a3a" stroke-width="0.9"/>
<line x1="443.76" y1="552.2" x2="443.76" y2="550.6" stroke="#3a3a3a" stroke-width="0.9"/>
<line x1="447.21" y1="552.2" x2="447.21" y2="550.6" stroke="#3a3a3a" stroke-width="0.9"/>
<line x1="450.25" y1="552.2" x2="450.25" y2="550.6" stroke="#3a3a3a" stroke-width="0.9"/>
<line x1="452.98" y1="552.2" x2="452.98" y2="549" stroke="#3a3a3a" stroke-width="0.9"/>
<line x1="470.88" y1="552.2" x2="470.88" y2="550.6" stroke="#3a3a3a" stroke-width="0.9"/>
<line x1="481.35" y1="552.2" x2="481.35" y2="550.6" stroke="#3a3a3a" stroke-width="0.9"/>
<line x1="488.78" y1="552.2" x2="488.78" y2="550.6" stroke="#3a3a3a" stroke-width="0.9"/>
<line x1="494.55" y1="552.2" x2="494.55" y2="550.6" stroke="#3a3a3a" stroke-width="0.9"/>
<line x1="499.26" y1="552.2" x2="499.26" y2="550.6" stroke="#3a3a3a" stroke-width="0.9"/>
<line x1="503.24" y1="552.2" x2="503.24" y2="550.6" stroke="#3a3a3a" stroke-width="0.9"/>
<line x1="506.69" y1="552.2" x2="506.69" y2="550.6" stroke="#3a3a3a" stroke-width="0.9"/>
<line x1="509.73" y1="552.2" x2="509.73" y2="550.6" stroke="#3a3a3a" stroke-width="0.9"/>
<line x1="512.45" y1="552.2" x2="512.45" y2="549" stroke="#3a3a3a" stroke-width="0.9"/>
<line x1="530.35" y1="552.2" x2="530.35" y2="550.6" stroke="#3a3a3a" stroke-width="0.9"/>
<line x1="540.83" y1="552.2" x2="540.83" y2="550.6" stroke="#3a3a3a" stroke-width="0.9"/>
<line x1="548.26" y1="552.2" x2="548.26" y2="550.6" stroke="#3a3a3a" stroke-width="0.9"/>
<line x1="554.02" y1="552.2" x2="554.02" y2="550.6" stroke="#3a3a3a" stroke-width="0.9"/>
<line x1="558.73" y1="552.2" x2="558.73" y2="550.6" stroke="#3a3a3a" stroke-width="0.9"/>
<line x1="562.71" y1="552.2" x2="562.71" y2="550.6" stroke="#3a3a3a" stroke-width="0.9"/>
<line x1="566.16" y1="552.2" x2="566.16" y2="550.6" stroke="#3a3a3a" stroke-width="0.9"/>
<line x1="569.20" y1="552.2" x2="569.20" y2="550.6" stroke="#3a3a3a" stroke-width="0.9"/>
<line x1="571.92" y1="552.2" x2="571.92" y2="549" stroke="#3a3a3a" stroke-width="0.9"/>
<line x1="589.83" y1="552.2" x2="589.83" y2="550.6" stroke="#3a3a3a" stroke-width="0.9"/>
<line x1="600.30" y1="552.2" x2="600.30" y2="550.6" stroke="#3a3a3a" stroke-width="0.9"/>
<line x1="607.73" y1="552.2" x2="607.73" y2="550.6" stroke="#3a3a3a" stroke-width="0.9"/>
<line x1="613.50" y1="552.2" x2="613.50" y2="550.6" stroke="#3a3a3a" stroke-width="0.9"/>
<line x1="618.21" y1="552.2" x2="618.21" y2="550.6" stroke="#3a3a3a" stroke-width="0.9"/>
<line x1="622.19" y1="552.2" x2="622.19" y2="550.6" stroke="#3a3a3a" stroke-width="0.9"/>
<line x1="625.64" y1="552.2" x2="625.64" y2="550.6" stroke="#3a3a3a" stroke-width="0.9"/>
<line x1="628.68" y1="552.2" x2="628.68" y2="550.6" stroke="#3a3a3a" stroke-width="0.9"/>
<text x="394.3" y="570.6" font-family='"Liberation Serif", serif' font-size="14.5" text-anchor="middle" font-weight="normal" font-style="normal" >10<tspan dy="-6.5" font-size="10">1</tspan></text>
<text x="453.775" y="570.6" font-family='"Liberation Serif", serif' font-size="14.5" text-anchor="middle" font-weight="normal" font-style="normal" >10<tspan dy="-6.5" font-size="10">2</tspan></text>
<text x="513.25" y="570.6" font-family='"Liberation Serif", serif' font-size="14.5" text-anchor="middle" font-weight="normal" font-style="normal" >10<tspan dy="-6.5" font-size="10">3</tspan></text>
<text x="572.725" y="570.6" font-family='"Liberation Serif", serif' font-size="14.5" text-anchor="middle" font-weight="normal" font-style="normal" >10<tspan dy="-6.5" font-size="10">4</tspan></text>
<text x="632.2" y="570.6" font-family='"Liberation Serif", serif' font-size="14.5" text-anchor="middle" font-weight="normal" font-style="normal" >10<tspan dy="-6.5" font-size="10">5</tspan></text>
<text x="467.3" y="581.2" font-family='"Liberation Serif", serif' font-size="14.5" text-anchor="start" font-weight="normal" font-style="normal" >Frequency (Hz)</text>
<text x="445" y="356.9" font-family='"Liberation Serif", serif' font-size="14.5" text-anchor="start" font-weight="normal" font-style="normal" >Substrate spacing−force</text>
<text transform="translate(378.0,456.9) rotate(-90)" font-family='"Liberation Serif", serif' font-size="14.5" text-anchor="middle">Force (N)</text>
<text x="390.4" y="358.2" font-family='"Liberation Serif", serif' font-size="14.5" text-anchor="start" font-weight="normal" font-style="normal" >×10<tspan dy="-6.5" font-size="10">−5</tspan></text>
<line x1="180.2" y1="369.5" x2="214" y2="369.5" stroke="#ef3439" stroke-width="2.6"/>
<text x="216.6" y="374.1" font-family='"Liberation Serif", serif' font-size="13.4" text-anchor="start" font-weight="normal" font-style="normal" textLength="81" lengthAdjust="spacingAndGlyphs">T1D1 = 100 µm</text>
<line x1="180.2" y1="387.05" x2="214" y2="387.05" stroke="#ff8a1c" stroke-width="2.6"/>
<text x="216.6" y="391.65" font-family='"Liberation Serif", serif' font-size="13.4" text-anchor="start" font-weight="normal" font-style="normal" textLength="81" lengthAdjust="spacingAndGlyphs">T1D2 = 150 µm</text>
<line x1="180.2" y1="404.6" x2="214" y2="404.6" stroke="#ffff00" stroke-width="2.6"/>
<text x="216.6" y="409.2" font-family='"Liberation Serif", serif' font-size="13.4" text-anchor="start" font-weight="normal" font-style="normal" textLength="81" lengthAdjust="spacingAndGlyphs">T1D3 = 200 µm</text>
<line x1="181.5" y1="422.15" x2="214" y2="422.15" stroke="#20e884" stroke-width="2.6" stroke-linecap="round" stroke-dasharray="9.0 12.9"/>
<text x="216.6" y="426.75" font-family='"Liberation Serif", serif' font-size="13.4" text-anchor="start" font-weight="normal" font-style="normal" textLength="81" lengthAdjust="spacingAndGlyphs">T2D1 = 100 µm</text>
<line x1="181.5" y1="439.7" x2="214" y2="439.7" stroke="#5a78e6" stroke-width="2.6" stroke-linecap="round" stroke-dasharray="9.0 12.9"/>
<text x="216.6" y="444.3" font-family='"Liberation Serif", serif' font-size="13.4" text-anchor="start" font-weight="normal" font-style="normal" textLength="81" lengthAdjust="spacingAndGlyphs">T2D2 = 150 µm</text>
<line x1="181.5" y1="457.25" x2="214" y2="457.25" stroke="#9650e6" stroke-width="2.6" stroke-linecap="round" stroke-dasharray="9.0 12.9"/>
<text x="216.6" y="461.85" font-family='"Liberation Serif", serif' font-size="13.4" text-anchor="start" font-weight="normal" font-style="normal" textLength="81" lengthAdjust="spacingAndGlyphs">T2D3 = 200 µm</text>
<line x1="511.2" y1="370.3" x2="544.5" y2="370.3" stroke="#ef3439" stroke-width="2.6"/>
<text x="547.6" y="374.9" font-family='"Liberation Serif", serif' font-size="13.4" text-anchor="start" font-weight="normal" font-style="normal" textLength="81" lengthAdjust="spacingAndGlyphs">T1D1 = 100 µm</text>
<line x1="511.2" y1="387.76" x2="544.5" y2="387.76" stroke="#ff8a1c" stroke-width="2.6"/>
<text x="547.6" y="392.36" font-family='"Liberation Serif", serif' font-size="13.4" text-anchor="start" font-weight="normal" font-style="normal" textLength="81" lengthAdjust="spacingAndGlyphs">T1D2 = 150 µm</text>
<line x1="511.2" y1="405.22" x2="544.5" y2="405.22" stroke="#ffff00" stroke-width="2.6"/>
<text x="547.6" y="409.82" font-family='"Liberation Serif", serif' font-size="13.4" text-anchor="start" font-weight="normal" font-style="normal" textLength="81" lengthAdjust="spacingAndGlyphs">T1D3 = 200 µm</text>
<line x1="512.5" y1="422.68" x2="544.5" y2="422.68" stroke="#20e884" stroke-width="2.6" stroke-linecap="round" stroke-dasharray="9.0 12.9"/>
<text x="547.6" y="427.28" font-family='"Liberation Serif", serif' font-size="13.4" text-anchor="start" font-weight="normal" font-style="normal" textLength="81" lengthAdjust="spacingAndGlyphs">T2D1 = 100 µm</text>
<line x1="512.5" y1="440.14" x2="544.5" y2="440.14" stroke="#5a78e6" stroke-width="2.6" stroke-linecap="round" stroke-dasharray="9.0 12.9"/>
<text x="547.6" y="444.74" font-family='"Liberation Serif", serif' font-size="13.4" text-anchor="start" font-weight="normal" font-style="normal" textLength="81" lengthAdjust="spacingAndGlyphs">T2D2 = 150 µm</text>
<line x1="512.5" y1="457.6" x2="544.5" y2="457.6" stroke="#9650e6" stroke-width="2.6" stroke-linecap="round" stroke-dasharray="9.0 12.9"/>
<text x="547.6" y="462.2" font-family='"Liberation Serif", serif' font-size="13.4" text-anchor="start" font-weight="normal" font-style="normal" textLength="81" lengthAdjust="spacingAndGlyphs">T2D3 = 200 µm</text>
</svg>
</body></html>
